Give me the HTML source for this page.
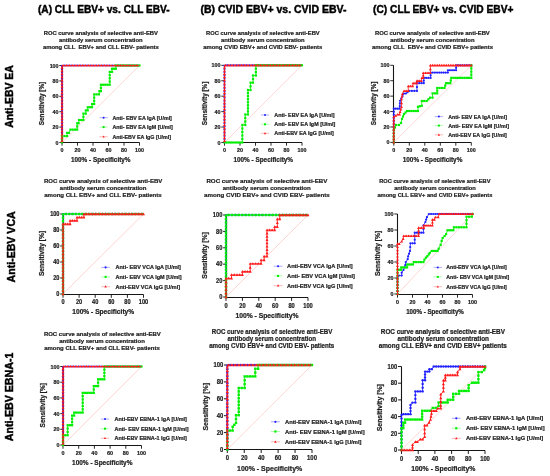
<!DOCTYPE html>
<html><head><meta charset="utf-8"><title>ROC curves</title>
<style>
html,body{margin:0;padding:0;background:#fff;}
body{width:550px;height:476px;overflow:hidden;}
svg{display:block;will-change:transform;}
text{font-family:"Liberation Sans", sans-serif;}
</style></head><body>
<svg width="550" height="476" viewBox="0 0 550 476">
<rect width="550" height="476" fill="#fff"/>
<text x="38.00" y="12.80" font-size="11.20" fill="#000" font-weight="bold" stroke="#000" stroke-width="0.45" textLength="131.60" lengthAdjust="spacingAndGlyphs" xml:space="preserve">(A) CLL EBV+ vs. CLL EBV-</text>
<text x="200.50" y="12.80" font-size="11.20" fill="#000" font-weight="bold" stroke="#000" stroke-width="0.45" textLength="145.90" lengthAdjust="spacingAndGlyphs" xml:space="preserve">(B) CVID EBV+ vs. CVID EBV-</text>
<text x="373.10" y="12.80" font-size="11.20" fill="#000" font-weight="bold" stroke="#000" stroke-width="0.45" textLength="140.40" lengthAdjust="spacingAndGlyphs" xml:space="preserve">(C) CLL EBV+ vs. CVID EBV+</text>
<text x="13.40" y="127.80" font-size="10.90" fill="#000" font-weight="bold" stroke="#000" stroke-width="0.45" textLength="62.70" lengthAdjust="spacingAndGlyphs" transform="rotate(-90 13.40 127.80)" xml:space="preserve">Anti-EBV EA</text>
<text x="15.50" y="282.40" font-size="10.90" fill="#000" font-weight="bold" stroke="#000" stroke-width="0.45" textLength="71.10" lengthAdjust="spacingAndGlyphs" transform="rotate(-90 15.50 282.40)" xml:space="preserve">Anti-EBV VCA</text>
<text x="13.40" y="441.30" font-size="10.90" fill="#000" font-weight="bold" stroke="#000" stroke-width="0.45" textLength="88.70" lengthAdjust="spacingAndGlyphs" transform="rotate(-90 13.40 441.30)" xml:space="preserve">Anti-EBV EBNA-1</text>
<text x="58.61" y="144.59" font-size="6.08" fill="#1e1e1e" font-weight="bold" stroke="#1e1e1e" stroke-width="0.22" text-anchor="end" textLength="2.99" lengthAdjust="spacingAndGlyphs" xml:space="preserve">0</text>
<text x="62.00" y="152.07" font-size="6.08" fill="#1e1e1e" font-weight="bold" stroke="#1e1e1e" stroke-width="0.22" text-anchor="middle" textLength="2.99" lengthAdjust="spacingAndGlyphs" xml:space="preserve">0</text>
<text x="58.61" y="129.19" font-size="6.08" fill="#1e1e1e" font-weight="bold" stroke="#1e1e1e" stroke-width="0.22" text-anchor="end" textLength="5.99" lengthAdjust="spacingAndGlyphs" xml:space="preserve">20</text>
<text x="77.50" y="152.07" font-size="6.08" fill="#1e1e1e" font-weight="bold" stroke="#1e1e1e" stroke-width="0.22" text-anchor="middle" textLength="5.99" lengthAdjust="spacingAndGlyphs" xml:space="preserve">20</text>
<text x="58.61" y="113.79" font-size="6.08" fill="#1e1e1e" font-weight="bold" stroke="#1e1e1e" stroke-width="0.22" text-anchor="end" textLength="5.99" lengthAdjust="spacingAndGlyphs" xml:space="preserve">40</text>
<text x="93.00" y="152.07" font-size="6.08" fill="#1e1e1e" font-weight="bold" stroke="#1e1e1e" stroke-width="0.22" text-anchor="middle" textLength="5.99" lengthAdjust="spacingAndGlyphs" xml:space="preserve">40</text>
<text x="58.61" y="98.39" font-size="6.08" fill="#1e1e1e" font-weight="bold" stroke="#1e1e1e" stroke-width="0.22" text-anchor="end" textLength="5.99" lengthAdjust="spacingAndGlyphs" xml:space="preserve">60</text>
<text x="108.50" y="152.07" font-size="6.08" fill="#1e1e1e" font-weight="bold" stroke="#1e1e1e" stroke-width="0.22" text-anchor="middle" textLength="5.99" lengthAdjust="spacingAndGlyphs" xml:space="preserve">60</text>
<text x="58.61" y="82.99" font-size="6.08" fill="#1e1e1e" font-weight="bold" stroke="#1e1e1e" stroke-width="0.22" text-anchor="end" textLength="5.99" lengthAdjust="spacingAndGlyphs" xml:space="preserve">80</text>
<text x="124.00" y="152.07" font-size="6.08" fill="#1e1e1e" font-weight="bold" stroke="#1e1e1e" stroke-width="0.22" text-anchor="middle" textLength="5.99" lengthAdjust="spacingAndGlyphs" xml:space="preserve">80</text>
<text x="58.61" y="67.59" font-size="6.08" fill="#1e1e1e" font-weight="bold" stroke="#1e1e1e" stroke-width="0.22" text-anchor="end" textLength="8.98" lengthAdjust="spacingAndGlyphs" xml:space="preserve">100</text>
<text x="139.50" y="152.07" font-size="6.08" fill="#1e1e1e" font-weight="bold" stroke="#1e1e1e" stroke-width="0.22" text-anchor="middle" textLength="8.98" lengthAdjust="spacingAndGlyphs" xml:space="preserve">100</text>
<text x="100.75" y="162.00" font-size="6.38" fill="#1e1e1e" font-weight="bold" stroke="#1e1e1e" stroke-width="0.22" text-anchor="middle" textLength="59.60" lengthAdjust="spacingAndGlyphs" xml:space="preserve">100% - Specificity%</text>
<text x="44.20" y="103.50" font-size="6.38" fill="#1e1e1e" font-weight="bold" stroke="#1e1e1e" stroke-width="0.22" text-anchor="middle" textLength="43.50" lengthAdjust="spacingAndGlyphs" transform="rotate(-90 44.20 103.50)" xml:space="preserve">Sensitivity [%]</text>
<line x1="62.00" y1="142.50" x2="139.50" y2="65.50" stroke="#ffc0c0" stroke-width="0.65"/>
<path d="M62.50,65.50 V142.50 H139.50" fill="none" stroke="#151515" stroke-width="1.1"/>
<line x1="59.31" y1="142.50" x2="62.50" y2="142.50" stroke="#151515" stroke-width="0.90"/>
<line x1="62.00" y1="142.50" x2="62.00" y2="145.69" stroke="#151515" stroke-width="0.90"/>
<line x1="59.31" y1="127.10" x2="62.50" y2="127.10" stroke="#151515" stroke-width="0.90"/>
<line x1="77.50" y1="142.50" x2="77.50" y2="145.69" stroke="#151515" stroke-width="0.90"/>
<line x1="59.31" y1="111.70" x2="62.50" y2="111.70" stroke="#151515" stroke-width="0.90"/>
<line x1="93.00" y1="142.50" x2="93.00" y2="145.69" stroke="#151515" stroke-width="0.90"/>
<line x1="59.31" y1="96.30" x2="62.50" y2="96.30" stroke="#151515" stroke-width="0.90"/>
<line x1="108.50" y1="142.50" x2="108.50" y2="145.69" stroke="#151515" stroke-width="0.90"/>
<line x1="59.31" y1="80.90" x2="62.50" y2="80.90" stroke="#151515" stroke-width="0.90"/>
<line x1="124.00" y1="142.50" x2="124.00" y2="145.69" stroke="#151515" stroke-width="0.90"/>
<line x1="59.31" y1="65.50" x2="62.50" y2="65.50" stroke="#151515" stroke-width="0.90"/>
<line x1="139.50" y1="142.50" x2="139.50" y2="145.69" stroke="#151515" stroke-width="0.90"/>
<path d="M62.00,142.50 L62.00,65.50 L139.50,65.50" fill="none" stroke="#1f1fff" stroke-width="0.80"/>
<circle cx="62.00" cy="142.50" r="1.10" fill="#1f1fff"/>
<circle cx="62.00" cy="139.31" r="1.10" fill="#1f1fff"/>
<circle cx="62.00" cy="136.12" r="1.10" fill="#1f1fff"/>
<circle cx="62.00" cy="132.93" r="1.10" fill="#1f1fff"/>
<circle cx="62.00" cy="129.74" r="1.10" fill="#1f1fff"/>
<circle cx="62.00" cy="126.55" r="1.10" fill="#1f1fff"/>
<circle cx="62.00" cy="123.36" r="1.10" fill="#1f1fff"/>
<circle cx="62.00" cy="120.17" r="1.10" fill="#1f1fff"/>
<circle cx="62.00" cy="116.98" r="1.10" fill="#1f1fff"/>
<circle cx="62.00" cy="113.79" r="1.10" fill="#1f1fff"/>
<circle cx="62.00" cy="110.60" r="1.10" fill="#1f1fff"/>
<circle cx="62.00" cy="107.41" r="1.10" fill="#1f1fff"/>
<circle cx="62.00" cy="104.22" r="1.10" fill="#1f1fff"/>
<circle cx="62.00" cy="101.03" r="1.10" fill="#1f1fff"/>
<circle cx="62.00" cy="97.84" r="1.10" fill="#1f1fff"/>
<circle cx="62.00" cy="94.65" r="1.10" fill="#1f1fff"/>
<circle cx="62.00" cy="91.47" r="1.10" fill="#1f1fff"/>
<circle cx="62.00" cy="88.28" r="1.10" fill="#1f1fff"/>
<circle cx="62.00" cy="85.09" r="1.10" fill="#1f1fff"/>
<circle cx="62.00" cy="81.90" r="1.10" fill="#1f1fff"/>
<circle cx="62.00" cy="78.71" r="1.10" fill="#1f1fff"/>
<circle cx="62.00" cy="75.52" r="1.10" fill="#1f1fff"/>
<circle cx="62.00" cy="72.33" r="1.10" fill="#1f1fff"/>
<circle cx="62.00" cy="69.14" r="1.10" fill="#1f1fff"/>
<circle cx="62.00" cy="65.95" r="1.10" fill="#1f1fff"/>
<circle cx="64.74" cy="65.50" r="1.10" fill="#1f1fff"/>
<circle cx="67.93" cy="65.50" r="1.10" fill="#1f1fff"/>
<circle cx="71.12" cy="65.50" r="1.10" fill="#1f1fff"/>
<circle cx="74.31" cy="65.50" r="1.10" fill="#1f1fff"/>
<circle cx="77.50" cy="65.50" r="1.10" fill="#1f1fff"/>
<circle cx="80.69" cy="65.50" r="1.10" fill="#1f1fff"/>
<circle cx="83.88" cy="65.50" r="1.10" fill="#1f1fff"/>
<circle cx="87.07" cy="65.50" r="1.10" fill="#1f1fff"/>
<circle cx="90.26" cy="65.50" r="1.10" fill="#1f1fff"/>
<circle cx="93.45" cy="65.50" r="1.10" fill="#1f1fff"/>
<circle cx="96.64" cy="65.50" r="1.10" fill="#1f1fff"/>
<circle cx="99.83" cy="65.50" r="1.10" fill="#1f1fff"/>
<circle cx="103.02" cy="65.50" r="1.10" fill="#1f1fff"/>
<circle cx="106.21" cy="65.50" r="1.10" fill="#1f1fff"/>
<circle cx="109.40" cy="65.50" r="1.10" fill="#1f1fff"/>
<circle cx="112.59" cy="65.50" r="1.10" fill="#1f1fff"/>
<circle cx="115.78" cy="65.50" r="1.10" fill="#1f1fff"/>
<circle cx="118.97" cy="65.50" r="1.10" fill="#1f1fff"/>
<circle cx="122.16" cy="65.50" r="1.10" fill="#1f1fff"/>
<circle cx="125.35" cy="65.50" r="1.10" fill="#1f1fff"/>
<circle cx="128.54" cy="65.50" r="1.10" fill="#1f1fff"/>
<circle cx="131.73" cy="65.50" r="1.10" fill="#1f1fff"/>
<circle cx="134.91" cy="65.50" r="1.10" fill="#1f1fff"/>
<circle cx="138.10" cy="65.50" r="1.10" fill="#1f1fff"/>
<path d="M62.00,142.50 L62.00,136.11 L67.11,136.11 L67.11,132.88 L68.97,132.88 L70.45,129.64 L77.19,129.64 L77.19,123.25 L78.59,123.25 L79.05,120.02 L83.39,120.02 L83.39,113.62 L85.79,113.62 L85.79,110.39 L87.73,110.39 L87.73,107.23 L92.07,107.23 L92.07,104.00 L94.16,104.00 L94.16,94.38 L98.97,94.38 L99.43,91.14 L100.91,91.14 L100.91,84.75 L109.74,84.75 L109.74,71.89 L111.99,71.89 L111.99,68.73 L115.86,68.73 L115.86,65.50 L139.50,65.50" fill="none" stroke="#00ee00" stroke-width="0.80"/>
<rect x="60.90" y="141.40" width="2.19" height="2.19" fill="#00ee00"/>
<rect x="60.90" y="138.21" width="2.19" height="2.19" fill="#00ee00"/>
<rect x="60.90" y="135.01" width="2.19" height="2.19" fill="#00ee00"/>
<rect x="63.46" y="135.01" width="2.19" height="2.19" fill="#00ee00"/>
<rect x="66.02" y="135.01" width="2.19" height="2.19" fill="#00ee00"/>
<rect x="66.02" y="131.78" width="2.19" height="2.19" fill="#00ee00"/>
<rect x="67.88" y="131.78" width="2.19" height="2.19" fill="#00ee00"/>
<rect x="69.35" y="128.54" width="2.19" height="2.19" fill="#00ee00"/>
<rect x="71.60" y="128.54" width="2.19" height="2.19" fill="#00ee00"/>
<rect x="73.85" y="128.54" width="2.19" height="2.19" fill="#00ee00"/>
<rect x="76.09" y="128.54" width="2.19" height="2.19" fill="#00ee00"/>
<rect x="76.09" y="125.35" width="2.19" height="2.19" fill="#00ee00"/>
<rect x="76.09" y="122.15" width="2.19" height="2.19" fill="#00ee00"/>
<rect x="77.49" y="122.15" width="2.19" height="2.19" fill="#00ee00"/>
<rect x="77.95" y="118.92" width="2.19" height="2.19" fill="#00ee00"/>
<rect x="80.12" y="118.92" width="2.19" height="2.19" fill="#00ee00"/>
<rect x="82.29" y="118.92" width="2.19" height="2.19" fill="#00ee00"/>
<rect x="82.29" y="115.72" width="2.19" height="2.19" fill="#00ee00"/>
<rect x="82.29" y="112.53" width="2.19" height="2.19" fill="#00ee00"/>
<rect x="84.70" y="112.53" width="2.19" height="2.19" fill="#00ee00"/>
<rect x="84.70" y="109.29" width="2.19" height="2.19" fill="#00ee00"/>
<rect x="86.63" y="109.29" width="2.19" height="2.19" fill="#00ee00"/>
<rect x="86.63" y="106.14" width="2.19" height="2.19" fill="#00ee00"/>
<rect x="88.80" y="106.14" width="2.19" height="2.19" fill="#00ee00"/>
<rect x="90.97" y="106.14" width="2.19" height="2.19" fill="#00ee00"/>
<rect x="90.97" y="102.90" width="2.19" height="2.19" fill="#00ee00"/>
<rect x="93.07" y="102.90" width="2.19" height="2.19" fill="#00ee00"/>
<rect x="93.07" y="99.70" width="2.19" height="2.19" fill="#00ee00"/>
<rect x="93.07" y="96.49" width="2.19" height="2.19" fill="#00ee00"/>
<rect x="93.07" y="93.28" width="2.19" height="2.19" fill="#00ee00"/>
<rect x="95.47" y="93.28" width="2.19" height="2.19" fill="#00ee00"/>
<rect x="97.87" y="93.28" width="2.19" height="2.19" fill="#00ee00"/>
<rect x="98.34" y="90.04" width="2.19" height="2.19" fill="#00ee00"/>
<rect x="99.81" y="90.04" width="2.19" height="2.19" fill="#00ee00"/>
<rect x="99.81" y="86.85" width="2.19" height="2.19" fill="#00ee00"/>
<rect x="99.81" y="83.65" width="2.19" height="2.19" fill="#00ee00"/>
<rect x="102.02" y="83.65" width="2.19" height="2.19" fill="#00ee00"/>
<rect x="104.23" y="83.65" width="2.19" height="2.19" fill="#00ee00"/>
<rect x="106.43" y="83.65" width="2.19" height="2.19" fill="#00ee00"/>
<rect x="108.64" y="83.65" width="2.19" height="2.19" fill="#00ee00"/>
<rect x="108.64" y="80.44" width="2.19" height="2.19" fill="#00ee00"/>
<rect x="108.64" y="77.22" width="2.19" height="2.19" fill="#00ee00"/>
<rect x="108.64" y="74.01" width="2.19" height="2.19" fill="#00ee00"/>
<rect x="108.64" y="70.79" width="2.19" height="2.19" fill="#00ee00"/>
<rect x="110.89" y="70.79" width="2.19" height="2.19" fill="#00ee00"/>
<rect x="110.89" y="67.64" width="2.19" height="2.19" fill="#00ee00"/>
<rect x="112.83" y="67.64" width="2.19" height="2.19" fill="#00ee00"/>
<rect x="114.77" y="67.64" width="2.19" height="2.19" fill="#00ee00"/>
<rect x="114.77" y="64.40" width="2.19" height="2.19" fill="#00ee00"/>
<rect x="117.13" y="64.40" width="2.19" height="2.19" fill="#00ee00"/>
<rect x="119.49" y="64.40" width="2.19" height="2.19" fill="#00ee00"/>
<rect x="121.86" y="64.40" width="2.19" height="2.19" fill="#00ee00"/>
<rect x="124.22" y="64.40" width="2.19" height="2.19" fill="#00ee00"/>
<rect x="126.58" y="64.40" width="2.19" height="2.19" fill="#00ee00"/>
<rect x="128.95" y="64.40" width="2.19" height="2.19" fill="#00ee00"/>
<rect x="131.31" y="64.40" width="2.19" height="2.19" fill="#00ee00"/>
<rect x="133.68" y="64.40" width="2.19" height="2.19" fill="#00ee00"/>
<rect x="136.04" y="64.40" width="2.19" height="2.19" fill="#00ee00"/>
<rect x="138.40" y="64.40" width="2.19" height="2.19" fill="#00ee00"/>
<path d="M62.00,142.50 L62.00,65.50 L139.50,65.50" fill="none" stroke="#ff1a1a" stroke-width="0.80"/>
<path d="M62.00,139.42 L63.43,142.00 L60.57,142.00Z" fill="#ff1a1a"/>
<path d="M62.00,136.24 L63.43,138.81 L60.57,138.81Z" fill="#ff1a1a"/>
<path d="M62.00,133.05 L63.43,135.62 L60.57,135.62Z" fill="#ff1a1a"/>
<path d="M62.00,129.86 L63.43,132.43 L60.57,132.43Z" fill="#ff1a1a"/>
<path d="M62.00,126.67 L63.43,129.24 L60.57,129.24Z" fill="#ff1a1a"/>
<path d="M62.00,123.48 L63.43,126.05 L60.57,126.05Z" fill="#ff1a1a"/>
<path d="M62.00,120.29 L63.43,122.86 L60.57,122.86Z" fill="#ff1a1a"/>
<path d="M62.00,117.10 L63.43,119.67 L60.57,119.67Z" fill="#ff1a1a"/>
<path d="M62.00,113.91 L63.43,116.48 L60.57,116.48Z" fill="#ff1a1a"/>
<path d="M62.00,110.72 L63.43,113.29 L60.57,113.29Z" fill="#ff1a1a"/>
<path d="M62.00,107.53 L63.43,110.10 L60.57,110.10Z" fill="#ff1a1a"/>
<path d="M62.00,104.34 L63.43,106.92 L60.57,106.92Z" fill="#ff1a1a"/>
<path d="M62.00,101.15 L63.43,103.73 L60.57,103.73Z" fill="#ff1a1a"/>
<path d="M62.00,97.96 L63.43,100.54 L60.57,100.54Z" fill="#ff1a1a"/>
<path d="M62.00,94.77 L63.43,97.35 L60.57,97.35Z" fill="#ff1a1a"/>
<path d="M62.00,91.58 L63.43,94.16 L60.57,94.16Z" fill="#ff1a1a"/>
<path d="M62.00,88.39 L63.43,90.97 L60.57,90.97Z" fill="#ff1a1a"/>
<path d="M62.00,85.20 L63.43,87.78 L60.57,87.78Z" fill="#ff1a1a"/>
<path d="M62.00,82.01 L63.43,84.59 L60.57,84.59Z" fill="#ff1a1a"/>
<path d="M62.00,78.82 L63.43,81.40 L60.57,81.40Z" fill="#ff1a1a"/>
<path d="M62.00,75.63 L63.43,78.21 L60.57,78.21Z" fill="#ff1a1a"/>
<path d="M62.00,72.44 L63.43,75.02 L60.57,75.02Z" fill="#ff1a1a"/>
<path d="M62.00,69.25 L63.43,71.83 L60.57,71.83Z" fill="#ff1a1a"/>
<path d="M62.00,66.06 L63.43,68.64 L60.57,68.64Z" fill="#ff1a1a"/>
<path d="M63.15,64.02 L64.57,66.60 L61.72,66.60Z" fill="#ff1a1a"/>
<path d="M66.34,64.02 L67.76,66.60 L64.91,66.60Z" fill="#ff1a1a"/>
<path d="M69.53,64.02 L70.95,66.60 L68.10,66.60Z" fill="#ff1a1a"/>
<path d="M72.72,64.02 L74.14,66.60 L71.29,66.60Z" fill="#ff1a1a"/>
<path d="M75.91,64.02 L77.33,66.60 L74.48,66.60Z" fill="#ff1a1a"/>
<path d="M79.10,64.02 L80.52,66.60 L77.67,66.60Z" fill="#ff1a1a"/>
<path d="M82.29,64.02 L83.71,66.60 L80.86,66.60Z" fill="#ff1a1a"/>
<path d="M85.47,64.02 L86.90,66.60 L84.05,66.60Z" fill="#ff1a1a"/>
<path d="M88.66,64.02 L90.09,66.60 L87.24,66.60Z" fill="#ff1a1a"/>
<path d="M91.85,64.02 L93.28,66.60 L90.43,66.60Z" fill="#ff1a1a"/>
<path d="M95.04,64.02 L96.47,66.60 L93.62,66.60Z" fill="#ff1a1a"/>
<path d="M98.23,64.02 L99.66,66.60 L96.81,66.60Z" fill="#ff1a1a"/>
<path d="M101.42,64.02 L102.85,66.60 L100.00,66.60Z" fill="#ff1a1a"/>
<path d="M104.61,64.02 L106.04,66.60 L103.19,66.60Z" fill="#ff1a1a"/>
<path d="M107.80,64.02 L109.23,66.60 L106.38,66.60Z" fill="#ff1a1a"/>
<path d="M110.99,64.02 L112.42,66.60 L109.57,66.60Z" fill="#ff1a1a"/>
<path d="M114.18,64.02 L115.61,66.60 L112.76,66.60Z" fill="#ff1a1a"/>
<path d="M117.37,64.02 L118.80,66.60 L115.95,66.60Z" fill="#ff1a1a"/>
<path d="M120.56,64.02 L121.99,66.60 L119.14,66.60Z" fill="#ff1a1a"/>
<path d="M123.75,64.02 L125.18,66.60 L122.33,66.60Z" fill="#ff1a1a"/>
<path d="M126.94,64.02 L128.37,66.60 L125.52,66.60Z" fill="#ff1a1a"/>
<path d="M130.13,64.02 L131.56,66.60 L128.70,66.60Z" fill="#ff1a1a"/>
<path d="M133.32,64.02 L134.75,66.60 L131.89,66.60Z" fill="#ff1a1a"/>
<path d="M136.51,64.02 L137.94,66.60 L135.08,66.60Z" fill="#ff1a1a"/>
<line x1="99.51" y1="117.70" x2="107.69" y2="117.70" stroke="#8c8cff" stroke-width="0.70"/>
<circle cx="103.60" cy="117.70" r="1.00" fill="#1f1fff"/>
<text x="112.40" y="119.59" font-size="5.48" fill="#1e1e1e" font-weight="bold" stroke="#1e1e1e" stroke-width="0.22" textLength="59.50" lengthAdjust="spacingAndGlyphs" xml:space="preserve">Anti- EBV EA IgA [U/ml]</text>
<line x1="99.51" y1="127.10" x2="107.69" y2="127.10" stroke="#8cff8c" stroke-width="0.70"/>
<rect x="102.60" y="126.10" width="1.99" height="1.99" fill="#00ee00"/>
<text x="112.40" y="128.99" font-size="5.48" fill="#1e1e1e" font-weight="bold" stroke="#1e1e1e" stroke-width="0.22" textLength="60.30" lengthAdjust="spacingAndGlyphs" xml:space="preserve">Anti- EBV EA IgM [U/ml]</text>
<line x1="99.51" y1="136.70" x2="107.69" y2="136.70" stroke="#ff9a9a" stroke-width="0.70"/>
<path d="M103.60,135.40 L104.75,137.55 L102.45,137.55Z" fill="#ff1a1a"/>
<text x="112.40" y="138.59" font-size="5.48" fill="#1e1e1e" font-weight="bold" stroke="#1e1e1e" stroke-width="0.22" textLength="58.70" lengthAdjust="spacingAndGlyphs" xml:space="preserve">Anti-EBV EA IgG [U/ml]</text>
<text x="43.70" y="35.40" font-size="5.88" fill="#1e1e1e" font-weight="bold" stroke="#1e1e1e" stroke-width="0.22" textLength="114.20" lengthAdjust="spacingAndGlyphs" xml:space="preserve">ROC curve analysis of selective anti-EBV</text>
<text x="58.90" y="42.10" font-size="5.88" fill="#1e1e1e" font-weight="bold" stroke="#1e1e1e" stroke-width="0.22" textLength="83.70" lengthAdjust="spacingAndGlyphs" xml:space="preserve">antibody serum concentration</text>
<text x="42.90" y="48.90" font-size="5.88" fill="#1e1e1e" font-weight="bold" stroke="#1e1e1e" stroke-width="0.22" textLength="115.90" lengthAdjust="spacingAndGlyphs" xml:space="preserve">among CLL  EBV+ and CLL EBV- patients</text>
<text x="220.61" y="144.60" font-size="6.09" fill="#1e1e1e" font-weight="bold" stroke="#1e1e1e" stroke-width="0.22" text-anchor="end" textLength="3.00" lengthAdjust="spacingAndGlyphs" xml:space="preserve">0</text>
<text x="224.50" y="152.08" font-size="6.09" fill="#1e1e1e" font-weight="bold" stroke="#1e1e1e" stroke-width="0.22" text-anchor="middle" textLength="3.00" lengthAdjust="spacingAndGlyphs" xml:space="preserve">0</text>
<text x="220.61" y="129.16" font-size="6.09" fill="#1e1e1e" font-weight="bold" stroke="#1e1e1e" stroke-width="0.22" text-anchor="end" textLength="5.99" lengthAdjust="spacingAndGlyphs" xml:space="preserve">20</text>
<text x="240.00" y="152.08" font-size="6.09" fill="#1e1e1e" font-weight="bold" stroke="#1e1e1e" stroke-width="0.22" text-anchor="middle" textLength="5.99" lengthAdjust="spacingAndGlyphs" xml:space="preserve">20</text>
<text x="220.61" y="113.72" font-size="6.09" fill="#1e1e1e" font-weight="bold" stroke="#1e1e1e" stroke-width="0.22" text-anchor="end" textLength="5.99" lengthAdjust="spacingAndGlyphs" xml:space="preserve">40</text>
<text x="255.50" y="152.08" font-size="6.09" fill="#1e1e1e" font-weight="bold" stroke="#1e1e1e" stroke-width="0.22" text-anchor="middle" textLength="5.99" lengthAdjust="spacingAndGlyphs" xml:space="preserve">40</text>
<text x="220.61" y="98.28" font-size="6.09" fill="#1e1e1e" font-weight="bold" stroke="#1e1e1e" stroke-width="0.22" text-anchor="end" textLength="5.99" lengthAdjust="spacingAndGlyphs" xml:space="preserve">60</text>
<text x="271.00" y="152.08" font-size="6.09" fill="#1e1e1e" font-weight="bold" stroke="#1e1e1e" stroke-width="0.22" text-anchor="middle" textLength="5.99" lengthAdjust="spacingAndGlyphs" xml:space="preserve">60</text>
<text x="220.61" y="82.84" font-size="6.09" fill="#1e1e1e" font-weight="bold" stroke="#1e1e1e" stroke-width="0.22" text-anchor="end" textLength="5.99" lengthAdjust="spacingAndGlyphs" xml:space="preserve">80</text>
<text x="286.50" y="152.08" font-size="6.09" fill="#1e1e1e" font-weight="bold" stroke="#1e1e1e" stroke-width="0.22" text-anchor="middle" textLength="5.99" lengthAdjust="spacingAndGlyphs" xml:space="preserve">80</text>
<text x="220.61" y="67.40" font-size="6.09" fill="#1e1e1e" font-weight="bold" stroke="#1e1e1e" stroke-width="0.22" text-anchor="end" textLength="8.99" lengthAdjust="spacingAndGlyphs" xml:space="preserve">100</text>
<text x="302.00" y="152.08" font-size="6.09" fill="#1e1e1e" font-weight="bold" stroke="#1e1e1e" stroke-width="0.22" text-anchor="middle" textLength="8.99" lengthAdjust="spacingAndGlyphs" xml:space="preserve">100</text>
<text x="263.25" y="162.05" font-size="6.39" fill="#1e1e1e" font-weight="bold" stroke="#1e1e1e" stroke-width="0.22" text-anchor="middle" textLength="59.60" lengthAdjust="spacingAndGlyphs" xml:space="preserve">100% - Specificity%</text>
<text x="206.70" y="103.40" font-size="6.39" fill="#1e1e1e" font-weight="bold" stroke="#1e1e1e" stroke-width="0.22" text-anchor="middle" textLength="43.61" lengthAdjust="spacingAndGlyphs" transform="rotate(-90 206.70 103.40)" xml:space="preserve">Sensitivity [%]</text>
<line x1="224.50" y1="142.50" x2="302.00" y2="65.30" stroke="#ffc0c0" stroke-width="0.65"/>
<path d="M224.50,65.30 V142.50 H302.00" fill="none" stroke="#151515" stroke-width="1.1"/>
<line x1="221.31" y1="142.50" x2="224.50" y2="142.50" stroke="#151515" stroke-width="0.90"/>
<line x1="224.50" y1="142.50" x2="224.50" y2="145.69" stroke="#151515" stroke-width="0.90"/>
<line x1="221.31" y1="127.06" x2="224.50" y2="127.06" stroke="#151515" stroke-width="0.90"/>
<line x1="240.00" y1="142.50" x2="240.00" y2="145.69" stroke="#151515" stroke-width="0.90"/>
<line x1="221.31" y1="111.62" x2="224.50" y2="111.62" stroke="#151515" stroke-width="0.90"/>
<line x1="255.50" y1="142.50" x2="255.50" y2="145.69" stroke="#151515" stroke-width="0.90"/>
<line x1="221.31" y1="96.18" x2="224.50" y2="96.18" stroke="#151515" stroke-width="0.90"/>
<line x1="271.00" y1="142.50" x2="271.00" y2="145.69" stroke="#151515" stroke-width="0.90"/>
<line x1="221.31" y1="80.74" x2="224.50" y2="80.74" stroke="#151515" stroke-width="0.90"/>
<line x1="286.50" y1="142.50" x2="286.50" y2="145.69" stroke="#151515" stroke-width="0.90"/>
<line x1="221.31" y1="65.30" x2="224.50" y2="65.30" stroke="#151515" stroke-width="0.90"/>
<line x1="302.00" y1="142.50" x2="302.00" y2="145.69" stroke="#151515" stroke-width="0.90"/>
<path d="M224.50,142.50 L224.50,65.30 L302.00,65.30" fill="none" stroke="#1f1fff" stroke-width="0.80"/>
<circle cx="224.50" cy="142.50" r="1.10" fill="#1f1fff"/>
<circle cx="224.50" cy="139.31" r="1.10" fill="#1f1fff"/>
<circle cx="224.50" cy="136.11" r="1.10" fill="#1f1fff"/>
<circle cx="224.50" cy="132.92" r="1.10" fill="#1f1fff"/>
<circle cx="224.50" cy="129.72" r="1.10" fill="#1f1fff"/>
<circle cx="224.50" cy="126.53" r="1.10" fill="#1f1fff"/>
<circle cx="224.50" cy="123.34" r="1.10" fill="#1f1fff"/>
<circle cx="224.50" cy="120.14" r="1.10" fill="#1f1fff"/>
<circle cx="224.50" cy="116.95" r="1.10" fill="#1f1fff"/>
<circle cx="224.50" cy="113.76" r="1.10" fill="#1f1fff"/>
<circle cx="224.50" cy="110.56" r="1.10" fill="#1f1fff"/>
<circle cx="224.50" cy="107.37" r="1.10" fill="#1f1fff"/>
<circle cx="224.50" cy="104.17" r="1.10" fill="#1f1fff"/>
<circle cx="224.50" cy="100.98" r="1.10" fill="#1f1fff"/>
<circle cx="224.50" cy="97.79" r="1.10" fill="#1f1fff"/>
<circle cx="224.50" cy="94.59" r="1.10" fill="#1f1fff"/>
<circle cx="224.50" cy="91.40" r="1.10" fill="#1f1fff"/>
<circle cx="224.50" cy="88.21" r="1.10" fill="#1f1fff"/>
<circle cx="224.50" cy="85.01" r="1.10" fill="#1f1fff"/>
<circle cx="224.50" cy="81.82" r="1.10" fill="#1f1fff"/>
<circle cx="224.50" cy="78.62" r="1.10" fill="#1f1fff"/>
<circle cx="224.50" cy="75.43" r="1.10" fill="#1f1fff"/>
<circle cx="224.50" cy="72.24" r="1.10" fill="#1f1fff"/>
<circle cx="224.50" cy="69.04" r="1.10" fill="#1f1fff"/>
<circle cx="224.50" cy="65.85" r="1.10" fill="#1f1fff"/>
<circle cx="227.15" cy="65.30" r="1.10" fill="#1f1fff"/>
<circle cx="230.34" cy="65.30" r="1.10" fill="#1f1fff"/>
<circle cx="233.53" cy="65.30" r="1.10" fill="#1f1fff"/>
<circle cx="236.73" cy="65.30" r="1.10" fill="#1f1fff"/>
<circle cx="239.92" cy="65.30" r="1.10" fill="#1f1fff"/>
<circle cx="243.11" cy="65.30" r="1.10" fill="#1f1fff"/>
<circle cx="246.31" cy="65.30" r="1.10" fill="#1f1fff"/>
<circle cx="249.50" cy="65.30" r="1.10" fill="#1f1fff"/>
<circle cx="252.70" cy="65.30" r="1.10" fill="#1f1fff"/>
<circle cx="255.89" cy="65.30" r="1.10" fill="#1f1fff"/>
<circle cx="259.08" cy="65.30" r="1.10" fill="#1f1fff"/>
<circle cx="262.28" cy="65.30" r="1.10" fill="#1f1fff"/>
<circle cx="265.47" cy="65.30" r="1.10" fill="#1f1fff"/>
<circle cx="268.66" cy="65.30" r="1.10" fill="#1f1fff"/>
<circle cx="271.86" cy="65.30" r="1.10" fill="#1f1fff"/>
<circle cx="275.05" cy="65.30" r="1.10" fill="#1f1fff"/>
<circle cx="278.25" cy="65.30" r="1.10" fill="#1f1fff"/>
<circle cx="281.44" cy="65.30" r="1.10" fill="#1f1fff"/>
<circle cx="284.63" cy="65.30" r="1.10" fill="#1f1fff"/>
<circle cx="287.83" cy="65.30" r="1.10" fill="#1f1fff"/>
<circle cx="291.02" cy="65.30" r="1.10" fill="#1f1fff"/>
<circle cx="294.22" cy="65.30" r="1.10" fill="#1f1fff"/>
<circle cx="297.41" cy="65.30" r="1.10" fill="#1f1fff"/>
<circle cx="300.60" cy="65.30" r="1.10" fill="#1f1fff"/>
<path d="M224.50,142.50 L242.32,142.50 L242.32,124.98 L245.27,124.98 L245.27,114.48 L247.98,114.48 L247.98,90.00 L250.54,90.00 L250.54,82.67 L253.02,82.67 L253.02,75.49 L255.89,75.49 L255.89,65.30 L302.00,65.30" fill="none" stroke="#00ee00" stroke-width="0.80"/>
<rect x="223.40" y="141.40" width="2.20" height="2.20" fill="#00ee00"/>
<rect x="225.63" y="141.40" width="2.20" height="2.20" fill="#00ee00"/>
<rect x="227.86" y="141.40" width="2.20" height="2.20" fill="#00ee00"/>
<rect x="230.09" y="141.40" width="2.20" height="2.20" fill="#00ee00"/>
<rect x="232.31" y="141.40" width="2.20" height="2.20" fill="#00ee00"/>
<rect x="234.54" y="141.40" width="2.20" height="2.20" fill="#00ee00"/>
<rect x="236.77" y="141.40" width="2.20" height="2.20" fill="#00ee00"/>
<rect x="239.00" y="141.40" width="2.20" height="2.20" fill="#00ee00"/>
<rect x="241.23" y="141.40" width="2.20" height="2.20" fill="#00ee00"/>
<rect x="241.23" y="137.90" width="2.20" height="2.20" fill="#00ee00"/>
<rect x="241.23" y="134.39" width="2.20" height="2.20" fill="#00ee00"/>
<rect x="241.23" y="130.89" width="2.20" height="2.20" fill="#00ee00"/>
<rect x="241.23" y="127.38" width="2.20" height="2.20" fill="#00ee00"/>
<rect x="241.23" y="123.88" width="2.20" height="2.20" fill="#00ee00"/>
<rect x="244.17" y="123.88" width="2.20" height="2.20" fill="#00ee00"/>
<rect x="244.17" y="120.38" width="2.20" height="2.20" fill="#00ee00"/>
<rect x="244.17" y="116.88" width="2.20" height="2.20" fill="#00ee00"/>
<rect x="244.17" y="113.38" width="2.20" height="2.20" fill="#00ee00"/>
<rect x="246.88" y="113.38" width="2.20" height="2.20" fill="#00ee00"/>
<rect x="246.88" y="110.32" width="2.20" height="2.20" fill="#00ee00"/>
<rect x="246.88" y="107.26" width="2.20" height="2.20" fill="#00ee00"/>
<rect x="246.88" y="104.20" width="2.20" height="2.20" fill="#00ee00"/>
<rect x="246.88" y="101.14" width="2.20" height="2.20" fill="#00ee00"/>
<rect x="246.88" y="98.08" width="2.20" height="2.20" fill="#00ee00"/>
<rect x="246.88" y="95.02" width="2.20" height="2.20" fill="#00ee00"/>
<rect x="246.88" y="91.97" width="2.20" height="2.20" fill="#00ee00"/>
<rect x="246.88" y="88.91" width="2.20" height="2.20" fill="#00ee00"/>
<rect x="249.44" y="88.91" width="2.20" height="2.20" fill="#00ee00"/>
<rect x="249.44" y="85.24" width="2.20" height="2.20" fill="#00ee00"/>
<rect x="249.44" y="81.57" width="2.20" height="2.20" fill="#00ee00"/>
<rect x="251.92" y="81.57" width="2.20" height="2.20" fill="#00ee00"/>
<rect x="251.92" y="77.98" width="2.20" height="2.20" fill="#00ee00"/>
<rect x="251.92" y="74.39" width="2.20" height="2.20" fill="#00ee00"/>
<rect x="254.79" y="74.39" width="2.20" height="2.20" fill="#00ee00"/>
<rect x="254.79" y="71.00" width="2.20" height="2.20" fill="#00ee00"/>
<rect x="254.79" y="67.60" width="2.20" height="2.20" fill="#00ee00"/>
<rect x="254.79" y="64.20" width="2.20" height="2.20" fill="#00ee00"/>
<rect x="257.10" y="64.20" width="2.20" height="2.20" fill="#00ee00"/>
<rect x="259.40" y="64.20" width="2.20" height="2.20" fill="#00ee00"/>
<rect x="261.71" y="64.20" width="2.20" height="2.20" fill="#00ee00"/>
<rect x="264.01" y="64.20" width="2.20" height="2.20" fill="#00ee00"/>
<rect x="266.32" y="64.20" width="2.20" height="2.20" fill="#00ee00"/>
<rect x="268.62" y="64.20" width="2.20" height="2.20" fill="#00ee00"/>
<rect x="270.93" y="64.20" width="2.20" height="2.20" fill="#00ee00"/>
<rect x="273.23" y="64.20" width="2.20" height="2.20" fill="#00ee00"/>
<rect x="275.54" y="64.20" width="2.20" height="2.20" fill="#00ee00"/>
<rect x="277.85" y="64.20" width="2.20" height="2.20" fill="#00ee00"/>
<rect x="280.15" y="64.20" width="2.20" height="2.20" fill="#00ee00"/>
<rect x="282.46" y="64.20" width="2.20" height="2.20" fill="#00ee00"/>
<rect x="284.76" y="64.20" width="2.20" height="2.20" fill="#00ee00"/>
<rect x="287.07" y="64.20" width="2.20" height="2.20" fill="#00ee00"/>
<rect x="289.37" y="64.20" width="2.20" height="2.20" fill="#00ee00"/>
<rect x="291.68" y="64.20" width="2.20" height="2.20" fill="#00ee00"/>
<rect x="293.99" y="64.20" width="2.20" height="2.20" fill="#00ee00"/>
<rect x="296.29" y="64.20" width="2.20" height="2.20" fill="#00ee00"/>
<rect x="298.60" y="64.20" width="2.20" height="2.20" fill="#00ee00"/>
<rect x="300.90" y="64.20" width="2.20" height="2.20" fill="#00ee00"/>
<path d="M224.50,142.50 L224.50,65.30 L302.00,65.30" fill="none" stroke="#ff1a1a" stroke-width="0.80"/>
<path d="M224.50,139.42 L225.93,142.00 L223.07,142.00Z" fill="#ff1a1a"/>
<path d="M224.50,136.23 L225.93,138.81 L223.07,138.81Z" fill="#ff1a1a"/>
<path d="M224.50,133.03 L225.93,135.61 L223.07,135.61Z" fill="#ff1a1a"/>
<path d="M224.50,129.84 L225.93,132.42 L223.07,132.42Z" fill="#ff1a1a"/>
<path d="M224.50,126.65 L225.93,129.23 L223.07,129.23Z" fill="#ff1a1a"/>
<path d="M224.50,123.45 L225.93,126.03 L223.07,126.03Z" fill="#ff1a1a"/>
<path d="M224.50,120.26 L225.93,122.84 L223.07,122.84Z" fill="#ff1a1a"/>
<path d="M224.50,117.06 L225.93,119.64 L223.07,119.64Z" fill="#ff1a1a"/>
<path d="M224.50,113.87 L225.93,116.45 L223.07,116.45Z" fill="#ff1a1a"/>
<path d="M224.50,110.68 L225.93,113.26 L223.07,113.26Z" fill="#ff1a1a"/>
<path d="M224.50,107.48 L225.93,110.06 L223.07,110.06Z" fill="#ff1a1a"/>
<path d="M224.50,104.29 L225.93,106.87 L223.07,106.87Z" fill="#ff1a1a"/>
<path d="M224.50,101.10 L225.93,103.68 L223.07,103.68Z" fill="#ff1a1a"/>
<path d="M224.50,97.90 L225.93,100.48 L223.07,100.48Z" fill="#ff1a1a"/>
<path d="M224.50,94.71 L225.93,97.29 L223.07,97.29Z" fill="#ff1a1a"/>
<path d="M224.50,91.51 L225.93,94.09 L223.07,94.09Z" fill="#ff1a1a"/>
<path d="M224.50,88.32 L225.93,90.90 L223.07,90.90Z" fill="#ff1a1a"/>
<path d="M224.50,85.13 L225.93,87.71 L223.07,87.71Z" fill="#ff1a1a"/>
<path d="M224.50,81.93 L225.93,84.51 L223.07,84.51Z" fill="#ff1a1a"/>
<path d="M224.50,78.74 L225.93,81.32 L223.07,81.32Z" fill="#ff1a1a"/>
<path d="M224.50,75.54 L225.93,78.12 L223.07,78.12Z" fill="#ff1a1a"/>
<path d="M224.50,72.35 L225.93,74.93 L223.07,74.93Z" fill="#ff1a1a"/>
<path d="M224.50,69.16 L225.93,71.74 L223.07,71.74Z" fill="#ff1a1a"/>
<path d="M224.50,65.96 L225.93,68.54 L223.07,68.54Z" fill="#ff1a1a"/>
<path d="M225.55,63.82 L226.98,66.40 L224.12,66.40Z" fill="#ff1a1a"/>
<path d="M228.74,63.82 L230.17,66.40 L227.31,66.40Z" fill="#ff1a1a"/>
<path d="M231.94,63.82 L233.36,66.40 L230.51,66.40Z" fill="#ff1a1a"/>
<path d="M235.13,63.82 L236.56,66.40 L233.70,66.40Z" fill="#ff1a1a"/>
<path d="M238.32,63.82 L239.75,66.40 L236.90,66.40Z" fill="#ff1a1a"/>
<path d="M241.52,63.82 L242.94,66.40 L240.09,66.40Z" fill="#ff1a1a"/>
<path d="M244.71,63.82 L246.14,66.40 L243.28,66.40Z" fill="#ff1a1a"/>
<path d="M247.90,63.82 L249.33,66.40 L246.48,66.40Z" fill="#ff1a1a"/>
<path d="M251.10,63.82 L252.53,66.40 L249.67,66.40Z" fill="#ff1a1a"/>
<path d="M254.29,63.82 L255.72,66.40 L252.87,66.40Z" fill="#ff1a1a"/>
<path d="M257.49,63.82 L258.91,66.40 L256.06,66.40Z" fill="#ff1a1a"/>
<path d="M260.68,63.82 L262.11,66.40 L259.25,66.40Z" fill="#ff1a1a"/>
<path d="M263.87,63.82 L265.30,66.40 L262.45,66.40Z" fill="#ff1a1a"/>
<path d="M267.07,63.82 L268.49,66.40 L265.64,66.40Z" fill="#ff1a1a"/>
<path d="M270.26,63.82 L271.69,66.40 L268.83,66.40Z" fill="#ff1a1a"/>
<path d="M273.46,63.82 L274.88,66.40 L272.03,66.40Z" fill="#ff1a1a"/>
<path d="M276.65,63.82 L278.08,66.40 L275.22,66.40Z" fill="#ff1a1a"/>
<path d="M279.84,63.82 L281.27,66.40 L278.42,66.40Z" fill="#ff1a1a"/>
<path d="M283.04,63.82 L284.46,66.40 L281.61,66.40Z" fill="#ff1a1a"/>
<path d="M286.23,63.82 L287.66,66.40 L284.80,66.40Z" fill="#ff1a1a"/>
<path d="M289.42,63.82 L290.85,66.40 L288.00,66.40Z" fill="#ff1a1a"/>
<path d="M292.62,63.82 L294.05,66.40 L291.19,66.40Z" fill="#ff1a1a"/>
<path d="M295.81,63.82 L297.24,66.40 L294.38,66.40Z" fill="#ff1a1a"/>
<path d="M299.01,63.82 L300.43,66.40 L297.58,66.40Z" fill="#ff1a1a"/>
<line x1="260.91" y1="115.00" x2="269.09" y2="115.00" stroke="#8c8cff" stroke-width="0.70"/>
<circle cx="265.00" cy="115.00" r="1.00" fill="#1f1fff"/>
<text x="274.30" y="116.90" font-size="5.49" fill="#1e1e1e" font-weight="bold" stroke="#1e1e1e" stroke-width="0.22" textLength="60.30" lengthAdjust="spacingAndGlyphs" xml:space="preserve">Anti- EBV EA IgA [U/ml]</text>
<line x1="260.91" y1="124.30" x2="269.09" y2="124.30" stroke="#8cff8c" stroke-width="0.70"/>
<rect x="264.00" y="123.30" width="2.00" height="2.00" fill="#00ee00"/>
<text x="274.30" y="126.20" font-size="5.49" fill="#1e1e1e" font-weight="bold" stroke="#1e1e1e" stroke-width="0.22" textLength="61.10" lengthAdjust="spacingAndGlyphs" xml:space="preserve">Anti- EBV EA IgM [U/ml]</text>
<line x1="260.91" y1="133.30" x2="269.09" y2="133.30" stroke="#ff9a9a" stroke-width="0.70"/>
<path d="M265.00,132.00 L266.15,134.15 L263.85,134.15Z" fill="#ff1a1a"/>
<text x="274.30" y="135.20" font-size="5.49" fill="#1e1e1e" font-weight="bold" stroke="#1e1e1e" stroke-width="0.22" textLength="59.50" lengthAdjust="spacingAndGlyphs" xml:space="preserve">Anti-EBV EA IgG [U/ml]</text>
<text x="206.10" y="35.40" font-size="5.89" fill="#1e1e1e" font-weight="bold" stroke="#1e1e1e" stroke-width="0.22" textLength="113.60" lengthAdjust="spacingAndGlyphs" xml:space="preserve">ROC curve analysis of selective anti-EBV</text>
<text x="221.00" y="42.10" font-size="5.89" fill="#1e1e1e" font-weight="bold" stroke="#1e1e1e" stroke-width="0.22" textLength="83.70" lengthAdjust="spacingAndGlyphs" xml:space="preserve">antibody serum concentration</text>
<text x="203.20" y="48.90" font-size="5.89" fill="#1e1e1e" font-weight="bold" stroke="#1e1e1e" stroke-width="0.22" textLength="119.10" lengthAdjust="spacingAndGlyphs" xml:space="preserve">among CVID EBV+ and CVID EBV- patients</text>
<text x="389.61" y="144.49" font-size="6.08" fill="#1e1e1e" font-weight="bold" stroke="#1e1e1e" stroke-width="0.22" text-anchor="end" textLength="3.00" lengthAdjust="spacingAndGlyphs" xml:space="preserve">0</text>
<text x="393.80" y="152.08" font-size="6.08" fill="#1e1e1e" font-weight="bold" stroke="#1e1e1e" stroke-width="0.22" text-anchor="middle" textLength="3.00" lengthAdjust="spacingAndGlyphs" xml:space="preserve">0</text>
<text x="389.61" y="129.07" font-size="6.08" fill="#1e1e1e" font-weight="bold" stroke="#1e1e1e" stroke-width="0.22" text-anchor="end" textLength="5.99" lengthAdjust="spacingAndGlyphs" xml:space="preserve">20</text>
<text x="409.30" y="152.08" font-size="6.08" fill="#1e1e1e" font-weight="bold" stroke="#1e1e1e" stroke-width="0.22" text-anchor="middle" textLength="5.99" lengthAdjust="spacingAndGlyphs" xml:space="preserve">20</text>
<text x="389.61" y="113.65" font-size="6.08" fill="#1e1e1e" font-weight="bold" stroke="#1e1e1e" stroke-width="0.22" text-anchor="end" textLength="5.99" lengthAdjust="spacingAndGlyphs" xml:space="preserve">40</text>
<text x="424.80" y="152.08" font-size="6.08" fill="#1e1e1e" font-weight="bold" stroke="#1e1e1e" stroke-width="0.22" text-anchor="middle" textLength="5.99" lengthAdjust="spacingAndGlyphs" xml:space="preserve">40</text>
<text x="389.61" y="98.23" font-size="6.08" fill="#1e1e1e" font-weight="bold" stroke="#1e1e1e" stroke-width="0.22" text-anchor="end" textLength="5.99" lengthAdjust="spacingAndGlyphs" xml:space="preserve">60</text>
<text x="440.30" y="152.08" font-size="6.08" fill="#1e1e1e" font-weight="bold" stroke="#1e1e1e" stroke-width="0.22" text-anchor="middle" textLength="5.99" lengthAdjust="spacingAndGlyphs" xml:space="preserve">60</text>
<text x="389.61" y="82.81" font-size="6.08" fill="#1e1e1e" font-weight="bold" stroke="#1e1e1e" stroke-width="0.22" text-anchor="end" textLength="5.99" lengthAdjust="spacingAndGlyphs" xml:space="preserve">80</text>
<text x="455.80" y="152.08" font-size="6.08" fill="#1e1e1e" font-weight="bold" stroke="#1e1e1e" stroke-width="0.22" text-anchor="middle" textLength="5.99" lengthAdjust="spacingAndGlyphs" xml:space="preserve">80</text>
<text x="389.61" y="67.39" font-size="6.08" fill="#1e1e1e" font-weight="bold" stroke="#1e1e1e" stroke-width="0.22" text-anchor="end" textLength="8.99" lengthAdjust="spacingAndGlyphs" xml:space="preserve">100</text>
<text x="471.30" y="152.08" font-size="6.08" fill="#1e1e1e" font-weight="bold" stroke="#1e1e1e" stroke-width="0.22" text-anchor="middle" textLength="8.99" lengthAdjust="spacingAndGlyphs" xml:space="preserve">100</text>
<text x="432.55" y="161.93" font-size="6.38" fill="#1e1e1e" font-weight="bold" stroke="#1e1e1e" stroke-width="0.22" text-anchor="middle" textLength="59.60" lengthAdjust="spacingAndGlyphs" xml:space="preserve">100% - Specificity%</text>
<text x="376.00" y="103.35" font-size="6.38" fill="#1e1e1e" font-weight="bold" stroke="#1e1e1e" stroke-width="0.22" text-anchor="middle" textLength="43.56" lengthAdjust="spacingAndGlyphs" transform="rotate(-90 376.00 103.35)" xml:space="preserve">Sensitivity [%]</text>
<line x1="393.80" y1="142.40" x2="471.30" y2="65.30" stroke="#ffc0c0" stroke-width="0.65"/>
<path d="M393.50,65.30 V142.50 H471.30" fill="none" stroke="#151515" stroke-width="1.1"/>
<line x1="390.31" y1="142.40" x2="393.50" y2="142.40" stroke="#151515" stroke-width="0.90"/>
<line x1="393.80" y1="142.50" x2="393.80" y2="145.69" stroke="#151515" stroke-width="0.90"/>
<line x1="390.31" y1="126.98" x2="393.50" y2="126.98" stroke="#151515" stroke-width="0.90"/>
<line x1="409.30" y1="142.50" x2="409.30" y2="145.69" stroke="#151515" stroke-width="0.90"/>
<line x1="390.31" y1="111.56" x2="393.50" y2="111.56" stroke="#151515" stroke-width="0.90"/>
<line x1="424.80" y1="142.50" x2="424.80" y2="145.69" stroke="#151515" stroke-width="0.90"/>
<line x1="390.31" y1="96.14" x2="393.50" y2="96.14" stroke="#151515" stroke-width="0.90"/>
<line x1="440.30" y1="142.50" x2="440.30" y2="145.69" stroke="#151515" stroke-width="0.90"/>
<line x1="390.31" y1="80.72" x2="393.50" y2="80.72" stroke="#151515" stroke-width="0.90"/>
<line x1="455.80" y1="142.50" x2="455.80" y2="145.69" stroke="#151515" stroke-width="0.90"/>
<line x1="390.31" y1="65.30" x2="393.50" y2="65.30" stroke="#151515" stroke-width="0.90"/>
<line x1="471.30" y1="142.50" x2="471.30" y2="145.69" stroke="#151515" stroke-width="0.90"/>
<path d="M393.80,142.40 L393.80,108.71 L399.61,108.71 L400.08,100.77 L402.48,96.29 L404.03,93.52 L405.89,93.52 L409.30,90.90 L416.97,90.90 L416.97,83.19 L423.79,83.19 L423.79,77.94 L430.61,77.94 L430.61,72.62 L447.89,72.62 L447.89,70.23 L456.11,70.23 L456.11,65.30 L471.30,65.30" fill="none" stroke="#1f1fff" stroke-width="0.80"/>
<circle cx="393.80" cy="142.40" r="1.10" fill="#1f1fff"/>
<circle cx="393.80" cy="139.34" r="1.10" fill="#1f1fff"/>
<circle cx="393.80" cy="136.27" r="1.10" fill="#1f1fff"/>
<circle cx="393.80" cy="133.21" r="1.10" fill="#1f1fff"/>
<circle cx="393.80" cy="130.15" r="1.10" fill="#1f1fff"/>
<circle cx="393.80" cy="127.09" r="1.10" fill="#1f1fff"/>
<circle cx="393.80" cy="124.02" r="1.10" fill="#1f1fff"/>
<circle cx="393.80" cy="120.96" r="1.10" fill="#1f1fff"/>
<circle cx="393.80" cy="117.90" r="1.10" fill="#1f1fff"/>
<circle cx="393.80" cy="114.83" r="1.10" fill="#1f1fff"/>
<circle cx="393.80" cy="111.77" r="1.10" fill="#1f1fff"/>
<circle cx="393.80" cy="108.71" r="1.10" fill="#1f1fff"/>
<circle cx="395.74" cy="108.71" r="1.10" fill="#1f1fff"/>
<circle cx="397.68" cy="108.71" r="1.10" fill="#1f1fff"/>
<circle cx="399.61" cy="108.71" r="1.10" fill="#1f1fff"/>
<circle cx="399.77" cy="106.06" r="1.10" fill="#1f1fff"/>
<circle cx="399.92" cy="103.41" r="1.10" fill="#1f1fff"/>
<circle cx="400.08" cy="100.77" r="1.10" fill="#1f1fff"/>
<circle cx="401.28" cy="98.53" r="1.10" fill="#1f1fff"/>
<circle cx="402.48" cy="96.29" r="1.10" fill="#1f1fff"/>
<circle cx="404.03" cy="93.52" r="1.10" fill="#1f1fff"/>
<circle cx="405.89" cy="93.52" r="1.10" fill="#1f1fff"/>
<circle cx="407.60" cy="92.21" r="1.10" fill="#1f1fff"/>
<circle cx="409.30" cy="90.90" r="1.10" fill="#1f1fff"/>
<circle cx="411.86" cy="90.90" r="1.10" fill="#1f1fff"/>
<circle cx="414.42" cy="90.90" r="1.10" fill="#1f1fff"/>
<circle cx="416.97" cy="90.90" r="1.10" fill="#1f1fff"/>
<circle cx="416.97" cy="87.04" r="1.10" fill="#1f1fff"/>
<circle cx="416.97" cy="83.19" r="1.10" fill="#1f1fff"/>
<circle cx="419.25" cy="83.19" r="1.10" fill="#1f1fff"/>
<circle cx="421.52" cy="83.19" r="1.10" fill="#1f1fff"/>
<circle cx="423.79" cy="83.19" r="1.10" fill="#1f1fff"/>
<circle cx="423.79" cy="80.57" r="1.10" fill="#1f1fff"/>
<circle cx="423.79" cy="77.94" r="1.10" fill="#1f1fff"/>
<circle cx="426.07" cy="77.94" r="1.10" fill="#1f1fff"/>
<circle cx="428.34" cy="77.94" r="1.10" fill="#1f1fff"/>
<circle cx="430.61" cy="77.94" r="1.10" fill="#1f1fff"/>
<circle cx="430.61" cy="75.28" r="1.10" fill="#1f1fff"/>
<circle cx="430.61" cy="72.62" r="1.10" fill="#1f1fff"/>
<circle cx="432.77" cy="72.62" r="1.10" fill="#1f1fff"/>
<circle cx="434.93" cy="72.62" r="1.10" fill="#1f1fff"/>
<circle cx="437.09" cy="72.62" r="1.10" fill="#1f1fff"/>
<circle cx="439.25" cy="72.62" r="1.10" fill="#1f1fff"/>
<circle cx="441.41" cy="72.62" r="1.10" fill="#1f1fff"/>
<circle cx="443.57" cy="72.62" r="1.10" fill="#1f1fff"/>
<circle cx="445.73" cy="72.62" r="1.10" fill="#1f1fff"/>
<circle cx="447.89" cy="72.62" r="1.10" fill="#1f1fff"/>
<circle cx="447.89" cy="70.23" r="1.10" fill="#1f1fff"/>
<circle cx="449.95" cy="70.23" r="1.10" fill="#1f1fff"/>
<circle cx="452.00" cy="70.23" r="1.10" fill="#1f1fff"/>
<circle cx="454.06" cy="70.23" r="1.10" fill="#1f1fff"/>
<circle cx="456.11" cy="70.23" r="1.10" fill="#1f1fff"/>
<circle cx="456.11" cy="67.77" r="1.10" fill="#1f1fff"/>
<circle cx="456.11" cy="65.30" r="1.10" fill="#1f1fff"/>
<circle cx="458.28" cy="65.30" r="1.10" fill="#1f1fff"/>
<circle cx="460.45" cy="65.30" r="1.10" fill="#1f1fff"/>
<circle cx="462.62" cy="65.30" r="1.10" fill="#1f1fff"/>
<circle cx="464.79" cy="65.30" r="1.10" fill="#1f1fff"/>
<circle cx="466.96" cy="65.30" r="1.10" fill="#1f1fff"/>
<circle cx="469.13" cy="65.30" r="1.10" fill="#1f1fff"/>
<circle cx="471.30" cy="65.30" r="1.10" fill="#1f1fff"/>
<path d="M393.80,142.40 L393.80,130.06 L395.97,124.98 L398.99,124.98 L401.01,122.97 L402.01,118.96 L404.03,114.03 L406.98,111.02 L417.98,111.02 L417.98,106.78 L421.78,105.78 L421.78,101.00 L426.74,101.00 L429.99,97.68 L432.55,97.68 L432.55,93.36 L437.20,93.36 L437.20,87.97 L444.49,87.97 L446.04,83.19 L450.30,83.19 L451.31,77.87 L471.30,77.87 L471.30,65.30" fill="none" stroke="#00ee00" stroke-width="0.80"/>
<rect x="392.70" y="141.30" width="2.19" height="2.19" fill="#00ee00"/>
<rect x="392.70" y="138.22" width="2.19" height="2.19" fill="#00ee00"/>
<rect x="392.70" y="135.13" width="2.19" height="2.19" fill="#00ee00"/>
<rect x="392.70" y="132.05" width="2.19" height="2.19" fill="#00ee00"/>
<rect x="392.70" y="128.97" width="2.19" height="2.19" fill="#00ee00"/>
<rect x="393.79" y="126.42" width="2.19" height="2.19" fill="#00ee00"/>
<rect x="394.87" y="123.88" width="2.19" height="2.19" fill="#00ee00"/>
<rect x="397.90" y="123.88" width="2.19" height="2.19" fill="#00ee00"/>
<rect x="399.91" y="121.87" width="2.19" height="2.19" fill="#00ee00"/>
<rect x="400.92" y="117.86" width="2.19" height="2.19" fill="#00ee00"/>
<rect x="401.93" y="115.40" width="2.19" height="2.19" fill="#00ee00"/>
<rect x="402.93" y="112.93" width="2.19" height="2.19" fill="#00ee00"/>
<rect x="404.41" y="111.43" width="2.19" height="2.19" fill="#00ee00"/>
<rect x="405.88" y="109.92" width="2.19" height="2.19" fill="#00ee00"/>
<rect x="408.08" y="109.92" width="2.19" height="2.19" fill="#00ee00"/>
<rect x="410.28" y="109.92" width="2.19" height="2.19" fill="#00ee00"/>
<rect x="412.48" y="109.92" width="2.19" height="2.19" fill="#00ee00"/>
<rect x="414.68" y="109.92" width="2.19" height="2.19" fill="#00ee00"/>
<rect x="416.88" y="109.92" width="2.19" height="2.19" fill="#00ee00"/>
<rect x="416.88" y="105.68" width="2.19" height="2.19" fill="#00ee00"/>
<rect x="418.78" y="105.18" width="2.19" height="2.19" fill="#00ee00"/>
<rect x="420.68" y="104.68" width="2.19" height="2.19" fill="#00ee00"/>
<rect x="420.68" y="99.90" width="2.19" height="2.19" fill="#00ee00"/>
<rect x="423.16" y="99.90" width="2.19" height="2.19" fill="#00ee00"/>
<rect x="425.64" y="99.90" width="2.19" height="2.19" fill="#00ee00"/>
<rect x="427.27" y="98.24" width="2.19" height="2.19" fill="#00ee00"/>
<rect x="428.90" y="96.58" width="2.19" height="2.19" fill="#00ee00"/>
<rect x="431.45" y="96.58" width="2.19" height="2.19" fill="#00ee00"/>
<rect x="431.45" y="92.27" width="2.19" height="2.19" fill="#00ee00"/>
<rect x="433.78" y="92.27" width="2.19" height="2.19" fill="#00ee00"/>
<rect x="436.10" y="92.27" width="2.19" height="2.19" fill="#00ee00"/>
<rect x="436.10" y="89.57" width="2.19" height="2.19" fill="#00ee00"/>
<rect x="436.10" y="86.87" width="2.19" height="2.19" fill="#00ee00"/>
<rect x="438.53" y="86.87" width="2.19" height="2.19" fill="#00ee00"/>
<rect x="440.96" y="86.87" width="2.19" height="2.19" fill="#00ee00"/>
<rect x="443.39" y="86.87" width="2.19" height="2.19" fill="#00ee00"/>
<rect x="444.16" y="84.48" width="2.19" height="2.19" fill="#00ee00"/>
<rect x="444.94" y="82.09" width="2.19" height="2.19" fill="#00ee00"/>
<rect x="447.07" y="82.09" width="2.19" height="2.19" fill="#00ee00"/>
<rect x="449.20" y="82.09" width="2.19" height="2.19" fill="#00ee00"/>
<rect x="449.70" y="79.43" width="2.19" height="2.19" fill="#00ee00"/>
<rect x="450.21" y="76.77" width="2.19" height="2.19" fill="#00ee00"/>
<rect x="452.43" y="76.77" width="2.19" height="2.19" fill="#00ee00"/>
<rect x="454.65" y="76.77" width="2.19" height="2.19" fill="#00ee00"/>
<rect x="456.87" y="76.77" width="2.19" height="2.19" fill="#00ee00"/>
<rect x="459.09" y="76.77" width="2.19" height="2.19" fill="#00ee00"/>
<rect x="461.32" y="76.77" width="2.19" height="2.19" fill="#00ee00"/>
<rect x="463.54" y="76.77" width="2.19" height="2.19" fill="#00ee00"/>
<rect x="465.76" y="76.77" width="2.19" height="2.19" fill="#00ee00"/>
<rect x="467.98" y="76.77" width="2.19" height="2.19" fill="#00ee00"/>
<rect x="470.20" y="76.77" width="2.19" height="2.19" fill="#00ee00"/>
<rect x="470.20" y="73.63" width="2.19" height="2.19" fill="#00ee00"/>
<rect x="470.20" y="70.49" width="2.19" height="2.19" fill="#00ee00"/>
<rect x="470.20" y="67.34" width="2.19" height="2.19" fill="#00ee00"/>
<rect x="470.20" y="64.20" width="2.19" height="2.19" fill="#00ee00"/>
<path d="M393.80,142.40 L393.80,116.96 L397.68,114.49 L399.61,114.49 L400.08,112.02 L401.55,106.93 L401.55,99.22 L402.48,93.83 L404.03,90.90 L408.29,90.90 L408.29,86.12 L412.71,86.12 L413.10,83.19 L416.97,83.19 L416.97,80.80 L421.39,80.80 L421.86,77.87 L423.25,77.87 L423.25,73.01 L430.38,73.01 L430.38,65.30 L471.30,65.30" fill="none" stroke="#ff1a1a" stroke-width="0.80"/>
<path d="M393.80,140.92 L395.23,143.50 L392.37,143.50Z" fill="#ff1a1a"/>
<path d="M393.80,137.74 L395.23,140.32 L392.37,140.32Z" fill="#ff1a1a"/>
<path d="M393.80,134.56 L395.23,137.14 L392.37,137.14Z" fill="#ff1a1a"/>
<path d="M393.80,131.38 L395.23,133.96 L392.37,133.96Z" fill="#ff1a1a"/>
<path d="M393.80,128.20 L395.23,130.78 L392.37,130.78Z" fill="#ff1a1a"/>
<path d="M393.80,125.02 L395.23,127.60 L392.37,127.60Z" fill="#ff1a1a"/>
<path d="M393.80,121.84 L395.23,124.41 L392.37,124.41Z" fill="#ff1a1a"/>
<path d="M393.80,118.66 L395.23,121.23 L392.37,121.23Z" fill="#ff1a1a"/>
<path d="M393.80,115.48 L395.23,118.05 L392.37,118.05Z" fill="#ff1a1a"/>
<path d="M395.74,114.24 L397.16,116.82 L394.31,116.82Z" fill="#ff1a1a"/>
<path d="M397.68,113.01 L399.10,115.59 L396.25,115.59Z" fill="#ff1a1a"/>
<path d="M399.61,113.01 L401.04,115.59 L398.19,115.59Z" fill="#ff1a1a"/>
<path d="M400.08,110.54 L401.50,113.12 L398.65,113.12Z" fill="#ff1a1a"/>
<path d="M400.81,108.00 L402.24,110.58 L399.39,110.58Z" fill="#ff1a1a"/>
<path d="M401.55,105.45 L402.98,108.03 L400.12,108.03Z" fill="#ff1a1a"/>
<path d="M401.55,101.60 L402.98,104.18 L400.12,104.18Z" fill="#ff1a1a"/>
<path d="M401.55,97.74 L402.98,100.32 L400.12,100.32Z" fill="#ff1a1a"/>
<path d="M402.01,95.04 L403.44,97.62 L400.59,97.62Z" fill="#ff1a1a"/>
<path d="M402.48,92.35 L403.91,94.92 L401.05,94.92Z" fill="#ff1a1a"/>
<path d="M404.03,89.42 L405.46,91.99 L402.60,91.99Z" fill="#ff1a1a"/>
<path d="M406.16,89.42 L407.59,91.99 L404.73,91.99Z" fill="#ff1a1a"/>
<path d="M408.29,89.42 L409.72,91.99 L406.87,91.99Z" fill="#ff1a1a"/>
<path d="M408.29,84.64 L409.72,87.21 L406.87,87.21Z" fill="#ff1a1a"/>
<path d="M410.50,84.64 L411.93,87.21 L409.07,87.21Z" fill="#ff1a1a"/>
<path d="M412.71,84.64 L414.14,87.21 L411.28,87.21Z" fill="#ff1a1a"/>
<path d="M413.10,81.71 L414.52,84.28 L411.67,84.28Z" fill="#ff1a1a"/>
<path d="M415.04,81.71 L416.46,84.28 L413.61,84.28Z" fill="#ff1a1a"/>
<path d="M416.97,81.71 L418.40,84.28 L415.55,84.28Z" fill="#ff1a1a"/>
<path d="M416.97,79.32 L418.40,81.89 L415.55,81.89Z" fill="#ff1a1a"/>
<path d="M419.18,79.32 L420.61,81.89 L417.75,81.89Z" fill="#ff1a1a"/>
<path d="M421.39,79.32 L422.82,81.89 L419.96,81.89Z" fill="#ff1a1a"/>
<path d="M421.86,76.39 L423.28,78.96 L420.43,78.96Z" fill="#ff1a1a"/>
<path d="M423.25,76.39 L424.68,78.96 L421.82,78.96Z" fill="#ff1a1a"/>
<path d="M423.25,73.96 L424.68,76.54 L421.82,76.54Z" fill="#ff1a1a"/>
<path d="M423.25,71.53 L424.68,74.11 L421.82,74.11Z" fill="#ff1a1a"/>
<path d="M425.63,71.53 L427.05,74.11 L424.20,74.11Z" fill="#ff1a1a"/>
<path d="M428.00,71.53 L429.43,74.11 L426.58,74.11Z" fill="#ff1a1a"/>
<path d="M430.38,71.53 L431.81,74.11 L428.95,74.11Z" fill="#ff1a1a"/>
<path d="M430.38,67.67 L431.81,70.25 L428.95,70.25Z" fill="#ff1a1a"/>
<path d="M430.38,63.82 L431.81,66.40 L428.95,66.40Z" fill="#ff1a1a"/>
<path d="M432.65,63.82 L434.08,66.40 L431.23,66.40Z" fill="#ff1a1a"/>
<path d="M434.93,63.82 L436.35,66.40 L433.50,66.40Z" fill="#ff1a1a"/>
<path d="M437.20,63.82 L438.63,66.40 L435.77,66.40Z" fill="#ff1a1a"/>
<path d="M439.47,63.82 L440.90,66.40 L438.05,66.40Z" fill="#ff1a1a"/>
<path d="M441.75,63.82 L443.17,66.40 L440.32,66.40Z" fill="#ff1a1a"/>
<path d="M444.02,63.82 L445.45,66.40 L442.59,66.40Z" fill="#ff1a1a"/>
<path d="M446.29,63.82 L447.72,66.40 L444.87,66.40Z" fill="#ff1a1a"/>
<path d="M448.57,63.82 L449.99,66.40 L447.14,66.40Z" fill="#ff1a1a"/>
<path d="M450.84,63.82 L452.27,66.40 L449.41,66.40Z" fill="#ff1a1a"/>
<path d="M453.11,63.82 L454.54,66.40 L451.69,66.40Z" fill="#ff1a1a"/>
<path d="M455.39,63.82 L456.81,66.40 L453.96,66.40Z" fill="#ff1a1a"/>
<path d="M457.66,63.82 L459.09,66.40 L456.23,66.40Z" fill="#ff1a1a"/>
<path d="M459.93,63.82 L461.36,66.40 L458.51,66.40Z" fill="#ff1a1a"/>
<path d="M462.21,63.82 L463.63,66.40 L460.78,66.40Z" fill="#ff1a1a"/>
<path d="M464.48,63.82 L465.91,66.40 L463.05,66.40Z" fill="#ff1a1a"/>
<path d="M466.75,63.82 L468.18,66.40 L465.33,66.40Z" fill="#ff1a1a"/>
<path d="M469.03,63.82 L470.45,66.40 L467.60,66.40Z" fill="#ff1a1a"/>
<path d="M471.30,63.82 L472.73,66.40 L469.87,66.40Z" fill="#ff1a1a"/>
<line x1="434.81" y1="116.60" x2="442.99" y2="116.60" stroke="#8c8cff" stroke-width="0.70"/>
<circle cx="438.90" cy="116.60" r="1.00" fill="#1f1fff"/>
<text x="448.20" y="118.50" font-size="5.49" fill="#1e1e1e" font-weight="bold" stroke="#1e1e1e" stroke-width="0.22" textLength="58.70" lengthAdjust="spacingAndGlyphs" xml:space="preserve">Anti- EBV EA IgA [U/ml]</text>
<line x1="434.81" y1="125.60" x2="442.99" y2="125.60" stroke="#8cff8c" stroke-width="0.70"/>
<rect x="437.90" y="124.60" width="1.99" height="1.99" fill="#00ee00"/>
<text x="448.20" y="127.50" font-size="5.49" fill="#1e1e1e" font-weight="bold" stroke="#1e1e1e" stroke-width="0.22" textLength="60.80" lengthAdjust="spacingAndGlyphs" xml:space="preserve">Anti- EBV EA IgM [U/ml]</text>
<line x1="434.81" y1="134.80" x2="442.99" y2="134.80" stroke="#ff9a9a" stroke-width="0.70"/>
<path d="M438.90,133.50 L440.05,135.65 L437.75,135.65Z" fill="#ff1a1a"/>
<text x="448.20" y="136.70" font-size="5.49" fill="#1e1e1e" font-weight="bold" stroke="#1e1e1e" stroke-width="0.22" textLength="58.70" lengthAdjust="spacingAndGlyphs" xml:space="preserve">Anti-EBV EA IgG [U/ml]</text>
<text x="374.90" y="35.40" font-size="5.88" fill="#1e1e1e" font-weight="bold" stroke="#1e1e1e" stroke-width="0.22" textLength="114.90" lengthAdjust="spacingAndGlyphs" xml:space="preserve">ROC curve analysis of selective anti-EBV</text>
<text x="390.20" y="42.10" font-size="5.88" fill="#1e1e1e" font-weight="bold" stroke="#1e1e1e" stroke-width="0.22" textLength="84.30" lengthAdjust="spacingAndGlyphs" xml:space="preserve">antibody serum concentration</text>
<text x="372.00" y="48.90" font-size="5.88" fill="#1e1e1e" font-weight="bold" stroke="#1e1e1e" stroke-width="0.22" textLength="121.00" lengthAdjust="spacingAndGlyphs" xml:space="preserve">among CLL  EBV+ and CVID EBV+ patients</text>
<text x="59.46" y="296.17" font-size="6.32" fill="#1e1e1e" font-weight="bold" stroke="#1e1e1e" stroke-width="0.22" text-anchor="end" textLength="3.11" lengthAdjust="spacingAndGlyphs" xml:space="preserve">0</text>
<text x="63.00" y="304.44" font-size="6.32" fill="#1e1e1e" font-weight="bold" stroke="#1e1e1e" stroke-width="0.22" text-anchor="middle" textLength="3.11" lengthAdjust="spacingAndGlyphs" xml:space="preserve">0</text>
<text x="59.46" y="280.17" font-size="6.32" fill="#1e1e1e" font-weight="bold" stroke="#1e1e1e" stroke-width="0.22" text-anchor="end" textLength="6.22" lengthAdjust="spacingAndGlyphs" xml:space="preserve">20</text>
<text x="79.10" y="304.44" font-size="6.32" fill="#1e1e1e" font-weight="bold" stroke="#1e1e1e" stroke-width="0.22" text-anchor="middle" textLength="6.22" lengthAdjust="spacingAndGlyphs" xml:space="preserve">20</text>
<text x="59.46" y="264.17" font-size="6.32" fill="#1e1e1e" font-weight="bold" stroke="#1e1e1e" stroke-width="0.22" text-anchor="end" textLength="6.22" lengthAdjust="spacingAndGlyphs" xml:space="preserve">40</text>
<text x="95.20" y="304.44" font-size="6.32" fill="#1e1e1e" font-weight="bold" stroke="#1e1e1e" stroke-width="0.22" text-anchor="middle" textLength="6.22" lengthAdjust="spacingAndGlyphs" xml:space="preserve">40</text>
<text x="59.46" y="248.17" font-size="6.32" fill="#1e1e1e" font-weight="bold" stroke="#1e1e1e" stroke-width="0.22" text-anchor="end" textLength="6.22" lengthAdjust="spacingAndGlyphs" xml:space="preserve">60</text>
<text x="111.30" y="304.44" font-size="6.32" fill="#1e1e1e" font-weight="bold" stroke="#1e1e1e" stroke-width="0.22" text-anchor="middle" textLength="6.22" lengthAdjust="spacingAndGlyphs" xml:space="preserve">60</text>
<text x="59.46" y="232.17" font-size="6.32" fill="#1e1e1e" font-weight="bold" stroke="#1e1e1e" stroke-width="0.22" text-anchor="end" textLength="6.22" lengthAdjust="spacingAndGlyphs" xml:space="preserve">80</text>
<text x="127.40" y="304.44" font-size="6.32" fill="#1e1e1e" font-weight="bold" stroke="#1e1e1e" stroke-width="0.22" text-anchor="middle" textLength="6.22" lengthAdjust="spacingAndGlyphs" xml:space="preserve">80</text>
<text x="59.46" y="216.17" font-size="6.32" fill="#1e1e1e" font-weight="bold" stroke="#1e1e1e" stroke-width="0.22" text-anchor="end" textLength="9.33" lengthAdjust="spacingAndGlyphs" xml:space="preserve">100</text>
<text x="143.50" y="304.44" font-size="6.32" fill="#1e1e1e" font-weight="bold" stroke="#1e1e1e" stroke-width="0.22" text-anchor="middle" textLength="9.33" lengthAdjust="spacingAndGlyphs" xml:space="preserve">100</text>
<text x="103.25" y="314.26" font-size="6.63" fill="#1e1e1e" font-weight="bold" stroke="#1e1e1e" stroke-width="0.22" text-anchor="middle" textLength="61.91" lengthAdjust="spacingAndGlyphs" xml:space="preserve">100% - Specificity%</text>
<text x="44.51" y="253.48" font-size="6.63" fill="#1e1e1e" font-weight="bold" stroke="#1e1e1e" stroke-width="0.22" text-anchor="middle" textLength="45.19" lengthAdjust="spacingAndGlyphs" transform="rotate(-90 44.51 253.48)" xml:space="preserve">Sensitivity [%]</text>
<line x1="63.00" y1="294.00" x2="143.50" y2="214.00" stroke="#ffc0c0" stroke-width="0.65"/>
<path d="M63.50,214.00 V294.50 H143.50" fill="none" stroke="#151515" stroke-width="1.1"/>
<line x1="60.19" y1="294.00" x2="63.50" y2="294.00" stroke="#151515" stroke-width="0.93"/>
<line x1="63.00" y1="294.50" x2="63.00" y2="297.81" stroke="#151515" stroke-width="0.93"/>
<line x1="60.19" y1="278.00" x2="63.50" y2="278.00" stroke="#151515" stroke-width="0.93"/>
<line x1="79.10" y1="294.50" x2="79.10" y2="297.81" stroke="#151515" stroke-width="0.93"/>
<line x1="60.19" y1="262.00" x2="63.50" y2="262.00" stroke="#151515" stroke-width="0.93"/>
<line x1="95.20" y1="294.50" x2="95.20" y2="297.81" stroke="#151515" stroke-width="0.93"/>
<line x1="60.19" y1="246.00" x2="63.50" y2="246.00" stroke="#151515" stroke-width="0.93"/>
<line x1="111.30" y1="294.50" x2="111.30" y2="297.81" stroke="#151515" stroke-width="0.93"/>
<line x1="60.19" y1="230.00" x2="63.50" y2="230.00" stroke="#151515" stroke-width="0.93"/>
<line x1="127.40" y1="294.50" x2="127.40" y2="297.81" stroke="#151515" stroke-width="0.93"/>
<line x1="60.19" y1="214.00" x2="63.50" y2="214.00" stroke="#151515" stroke-width="0.93"/>
<line x1="143.50" y1="294.50" x2="143.50" y2="297.81" stroke="#151515" stroke-width="0.93"/>
<path d="M63.00,294.00 L63.00,214.00 L143.50,214.00" fill="none" stroke="#1f1fff" stroke-width="0.83"/>
<circle cx="63.00" cy="294.00" r="1.14" fill="#1f1fff"/>
<circle cx="63.00" cy="290.69" r="1.14" fill="#1f1fff"/>
<circle cx="63.00" cy="287.37" r="1.14" fill="#1f1fff"/>
<circle cx="63.00" cy="284.06" r="1.14" fill="#1f1fff"/>
<circle cx="63.00" cy="280.75" r="1.14" fill="#1f1fff"/>
<circle cx="63.00" cy="277.43" r="1.14" fill="#1f1fff"/>
<circle cx="63.00" cy="274.12" r="1.14" fill="#1f1fff"/>
<circle cx="63.00" cy="270.81" r="1.14" fill="#1f1fff"/>
<circle cx="63.00" cy="267.49" r="1.14" fill="#1f1fff"/>
<circle cx="63.00" cy="264.18" r="1.14" fill="#1f1fff"/>
<circle cx="63.00" cy="260.86" r="1.14" fill="#1f1fff"/>
<circle cx="63.00" cy="257.55" r="1.14" fill="#1f1fff"/>
<circle cx="63.00" cy="254.24" r="1.14" fill="#1f1fff"/>
<circle cx="63.00" cy="250.92" r="1.14" fill="#1f1fff"/>
<circle cx="63.00" cy="247.61" r="1.14" fill="#1f1fff"/>
<circle cx="63.00" cy="244.30" r="1.14" fill="#1f1fff"/>
<circle cx="63.00" cy="240.98" r="1.14" fill="#1f1fff"/>
<circle cx="63.00" cy="237.67" r="1.14" fill="#1f1fff"/>
<circle cx="63.00" cy="234.36" r="1.14" fill="#1f1fff"/>
<circle cx="63.00" cy="231.04" r="1.14" fill="#1f1fff"/>
<circle cx="63.00" cy="227.73" r="1.14" fill="#1f1fff"/>
<circle cx="63.00" cy="224.42" r="1.14" fill="#1f1fff"/>
<circle cx="63.00" cy="221.10" r="1.14" fill="#1f1fff"/>
<circle cx="63.00" cy="217.79" r="1.14" fill="#1f1fff"/>
<circle cx="63.00" cy="214.47" r="1.14" fill="#1f1fff"/>
<circle cx="65.84" cy="214.00" r="1.14" fill="#1f1fff"/>
<circle cx="69.15" cy="214.00" r="1.14" fill="#1f1fff"/>
<circle cx="72.47" cy="214.00" r="1.14" fill="#1f1fff"/>
<circle cx="75.78" cy="214.00" r="1.14" fill="#1f1fff"/>
<circle cx="79.09" cy="214.00" r="1.14" fill="#1f1fff"/>
<circle cx="82.41" cy="214.00" r="1.14" fill="#1f1fff"/>
<circle cx="85.72" cy="214.00" r="1.14" fill="#1f1fff"/>
<circle cx="89.03" cy="214.00" r="1.14" fill="#1f1fff"/>
<circle cx="92.35" cy="214.00" r="1.14" fill="#1f1fff"/>
<circle cx="95.66" cy="214.00" r="1.14" fill="#1f1fff"/>
<circle cx="98.97" cy="214.00" r="1.14" fill="#1f1fff"/>
<circle cx="102.29" cy="214.00" r="1.14" fill="#1f1fff"/>
<circle cx="105.60" cy="214.00" r="1.14" fill="#1f1fff"/>
<circle cx="108.91" cy="214.00" r="1.14" fill="#1f1fff"/>
<circle cx="112.23" cy="214.00" r="1.14" fill="#1f1fff"/>
<circle cx="115.54" cy="214.00" r="1.14" fill="#1f1fff"/>
<circle cx="118.86" cy="214.00" r="1.14" fill="#1f1fff"/>
<circle cx="122.17" cy="214.00" r="1.14" fill="#1f1fff"/>
<circle cx="125.48" cy="214.00" r="1.14" fill="#1f1fff"/>
<circle cx="128.80" cy="214.00" r="1.14" fill="#1f1fff"/>
<circle cx="132.11" cy="214.00" r="1.14" fill="#1f1fff"/>
<circle cx="135.42" cy="214.00" r="1.14" fill="#1f1fff"/>
<circle cx="138.74" cy="214.00" r="1.14" fill="#1f1fff"/>
<circle cx="142.05" cy="214.00" r="1.14" fill="#1f1fff"/>
<path d="M63.00,294.00 L63.00,214.00 L143.50,214.00" fill="none" stroke="#00ee00" stroke-width="0.83"/>
<rect x="61.86" y="292.86" width="2.28" height="2.28" fill="#00ee00"/>
<rect x="61.86" y="289.55" width="2.28" height="2.28" fill="#00ee00"/>
<rect x="61.86" y="286.23" width="2.28" height="2.28" fill="#00ee00"/>
<rect x="61.86" y="282.92" width="2.28" height="2.28" fill="#00ee00"/>
<rect x="61.86" y="279.61" width="2.28" height="2.28" fill="#00ee00"/>
<rect x="61.86" y="276.29" width="2.28" height="2.28" fill="#00ee00"/>
<rect x="61.86" y="272.98" width="2.28" height="2.28" fill="#00ee00"/>
<rect x="61.86" y="269.67" width="2.28" height="2.28" fill="#00ee00"/>
<rect x="61.86" y="266.35" width="2.28" height="2.28" fill="#00ee00"/>
<rect x="61.86" y="263.04" width="2.28" height="2.28" fill="#00ee00"/>
<rect x="61.86" y="259.73" width="2.28" height="2.28" fill="#00ee00"/>
<rect x="61.86" y="256.41" width="2.28" height="2.28" fill="#00ee00"/>
<rect x="61.86" y="253.10" width="2.28" height="2.28" fill="#00ee00"/>
<rect x="61.86" y="249.78" width="2.28" height="2.28" fill="#00ee00"/>
<rect x="61.86" y="246.47" width="2.28" height="2.28" fill="#00ee00"/>
<rect x="61.86" y="243.16" width="2.28" height="2.28" fill="#00ee00"/>
<rect x="61.86" y="239.84" width="2.28" height="2.28" fill="#00ee00"/>
<rect x="61.86" y="236.53" width="2.28" height="2.28" fill="#00ee00"/>
<rect x="61.86" y="233.22" width="2.28" height="2.28" fill="#00ee00"/>
<rect x="61.86" y="229.90" width="2.28" height="2.28" fill="#00ee00"/>
<rect x="61.86" y="226.59" width="2.28" height="2.28" fill="#00ee00"/>
<rect x="61.86" y="223.28" width="2.28" height="2.28" fill="#00ee00"/>
<rect x="61.86" y="219.96" width="2.28" height="2.28" fill="#00ee00"/>
<rect x="61.86" y="216.65" width="2.28" height="2.28" fill="#00ee00"/>
<rect x="61.86" y="213.34" width="2.28" height="2.28" fill="#00ee00"/>
<rect x="64.70" y="212.86" width="2.28" height="2.28" fill="#00ee00"/>
<rect x="68.01" y="212.86" width="2.28" height="2.28" fill="#00ee00"/>
<rect x="71.33" y="212.86" width="2.28" height="2.28" fill="#00ee00"/>
<rect x="74.64" y="212.86" width="2.28" height="2.28" fill="#00ee00"/>
<rect x="77.95" y="212.86" width="2.28" height="2.28" fill="#00ee00"/>
<rect x="81.27" y="212.86" width="2.28" height="2.28" fill="#00ee00"/>
<rect x="84.58" y="212.86" width="2.28" height="2.28" fill="#00ee00"/>
<rect x="87.89" y="212.86" width="2.28" height="2.28" fill="#00ee00"/>
<rect x="91.21" y="212.86" width="2.28" height="2.28" fill="#00ee00"/>
<rect x="94.52" y="212.86" width="2.28" height="2.28" fill="#00ee00"/>
<rect x="97.84" y="212.86" width="2.28" height="2.28" fill="#00ee00"/>
<rect x="101.15" y="212.86" width="2.28" height="2.28" fill="#00ee00"/>
<rect x="104.46" y="212.86" width="2.28" height="2.28" fill="#00ee00"/>
<rect x="107.78" y="212.86" width="2.28" height="2.28" fill="#00ee00"/>
<rect x="111.09" y="212.86" width="2.28" height="2.28" fill="#00ee00"/>
<rect x="114.40" y="212.86" width="2.28" height="2.28" fill="#00ee00"/>
<rect x="117.72" y="212.86" width="2.28" height="2.28" fill="#00ee00"/>
<rect x="121.03" y="212.86" width="2.28" height="2.28" fill="#00ee00"/>
<rect x="124.34" y="212.86" width="2.28" height="2.28" fill="#00ee00"/>
<rect x="127.66" y="212.86" width="2.28" height="2.28" fill="#00ee00"/>
<rect x="130.97" y="212.86" width="2.28" height="2.28" fill="#00ee00"/>
<rect x="134.28" y="212.86" width="2.28" height="2.28" fill="#00ee00"/>
<rect x="137.60" y="212.86" width="2.28" height="2.28" fill="#00ee00"/>
<rect x="140.91" y="212.86" width="2.28" height="2.28" fill="#00ee00"/>
<path d="M63.00,294.00 L63.00,224.00 L70.08,224.00 L70.08,220.64 L77.01,220.64 L77.01,217.36 L83.93,217.36 L83.93,214.00 L143.50,214.00" fill="none" stroke="#ff1a1a" stroke-width="0.83"/>
<path d="M63.00,292.46 L64.48,295.14 L61.52,295.14Z" fill="#ff1a1a"/>
<path d="M63.00,289.13 L64.48,291.81 L61.52,291.81Z" fill="#ff1a1a"/>
<path d="M63.00,285.80 L64.48,288.47 L61.52,288.47Z" fill="#ff1a1a"/>
<path d="M63.00,282.46 L64.48,285.14 L61.52,285.14Z" fill="#ff1a1a"/>
<path d="M63.00,279.13 L64.48,281.81 L61.52,281.81Z" fill="#ff1a1a"/>
<path d="M63.00,275.80 L64.48,278.47 L61.52,278.47Z" fill="#ff1a1a"/>
<path d="M63.00,272.46 L64.48,275.14 L61.52,275.14Z" fill="#ff1a1a"/>
<path d="M63.00,269.13 L64.48,271.81 L61.52,271.81Z" fill="#ff1a1a"/>
<path d="M63.00,265.80 L64.48,268.47 L61.52,268.47Z" fill="#ff1a1a"/>
<path d="M63.00,262.46 L64.48,265.14 L61.52,265.14Z" fill="#ff1a1a"/>
<path d="M63.00,259.13 L64.48,261.81 L61.52,261.81Z" fill="#ff1a1a"/>
<path d="M63.00,255.80 L64.48,258.47 L61.52,258.47Z" fill="#ff1a1a"/>
<path d="M63.00,252.46 L64.48,255.14 L61.52,255.14Z" fill="#ff1a1a"/>
<path d="M63.00,249.13 L64.48,251.81 L61.52,251.81Z" fill="#ff1a1a"/>
<path d="M63.00,245.80 L64.48,248.47 L61.52,248.47Z" fill="#ff1a1a"/>
<path d="M63.00,242.46 L64.48,245.14 L61.52,245.14Z" fill="#ff1a1a"/>
<path d="M63.00,239.13 L64.48,241.81 L61.52,241.81Z" fill="#ff1a1a"/>
<path d="M63.00,235.80 L64.48,238.47 L61.52,238.47Z" fill="#ff1a1a"/>
<path d="M63.00,232.46 L64.48,235.14 L61.52,235.14Z" fill="#ff1a1a"/>
<path d="M63.00,229.13 L64.48,231.81 L61.52,231.81Z" fill="#ff1a1a"/>
<path d="M63.00,225.80 L64.48,228.47 L61.52,228.47Z" fill="#ff1a1a"/>
<path d="M63.00,222.46 L64.48,225.14 L61.52,225.14Z" fill="#ff1a1a"/>
<path d="M65.36,222.46 L66.84,225.14 L63.88,225.14Z" fill="#ff1a1a"/>
<path d="M67.72,222.46 L69.20,225.14 L66.24,225.14Z" fill="#ff1a1a"/>
<path d="M70.08,222.46 L71.56,225.14 L68.60,225.14Z" fill="#ff1a1a"/>
<path d="M70.08,219.10 L71.56,221.78 L68.60,221.78Z" fill="#ff1a1a"/>
<path d="M72.39,219.10 L73.87,221.78 L70.91,221.78Z" fill="#ff1a1a"/>
<path d="M74.70,219.10 L76.18,221.78 L73.22,221.78Z" fill="#ff1a1a"/>
<path d="M77.01,219.10 L78.49,221.78 L75.53,221.78Z" fill="#ff1a1a"/>
<path d="M77.01,215.82 L78.49,218.50 L75.53,218.50Z" fill="#ff1a1a"/>
<path d="M79.31,215.82 L80.80,218.50 L77.83,218.50Z" fill="#ff1a1a"/>
<path d="M81.62,215.82 L83.10,218.50 L80.14,218.50Z" fill="#ff1a1a"/>
<path d="M83.93,215.82 L85.41,218.50 L82.45,218.50Z" fill="#ff1a1a"/>
<path d="M83.93,212.46 L85.41,215.14 L82.45,215.14Z" fill="#ff1a1a"/>
<path d="M86.31,212.46 L87.79,215.14 L84.83,215.14Z" fill="#ff1a1a"/>
<path d="M88.70,212.46 L90.18,215.14 L87.21,215.14Z" fill="#ff1a1a"/>
<path d="M91.08,212.46 L92.56,215.14 L89.60,215.14Z" fill="#ff1a1a"/>
<path d="M93.46,212.46 L94.94,215.14 L91.98,215.14Z" fill="#ff1a1a"/>
<path d="M95.84,212.46 L97.32,215.14 L94.36,215.14Z" fill="#ff1a1a"/>
<path d="M98.23,212.46 L99.71,215.14 L96.75,215.14Z" fill="#ff1a1a"/>
<path d="M100.61,212.46 L102.09,215.14 L99.13,215.14Z" fill="#ff1a1a"/>
<path d="M102.99,212.46 L104.47,215.14 L101.51,215.14Z" fill="#ff1a1a"/>
<path d="M105.38,212.46 L106.86,215.14 L103.89,215.14Z" fill="#ff1a1a"/>
<path d="M107.76,212.46 L109.24,215.14 L106.28,215.14Z" fill="#ff1a1a"/>
<path d="M110.14,212.46 L111.62,215.14 L108.66,215.14Z" fill="#ff1a1a"/>
<path d="M112.52,212.46 L114.00,215.14 L111.04,215.14Z" fill="#ff1a1a"/>
<path d="M114.91,212.46 L116.39,215.14 L113.43,215.14Z" fill="#ff1a1a"/>
<path d="M117.29,212.46 L118.77,215.14 L115.81,215.14Z" fill="#ff1a1a"/>
<path d="M119.67,212.46 L121.15,215.14 L118.19,215.14Z" fill="#ff1a1a"/>
<path d="M122.05,212.46 L123.54,215.14 L120.57,215.14Z" fill="#ff1a1a"/>
<path d="M124.44,212.46 L125.92,215.14 L122.96,215.14Z" fill="#ff1a1a"/>
<path d="M126.82,212.46 L128.30,215.14 L125.34,215.14Z" fill="#ff1a1a"/>
<path d="M129.20,212.46 L130.68,215.14 L127.72,215.14Z" fill="#ff1a1a"/>
<path d="M131.59,212.46 L133.07,215.14 L130.11,215.14Z" fill="#ff1a1a"/>
<path d="M133.97,212.46 L135.45,215.14 L132.49,215.14Z" fill="#ff1a1a"/>
<path d="M136.35,212.46 L137.83,215.14 L134.87,215.14Z" fill="#ff1a1a"/>
<path d="M138.73,212.46 L140.22,215.14 L137.25,215.14Z" fill="#ff1a1a"/>
<path d="M141.12,212.46 L142.60,215.14 L139.64,215.14Z" fill="#ff1a1a"/>
<path d="M143.50,212.46 L144.98,215.14 L142.02,215.14Z" fill="#ff1a1a"/>
<line x1="101.35" y1="267.40" x2="109.85" y2="267.40" stroke="#8c8cff" stroke-width="0.72"/>
<circle cx="105.60" cy="267.40" r="1.04" fill="#1f1fff"/>
<text x="115.50" y="269.37" font-size="5.70" fill="#1e1e1e" font-weight="bold" stroke="#1e1e1e" stroke-width="0.22" textLength="65.40" lengthAdjust="spacingAndGlyphs" xml:space="preserve">Anti- EBV VCA IgA [U/ml]</text>
<line x1="101.35" y1="276.90" x2="109.85" y2="276.90" stroke="#8cff8c" stroke-width="0.72"/>
<rect x="104.56" y="275.86" width="2.07" height="2.07" fill="#00ee00"/>
<text x="115.50" y="278.87" font-size="5.70" fill="#1e1e1e" font-weight="bold" stroke="#1e1e1e" stroke-width="0.22" textLength="66.20" lengthAdjust="spacingAndGlyphs" xml:space="preserve">Anti- EBV VCA IgM [U/ml]</text>
<line x1="101.35" y1="286.70" x2="109.85" y2="286.70" stroke="#ff9a9a" stroke-width="0.72"/>
<path d="M105.60,285.35 L106.79,287.58 L104.41,287.58Z" fill="#ff1a1a"/>
<text x="115.50" y="288.67" font-size="5.70" fill="#1e1e1e" font-weight="bold" stroke="#1e1e1e" stroke-width="0.22" textLength="64.60" lengthAdjust="spacingAndGlyphs" xml:space="preserve">Anti-EBV VCA IgG [U/ml]</text>
<text x="43.90" y="183.40" font-size="6.11" fill="#1e1e1e" font-weight="bold" stroke="#1e1e1e" stroke-width="0.22" textLength="118.50" lengthAdjust="spacingAndGlyphs" xml:space="preserve">ROC curve analysis of selective anti-EBV</text>
<text x="59.80" y="190.30" font-size="6.11" fill="#1e1e1e" font-weight="bold" stroke="#1e1e1e" stroke-width="0.22" textLength="86.70" lengthAdjust="spacingAndGlyphs" xml:space="preserve">antibody serum concentration</text>
<text x="44.20" y="197.20" font-size="6.11" fill="#1e1e1e" font-weight="bold" stroke="#1e1e1e" stroke-width="0.22" textLength="117.50" lengthAdjust="spacingAndGlyphs" xml:space="preserve">among CLL EBV+ and CLL EBV- patients</text>
<text x="222.37" y="299.22" font-size="6.45" fill="#1e1e1e" font-weight="bold" stroke="#1e1e1e" stroke-width="0.22" text-anchor="end" textLength="3.18" lengthAdjust="spacingAndGlyphs" xml:space="preserve">0</text>
<text x="226.00" y="307.66" font-size="6.45" fill="#1e1e1e" font-weight="bold" stroke="#1e1e1e" stroke-width="0.22" text-anchor="middle" textLength="3.18" lengthAdjust="spacingAndGlyphs" xml:space="preserve">0</text>
<text x="222.37" y="282.82" font-size="6.45" fill="#1e1e1e" font-weight="bold" stroke="#1e1e1e" stroke-width="0.22" text-anchor="end" textLength="6.35" lengthAdjust="spacingAndGlyphs" xml:space="preserve">20</text>
<text x="242.40" y="307.66" font-size="6.45" fill="#1e1e1e" font-weight="bold" stroke="#1e1e1e" stroke-width="0.22" text-anchor="middle" textLength="6.35" lengthAdjust="spacingAndGlyphs" xml:space="preserve">20</text>
<text x="222.37" y="266.42" font-size="6.45" fill="#1e1e1e" font-weight="bold" stroke="#1e1e1e" stroke-width="0.22" text-anchor="end" textLength="6.35" lengthAdjust="spacingAndGlyphs" xml:space="preserve">40</text>
<text x="258.80" y="307.66" font-size="6.45" fill="#1e1e1e" font-weight="bold" stroke="#1e1e1e" stroke-width="0.22" text-anchor="middle" textLength="6.35" lengthAdjust="spacingAndGlyphs" xml:space="preserve">40</text>
<text x="222.37" y="250.02" font-size="6.45" fill="#1e1e1e" font-weight="bold" stroke="#1e1e1e" stroke-width="0.22" text-anchor="end" textLength="6.35" lengthAdjust="spacingAndGlyphs" xml:space="preserve">60</text>
<text x="275.20" y="307.66" font-size="6.45" fill="#1e1e1e" font-weight="bold" stroke="#1e1e1e" stroke-width="0.22" text-anchor="middle" textLength="6.35" lengthAdjust="spacingAndGlyphs" xml:space="preserve">60</text>
<text x="222.37" y="233.62" font-size="6.45" fill="#1e1e1e" font-weight="bold" stroke="#1e1e1e" stroke-width="0.22" text-anchor="end" textLength="6.35" lengthAdjust="spacingAndGlyphs" xml:space="preserve">80</text>
<text x="291.60" y="307.66" font-size="6.45" fill="#1e1e1e" font-weight="bold" stroke="#1e1e1e" stroke-width="0.22" text-anchor="middle" textLength="6.35" lengthAdjust="spacingAndGlyphs" xml:space="preserve">80</text>
<text x="222.37" y="217.22" font-size="6.45" fill="#1e1e1e" font-weight="bold" stroke="#1e1e1e" stroke-width="0.22" text-anchor="end" textLength="9.53" lengthAdjust="spacingAndGlyphs" xml:space="preserve">100</text>
<text x="308.00" y="307.66" font-size="6.45" fill="#1e1e1e" font-weight="bold" stroke="#1e1e1e" stroke-width="0.22" text-anchor="middle" textLength="9.53" lengthAdjust="spacingAndGlyphs" xml:space="preserve">100</text>
<text x="267.00" y="317.77" font-size="6.77" fill="#1e1e1e" font-weight="bold" stroke="#1e1e1e" stroke-width="0.22" text-anchor="middle" textLength="63.06" lengthAdjust="spacingAndGlyphs" xml:space="preserve">100% - Specificity%</text>
<text x="207.17" y="255.47" font-size="6.77" fill="#1e1e1e" font-weight="bold" stroke="#1e1e1e" stroke-width="0.22" text-anchor="middle" textLength="46.32" lengthAdjust="spacingAndGlyphs" transform="rotate(-90 207.17 255.47)" xml:space="preserve">Sensitivity [%]</text>
<line x1="226.00" y1="297.00" x2="308.00" y2="215.00" stroke="#ffc0c0" stroke-width="0.65"/>
<path d="M226.50,215.00 V297.50 H308.00" fill="none" stroke="#151515" stroke-width="1.1"/>
<line x1="223.11" y1="297.00" x2="226.50" y2="297.00" stroke="#151515" stroke-width="0.95"/>
<line x1="226.00" y1="297.50" x2="226.00" y2="300.89" stroke="#151515" stroke-width="0.95"/>
<line x1="223.11" y1="280.60" x2="226.50" y2="280.60" stroke="#151515" stroke-width="0.95"/>
<line x1="242.40" y1="297.50" x2="242.40" y2="300.89" stroke="#151515" stroke-width="0.95"/>
<line x1="223.11" y1="264.20" x2="226.50" y2="264.20" stroke="#151515" stroke-width="0.95"/>
<line x1="258.80" y1="297.50" x2="258.80" y2="300.89" stroke="#151515" stroke-width="0.95"/>
<line x1="223.11" y1="247.80" x2="226.50" y2="247.80" stroke="#151515" stroke-width="0.95"/>
<line x1="275.20" y1="297.50" x2="275.20" y2="300.89" stroke="#151515" stroke-width="0.95"/>
<line x1="223.11" y1="231.40" x2="226.50" y2="231.40" stroke="#151515" stroke-width="0.95"/>
<line x1="291.60" y1="297.50" x2="291.60" y2="300.89" stroke="#151515" stroke-width="0.95"/>
<line x1="223.11" y1="215.00" x2="226.50" y2="215.00" stroke="#151515" stroke-width="0.95"/>
<line x1="308.00" y1="297.50" x2="308.00" y2="300.89" stroke="#151515" stroke-width="0.95"/>
<path d="M226.00,297.00 L226.00,215.00 L308.00,215.00" fill="none" stroke="#1f1fff" stroke-width="0.85"/>
<circle cx="226.00" cy="297.00" r="1.16" fill="#1f1fff"/>
<circle cx="226.00" cy="293.61" r="1.16" fill="#1f1fff"/>
<circle cx="226.00" cy="290.23" r="1.16" fill="#1f1fff"/>
<circle cx="226.00" cy="286.84" r="1.16" fill="#1f1fff"/>
<circle cx="226.00" cy="283.46" r="1.16" fill="#1f1fff"/>
<circle cx="226.00" cy="280.07" r="1.16" fill="#1f1fff"/>
<circle cx="226.00" cy="276.69" r="1.16" fill="#1f1fff"/>
<circle cx="226.00" cy="273.30" r="1.16" fill="#1f1fff"/>
<circle cx="226.00" cy="269.91" r="1.16" fill="#1f1fff"/>
<circle cx="226.00" cy="266.53" r="1.16" fill="#1f1fff"/>
<circle cx="226.00" cy="263.14" r="1.16" fill="#1f1fff"/>
<circle cx="226.00" cy="259.76" r="1.16" fill="#1f1fff"/>
<circle cx="226.00" cy="256.37" r="1.16" fill="#1f1fff"/>
<circle cx="226.00" cy="252.98" r="1.16" fill="#1f1fff"/>
<circle cx="226.00" cy="249.60" r="1.16" fill="#1f1fff"/>
<circle cx="226.00" cy="246.21" r="1.16" fill="#1f1fff"/>
<circle cx="226.00" cy="242.83" r="1.16" fill="#1f1fff"/>
<circle cx="226.00" cy="239.44" r="1.16" fill="#1f1fff"/>
<circle cx="226.00" cy="236.06" r="1.16" fill="#1f1fff"/>
<circle cx="226.00" cy="232.67" r="1.16" fill="#1f1fff"/>
<circle cx="226.00" cy="229.28" r="1.16" fill="#1f1fff"/>
<circle cx="226.00" cy="225.90" r="1.16" fill="#1f1fff"/>
<circle cx="226.00" cy="222.51" r="1.16" fill="#1f1fff"/>
<circle cx="226.00" cy="219.13" r="1.16" fill="#1f1fff"/>
<circle cx="226.00" cy="215.74" r="1.16" fill="#1f1fff"/>
<circle cx="228.65" cy="215.00" r="1.16" fill="#1f1fff"/>
<circle cx="232.03" cy="215.00" r="1.16" fill="#1f1fff"/>
<circle cx="235.42" cy="215.00" r="1.16" fill="#1f1fff"/>
<circle cx="238.80" cy="215.00" r="1.16" fill="#1f1fff"/>
<circle cx="242.19" cy="215.00" r="1.16" fill="#1f1fff"/>
<circle cx="245.57" cy="215.00" r="1.16" fill="#1f1fff"/>
<circle cx="248.96" cy="215.00" r="1.16" fill="#1f1fff"/>
<circle cx="252.35" cy="215.00" r="1.16" fill="#1f1fff"/>
<circle cx="255.73" cy="215.00" r="1.16" fill="#1f1fff"/>
<circle cx="259.12" cy="215.00" r="1.16" fill="#1f1fff"/>
<circle cx="262.50" cy="215.00" r="1.16" fill="#1f1fff"/>
<circle cx="265.89" cy="215.00" r="1.16" fill="#1f1fff"/>
<circle cx="269.27" cy="215.00" r="1.16" fill="#1f1fff"/>
<circle cx="272.66" cy="215.00" r="1.16" fill="#1f1fff"/>
<circle cx="276.05" cy="215.00" r="1.16" fill="#1f1fff"/>
<circle cx="279.43" cy="215.00" r="1.16" fill="#1f1fff"/>
<circle cx="282.82" cy="215.00" r="1.16" fill="#1f1fff"/>
<circle cx="286.20" cy="215.00" r="1.16" fill="#1f1fff"/>
<circle cx="289.59" cy="215.00" r="1.16" fill="#1f1fff"/>
<circle cx="292.98" cy="215.00" r="1.16" fill="#1f1fff"/>
<circle cx="296.36" cy="215.00" r="1.16" fill="#1f1fff"/>
<circle cx="299.75" cy="215.00" r="1.16" fill="#1f1fff"/>
<circle cx="303.13" cy="215.00" r="1.16" fill="#1f1fff"/>
<circle cx="306.52" cy="215.00" r="1.16" fill="#1f1fff"/>
<path d="M226.00,297.00 L226.00,215.00 L308.00,215.00" fill="none" stroke="#00ee00" stroke-width="0.85"/>
<rect x="224.84" y="295.84" width="2.33" height="2.33" fill="#00ee00"/>
<rect x="224.84" y="292.45" width="2.33" height="2.33" fill="#00ee00"/>
<rect x="224.84" y="289.06" width="2.33" height="2.33" fill="#00ee00"/>
<rect x="224.84" y="285.68" width="2.33" height="2.33" fill="#00ee00"/>
<rect x="224.84" y="282.29" width="2.33" height="2.33" fill="#00ee00"/>
<rect x="224.84" y="278.91" width="2.33" height="2.33" fill="#00ee00"/>
<rect x="224.84" y="275.52" width="2.33" height="2.33" fill="#00ee00"/>
<rect x="224.84" y="272.14" width="2.33" height="2.33" fill="#00ee00"/>
<rect x="224.84" y="268.75" width="2.33" height="2.33" fill="#00ee00"/>
<rect x="224.84" y="265.36" width="2.33" height="2.33" fill="#00ee00"/>
<rect x="224.84" y="261.98" width="2.33" height="2.33" fill="#00ee00"/>
<rect x="224.84" y="258.59" width="2.33" height="2.33" fill="#00ee00"/>
<rect x="224.84" y="255.21" width="2.33" height="2.33" fill="#00ee00"/>
<rect x="224.84" y="251.82" width="2.33" height="2.33" fill="#00ee00"/>
<rect x="224.84" y="248.43" width="2.33" height="2.33" fill="#00ee00"/>
<rect x="224.84" y="245.05" width="2.33" height="2.33" fill="#00ee00"/>
<rect x="224.84" y="241.66" width="2.33" height="2.33" fill="#00ee00"/>
<rect x="224.84" y="238.28" width="2.33" height="2.33" fill="#00ee00"/>
<rect x="224.84" y="234.89" width="2.33" height="2.33" fill="#00ee00"/>
<rect x="224.84" y="231.51" width="2.33" height="2.33" fill="#00ee00"/>
<rect x="224.84" y="228.12" width="2.33" height="2.33" fill="#00ee00"/>
<rect x="224.84" y="224.73" width="2.33" height="2.33" fill="#00ee00"/>
<rect x="224.84" y="221.35" width="2.33" height="2.33" fill="#00ee00"/>
<rect x="224.84" y="217.96" width="2.33" height="2.33" fill="#00ee00"/>
<rect x="224.84" y="214.58" width="2.33" height="2.33" fill="#00ee00"/>
<rect x="227.48" y="213.84" width="2.33" height="2.33" fill="#00ee00"/>
<rect x="230.87" y="213.84" width="2.33" height="2.33" fill="#00ee00"/>
<rect x="234.25" y="213.84" width="2.33" height="2.33" fill="#00ee00"/>
<rect x="237.64" y="213.84" width="2.33" height="2.33" fill="#00ee00"/>
<rect x="241.02" y="213.84" width="2.33" height="2.33" fill="#00ee00"/>
<rect x="244.41" y="213.84" width="2.33" height="2.33" fill="#00ee00"/>
<rect x="247.80" y="213.84" width="2.33" height="2.33" fill="#00ee00"/>
<rect x="251.18" y="213.84" width="2.33" height="2.33" fill="#00ee00"/>
<rect x="254.57" y="213.84" width="2.33" height="2.33" fill="#00ee00"/>
<rect x="257.95" y="213.84" width="2.33" height="2.33" fill="#00ee00"/>
<rect x="261.34" y="213.84" width="2.33" height="2.33" fill="#00ee00"/>
<rect x="264.73" y="213.84" width="2.33" height="2.33" fill="#00ee00"/>
<rect x="268.11" y="213.84" width="2.33" height="2.33" fill="#00ee00"/>
<rect x="271.50" y="213.84" width="2.33" height="2.33" fill="#00ee00"/>
<rect x="274.88" y="213.84" width="2.33" height="2.33" fill="#00ee00"/>
<rect x="278.27" y="213.84" width="2.33" height="2.33" fill="#00ee00"/>
<rect x="281.65" y="213.84" width="2.33" height="2.33" fill="#00ee00"/>
<rect x="285.04" y="213.84" width="2.33" height="2.33" fill="#00ee00"/>
<rect x="288.43" y="213.84" width="2.33" height="2.33" fill="#00ee00"/>
<rect x="291.81" y="213.84" width="2.33" height="2.33" fill="#00ee00"/>
<rect x="295.20" y="213.84" width="2.33" height="2.33" fill="#00ee00"/>
<rect x="298.58" y="213.84" width="2.33" height="2.33" fill="#00ee00"/>
<rect x="301.97" y="213.84" width="2.33" height="2.33" fill="#00ee00"/>
<rect x="305.35" y="213.84" width="2.33" height="2.33" fill="#00ee00"/>
<path d="M226.00,297.00 L226.00,278.39 L231.49,278.39 L231.49,274.86 L242.40,274.86 L242.40,271.50 L250.19,271.50 L250.19,263.71 L261.10,263.71 L261.10,260.18 L264.13,260.18 L264.13,256.33 L267.00,256.33 L267.00,230.01 L274.71,230.01 L274.71,226.89 L277.33,226.89 L277.33,219.02 L279.79,219.02 L279.79,215.00 L308.00,215.00" fill="none" stroke="#ff1a1a" stroke-width="0.85"/>
<path d="M226.00,295.43 L227.51,298.16 L224.49,298.16Z" fill="#ff1a1a"/>
<path d="M226.00,291.71 L227.51,294.44 L224.49,294.44Z" fill="#ff1a1a"/>
<path d="M226.00,287.98 L227.51,290.72 L224.49,290.72Z" fill="#ff1a1a"/>
<path d="M226.00,284.26 L227.51,287.00 L224.49,287.00Z" fill="#ff1a1a"/>
<path d="M226.00,280.54 L227.51,283.27 L224.49,283.27Z" fill="#ff1a1a"/>
<path d="M226.00,276.81 L227.51,279.55 L224.49,279.55Z" fill="#ff1a1a"/>
<path d="M228.75,276.81 L230.26,279.55 L227.23,279.55Z" fill="#ff1a1a"/>
<path d="M231.49,276.81 L233.01,279.55 L229.98,279.55Z" fill="#ff1a1a"/>
<path d="M231.49,273.29 L233.01,276.02 L229.98,276.02Z" fill="#ff1a1a"/>
<path d="M234.22,273.29 L235.73,276.02 L232.71,276.02Z" fill="#ff1a1a"/>
<path d="M236.95,273.29 L238.46,276.02 L235.43,276.02Z" fill="#ff1a1a"/>
<path d="M239.67,273.29 L241.19,276.02 L238.16,276.02Z" fill="#ff1a1a"/>
<path d="M242.40,273.29 L243.91,276.02 L240.89,276.02Z" fill="#ff1a1a"/>
<path d="M242.40,269.93 L243.91,272.66 L240.89,272.66Z" fill="#ff1a1a"/>
<path d="M245.00,269.93 L246.51,272.66 L243.48,272.66Z" fill="#ff1a1a"/>
<path d="M247.59,269.93 L249.11,272.66 L246.08,272.66Z" fill="#ff1a1a"/>
<path d="M250.19,269.93 L251.70,272.66 L248.68,272.66Z" fill="#ff1a1a"/>
<path d="M250.19,266.03 L251.70,268.77 L248.68,268.77Z" fill="#ff1a1a"/>
<path d="M250.19,262.14 L251.70,264.87 L248.68,264.87Z" fill="#ff1a1a"/>
<path d="M252.92,262.14 L254.43,264.87 L251.40,264.87Z" fill="#ff1a1a"/>
<path d="M255.64,262.14 L257.16,264.87 L254.13,264.87Z" fill="#ff1a1a"/>
<path d="M258.37,262.14 L259.88,264.87 L256.86,264.87Z" fill="#ff1a1a"/>
<path d="M261.10,262.14 L262.61,264.87 L259.58,264.87Z" fill="#ff1a1a"/>
<path d="M261.10,258.61 L262.61,261.35 L259.58,261.35Z" fill="#ff1a1a"/>
<path d="M264.13,258.61 L265.64,261.35 L262.62,261.35Z" fill="#ff1a1a"/>
<path d="M264.13,254.76 L265.64,257.49 L262.62,257.49Z" fill="#ff1a1a"/>
<path d="M267.00,254.76 L268.51,257.49 L265.49,257.49Z" fill="#ff1a1a"/>
<path d="M267.00,251.47 L268.51,254.20 L265.49,254.20Z" fill="#ff1a1a"/>
<path d="M267.00,248.18 L268.51,250.91 L265.49,250.91Z" fill="#ff1a1a"/>
<path d="M267.00,244.89 L268.51,247.62 L265.49,247.62Z" fill="#ff1a1a"/>
<path d="M267.00,241.60 L268.51,244.33 L265.49,244.33Z" fill="#ff1a1a"/>
<path d="M267.00,238.31 L268.51,241.04 L265.49,241.04Z" fill="#ff1a1a"/>
<path d="M267.00,235.02 L268.51,237.75 L265.49,237.75Z" fill="#ff1a1a"/>
<path d="M267.00,231.73 L268.51,234.46 L265.49,234.46Z" fill="#ff1a1a"/>
<path d="M267.00,228.43 L268.51,231.17 L265.49,231.17Z" fill="#ff1a1a"/>
<path d="M269.57,228.43 L271.08,231.17 L268.06,231.17Z" fill="#ff1a1a"/>
<path d="M272.14,228.43 L273.65,231.17 L270.63,231.17Z" fill="#ff1a1a"/>
<path d="M274.71,228.43 L276.22,231.17 L273.19,231.17Z" fill="#ff1a1a"/>
<path d="M274.71,225.32 L276.22,228.05 L273.19,228.05Z" fill="#ff1a1a"/>
<path d="M277.33,225.32 L278.85,228.05 L275.82,228.05Z" fill="#ff1a1a"/>
<path d="M277.33,221.38 L278.85,224.12 L275.82,224.12Z" fill="#ff1a1a"/>
<path d="M277.33,217.45 L278.85,220.18 L275.82,220.18Z" fill="#ff1a1a"/>
<path d="M279.79,217.45 L281.31,220.18 L278.28,220.18Z" fill="#ff1a1a"/>
<path d="M279.79,213.43 L281.31,216.16 L278.28,216.16Z" fill="#ff1a1a"/>
<path d="M282.14,213.43 L283.66,216.16 L280.63,216.16Z" fill="#ff1a1a"/>
<path d="M284.49,213.43 L286.01,216.16 L282.98,216.16Z" fill="#ff1a1a"/>
<path d="M286.84,213.43 L288.36,216.16 L285.33,216.16Z" fill="#ff1a1a"/>
<path d="M289.19,213.43 L290.71,216.16 L287.68,216.16Z" fill="#ff1a1a"/>
<path d="M291.55,213.43 L293.06,216.16 L290.03,216.16Z" fill="#ff1a1a"/>
<path d="M293.90,213.43 L295.41,216.16 L292.38,216.16Z" fill="#ff1a1a"/>
<path d="M296.25,213.43 L297.76,216.16 L294.73,216.16Z" fill="#ff1a1a"/>
<path d="M298.60,213.43 L300.11,216.16 L297.08,216.16Z" fill="#ff1a1a"/>
<path d="M300.95,213.43 L302.46,216.16 L299.43,216.16Z" fill="#ff1a1a"/>
<path d="M303.30,213.43 L304.81,216.16 L301.79,216.16Z" fill="#ff1a1a"/>
<path d="M305.65,213.43 L307.16,216.16 L304.14,216.16Z" fill="#ff1a1a"/>
<path d="M308.00,213.43 L309.51,216.16 L306.49,216.16Z" fill="#ff1a1a"/>
<line x1="273.76" y1="266.20" x2="282.44" y2="266.20" stroke="#8c8cff" stroke-width="0.74"/>
<circle cx="278.10" cy="266.20" r="1.06" fill="#1f1fff"/>
<text x="287.10" y="268.21" font-size="5.82" fill="#1e1e1e" font-weight="bold" stroke="#1e1e1e" stroke-width="0.22" textLength="65.50" lengthAdjust="spacingAndGlyphs" xml:space="preserve">Anti-EBV VCA IgA [U/ml]</text>
<line x1="273.76" y1="275.90" x2="282.44" y2="275.90" stroke="#8cff8c" stroke-width="0.74"/>
<rect x="277.04" y="274.84" width="2.12" height="2.12" fill="#00ee00"/>
<text x="287.10" y="277.91" font-size="5.82" fill="#1e1e1e" font-weight="bold" stroke="#1e1e1e" stroke-width="0.22" textLength="67.90" lengthAdjust="spacingAndGlyphs" xml:space="preserve">Anti- EBV VCA IgM [U/ml]</text>
<line x1="273.76" y1="285.70" x2="282.44" y2="285.70" stroke="#ff9a9a" stroke-width="0.74"/>
<path d="M278.10,284.32 L279.32,286.60 L276.88,286.60Z" fill="#ff1a1a"/>
<text x="287.10" y="287.71" font-size="5.82" fill="#1e1e1e" font-weight="bold" stroke="#1e1e1e" stroke-width="0.22" textLength="65.50" lengthAdjust="spacingAndGlyphs" xml:space="preserve">Anti-EBV VCA IgG [U/ml]</text>
<text x="206.40" y="183.40" font-size="6.24" fill="#1e1e1e" font-weight="bold" stroke="#1e1e1e" stroke-width="0.22" textLength="121.00" lengthAdjust="spacingAndGlyphs" xml:space="preserve">ROC curve analysis of selective anti-EBV</text>
<text x="222.70" y="190.40" font-size="6.24" fill="#1e1e1e" font-weight="bold" stroke="#1e1e1e" stroke-width="0.22" textLength="88.10" lengthAdjust="spacingAndGlyphs" xml:space="preserve">antibody serum concentration</text>
<text x="204.10" y="197.40" font-size="6.24" fill="#1e1e1e" font-weight="bold" stroke="#1e1e1e" stroke-width="0.22" textLength="125.60" lengthAdjust="spacingAndGlyphs" xml:space="preserve">among CVID EBV+ and CVID EBV- patients</text>
<text x="393.60" y="296.10" font-size="6.10" fill="#1e1e1e" font-weight="bold" stroke="#1e1e1e" stroke-width="0.22" text-anchor="end" textLength="3.00" lengthAdjust="spacingAndGlyphs" xml:space="preserve">0</text>
<text x="397.50" y="304.10" font-size="6.10" fill="#1e1e1e" font-weight="bold" stroke="#1e1e1e" stroke-width="0.22" text-anchor="middle" textLength="3.00" lengthAdjust="spacingAndGlyphs" xml:space="preserve">0</text>
<text x="393.60" y="280.10" font-size="6.10" fill="#1e1e1e" font-weight="bold" stroke="#1e1e1e" stroke-width="0.22" text-anchor="end" textLength="6.01" lengthAdjust="spacingAndGlyphs" xml:space="preserve">20</text>
<text x="412.50" y="304.10" font-size="6.10" fill="#1e1e1e" font-weight="bold" stroke="#1e1e1e" stroke-width="0.22" text-anchor="middle" textLength="6.01" lengthAdjust="spacingAndGlyphs" xml:space="preserve">20</text>
<text x="393.60" y="264.10" font-size="6.10" fill="#1e1e1e" font-weight="bold" stroke="#1e1e1e" stroke-width="0.22" text-anchor="end" textLength="6.01" lengthAdjust="spacingAndGlyphs" xml:space="preserve">40</text>
<text x="427.50" y="304.10" font-size="6.10" fill="#1e1e1e" font-weight="bold" stroke="#1e1e1e" stroke-width="0.22" text-anchor="middle" textLength="6.01" lengthAdjust="spacingAndGlyphs" xml:space="preserve">40</text>
<text x="393.60" y="248.10" font-size="6.10" fill="#1e1e1e" font-weight="bold" stroke="#1e1e1e" stroke-width="0.22" text-anchor="end" textLength="6.01" lengthAdjust="spacingAndGlyphs" xml:space="preserve">60</text>
<text x="442.50" y="304.10" font-size="6.10" fill="#1e1e1e" font-weight="bold" stroke="#1e1e1e" stroke-width="0.22" text-anchor="middle" textLength="6.01" lengthAdjust="spacingAndGlyphs" xml:space="preserve">60</text>
<text x="393.60" y="232.10" font-size="6.10" fill="#1e1e1e" font-weight="bold" stroke="#1e1e1e" stroke-width="0.22" text-anchor="end" textLength="6.01" lengthAdjust="spacingAndGlyphs" xml:space="preserve">80</text>
<text x="457.50" y="304.10" font-size="6.10" fill="#1e1e1e" font-weight="bold" stroke="#1e1e1e" stroke-width="0.22" text-anchor="middle" textLength="6.01" lengthAdjust="spacingAndGlyphs" xml:space="preserve">80</text>
<text x="393.60" y="216.10" font-size="6.10" fill="#1e1e1e" font-weight="bold" stroke="#1e1e1e" stroke-width="0.22" text-anchor="end" textLength="9.01" lengthAdjust="spacingAndGlyphs" xml:space="preserve">100</text>
<text x="472.50" y="304.10" font-size="6.10" fill="#1e1e1e" font-weight="bold" stroke="#1e1e1e" stroke-width="0.22" text-anchor="middle" textLength="9.01" lengthAdjust="spacingAndGlyphs" xml:space="preserve">100</text>
<text x="435.00" y="314.26" font-size="6.40" fill="#1e1e1e" font-weight="bold" stroke="#1e1e1e" stroke-width="0.22" text-anchor="middle" textLength="57.68" lengthAdjust="spacingAndGlyphs" xml:space="preserve">100% - Specificity%</text>
<text x="380.27" y="253.50" font-size="6.40" fill="#1e1e1e" font-weight="bold" stroke="#1e1e1e" stroke-width="0.22" text-anchor="middle" textLength="45.19" lengthAdjust="spacingAndGlyphs" transform="rotate(-90 380.27 253.50)" xml:space="preserve">Sensitivity [%]</text>
<line x1="397.50" y1="294.00" x2="472.50" y2="214.00" stroke="#ffc0c0" stroke-width="0.65"/>
<path d="M397.50,214.00 V294.50 H472.50" fill="none" stroke="#151515" stroke-width="1.1"/>
<line x1="394.30" y1="294.00" x2="397.50" y2="294.00" stroke="#151515" stroke-width="0.90"/>
<line x1="397.50" y1="294.50" x2="397.50" y2="297.70" stroke="#151515" stroke-width="0.90"/>
<line x1="394.30" y1="278.00" x2="397.50" y2="278.00" stroke="#151515" stroke-width="0.90"/>
<line x1="412.50" y1="294.50" x2="412.50" y2="297.70" stroke="#151515" stroke-width="0.90"/>
<line x1="394.30" y1="262.00" x2="397.50" y2="262.00" stroke="#151515" stroke-width="0.90"/>
<line x1="427.50" y1="294.50" x2="427.50" y2="297.70" stroke="#151515" stroke-width="0.90"/>
<line x1="394.30" y1="246.00" x2="397.50" y2="246.00" stroke="#151515" stroke-width="0.90"/>
<line x1="442.50" y1="294.50" x2="442.50" y2="297.70" stroke="#151515" stroke-width="0.90"/>
<line x1="394.30" y1="230.00" x2="397.50" y2="230.00" stroke="#151515" stroke-width="0.90"/>
<line x1="457.50" y1="294.50" x2="457.50" y2="297.70" stroke="#151515" stroke-width="0.90"/>
<line x1="394.30" y1="214.00" x2="397.50" y2="214.00" stroke="#151515" stroke-width="0.90"/>
<line x1="472.50" y1="294.50" x2="472.50" y2="297.70" stroke="#151515" stroke-width="0.90"/>
<path d="M397.50,294.00 L397.50,278.00 L398.85,275.60 L401.70,275.60 L401.70,272.72 L403.50,270.00 L405.30,265.04 L405.75,262.08 L407.70,259.20 L408.15,256.32 L410.02,250.96 L410.40,243.28 L414.75,243.28 L414.75,232.72 L423.45,232.72 L423.45,225.44 L425.40,222.00 L426.90,217.20 L428.85,214.00 L472.50,214.00" fill="none" stroke="#1f1fff" stroke-width="0.80"/>
<circle cx="397.50" cy="294.00" r="1.10" fill="#1f1fff"/>
<circle cx="397.50" cy="290.80" r="1.10" fill="#1f1fff"/>
<circle cx="397.50" cy="287.60" r="1.10" fill="#1f1fff"/>
<circle cx="397.50" cy="284.40" r="1.10" fill="#1f1fff"/>
<circle cx="397.50" cy="281.20" r="1.10" fill="#1f1fff"/>
<circle cx="397.50" cy="278.00" r="1.10" fill="#1f1fff"/>
<circle cx="398.85" cy="275.60" r="1.10" fill="#1f1fff"/>
<circle cx="401.70" cy="275.60" r="1.10" fill="#1f1fff"/>
<circle cx="401.70" cy="272.72" r="1.10" fill="#1f1fff"/>
<circle cx="403.50" cy="270.00" r="1.10" fill="#1f1fff"/>
<circle cx="404.40" cy="267.52" r="1.10" fill="#1f1fff"/>
<circle cx="405.30" cy="265.04" r="1.10" fill="#1f1fff"/>
<circle cx="405.75" cy="262.08" r="1.10" fill="#1f1fff"/>
<circle cx="407.70" cy="259.20" r="1.10" fill="#1f1fff"/>
<circle cx="408.15" cy="256.32" r="1.10" fill="#1f1fff"/>
<circle cx="409.09" cy="253.64" r="1.10" fill="#1f1fff"/>
<circle cx="410.02" cy="250.96" r="1.10" fill="#1f1fff"/>
<circle cx="410.21" cy="247.12" r="1.10" fill="#1f1fff"/>
<circle cx="410.40" cy="243.28" r="1.10" fill="#1f1fff"/>
<circle cx="412.57" cy="243.28" r="1.10" fill="#1f1fff"/>
<circle cx="414.75" cy="243.28" r="1.10" fill="#1f1fff"/>
<circle cx="414.75" cy="239.76" r="1.10" fill="#1f1fff"/>
<circle cx="414.75" cy="236.24" r="1.10" fill="#1f1fff"/>
<circle cx="414.75" cy="232.72" r="1.10" fill="#1f1fff"/>
<circle cx="416.93" cy="232.72" r="1.10" fill="#1f1fff"/>
<circle cx="419.10" cy="232.72" r="1.10" fill="#1f1fff"/>
<circle cx="421.27" cy="232.72" r="1.10" fill="#1f1fff"/>
<circle cx="423.45" cy="232.72" r="1.10" fill="#1f1fff"/>
<circle cx="423.45" cy="229.08" r="1.10" fill="#1f1fff"/>
<circle cx="423.45" cy="225.44" r="1.10" fill="#1f1fff"/>
<circle cx="425.40" cy="222.00" r="1.10" fill="#1f1fff"/>
<circle cx="426.15" cy="219.60" r="1.10" fill="#1f1fff"/>
<circle cx="426.90" cy="217.20" r="1.10" fill="#1f1fff"/>
<circle cx="428.85" cy="214.00" r="1.10" fill="#1f1fff"/>
<circle cx="431.15" cy="214.00" r="1.10" fill="#1f1fff"/>
<circle cx="433.44" cy="214.00" r="1.10" fill="#1f1fff"/>
<circle cx="435.74" cy="214.00" r="1.10" fill="#1f1fff"/>
<circle cx="438.04" cy="214.00" r="1.10" fill="#1f1fff"/>
<circle cx="440.34" cy="214.00" r="1.10" fill="#1f1fff"/>
<circle cx="442.63" cy="214.00" r="1.10" fill="#1f1fff"/>
<circle cx="444.93" cy="214.00" r="1.10" fill="#1f1fff"/>
<circle cx="447.23" cy="214.00" r="1.10" fill="#1f1fff"/>
<circle cx="449.53" cy="214.00" r="1.10" fill="#1f1fff"/>
<circle cx="451.82" cy="214.00" r="1.10" fill="#1f1fff"/>
<circle cx="454.12" cy="214.00" r="1.10" fill="#1f1fff"/>
<circle cx="456.42" cy="214.00" r="1.10" fill="#1f1fff"/>
<circle cx="458.72" cy="214.00" r="1.10" fill="#1f1fff"/>
<circle cx="461.01" cy="214.00" r="1.10" fill="#1f1fff"/>
<circle cx="463.31" cy="214.00" r="1.10" fill="#1f1fff"/>
<circle cx="465.61" cy="214.00" r="1.10" fill="#1f1fff"/>
<circle cx="467.91" cy="214.00" r="1.10" fill="#1f1fff"/>
<circle cx="470.20" cy="214.00" r="1.10" fill="#1f1fff"/>
<circle cx="472.50" cy="214.00" r="1.10" fill="#1f1fff"/>
<path d="M397.50,294.00 L397.50,269.76 L401.18,269.76 L401.18,267.44 L407.10,267.44 L407.10,264.48 L412.88,264.48 L413.77,262.08 L423.45,262.08 L424.43,259.68 L425.85,257.68 L427.27,256.32 L428.77,254.40 L429.75,252.88 L431.70,250.96 L437.48,250.96 L438.68,248.64 L440.62,244.80 L441.68,240.88 L442.65,238.00 L444.60,236.00 L446.10,234.08 L447.52,230.24 L453.38,230.24 L453.90,227.28 L466.50,227.28 L466.50,216.72 L471.82,216.72 L472.50,214.00" fill="none" stroke="#00ee00" stroke-width="0.80"/>
<rect x="396.40" y="292.90" width="2.20" height="2.20" fill="#00ee00"/>
<rect x="396.40" y="289.87" width="2.20" height="2.20" fill="#00ee00"/>
<rect x="396.40" y="286.84" width="2.20" height="2.20" fill="#00ee00"/>
<rect x="396.40" y="283.81" width="2.20" height="2.20" fill="#00ee00"/>
<rect x="396.40" y="280.78" width="2.20" height="2.20" fill="#00ee00"/>
<rect x="396.40" y="277.75" width="2.20" height="2.20" fill="#00ee00"/>
<rect x="396.40" y="274.72" width="2.20" height="2.20" fill="#00ee00"/>
<rect x="396.40" y="271.69" width="2.20" height="2.20" fill="#00ee00"/>
<rect x="396.40" y="268.66" width="2.20" height="2.20" fill="#00ee00"/>
<rect x="398.24" y="268.66" width="2.20" height="2.20" fill="#00ee00"/>
<rect x="400.07" y="268.66" width="2.20" height="2.20" fill="#00ee00"/>
<rect x="400.07" y="266.34" width="2.20" height="2.20" fill="#00ee00"/>
<rect x="402.05" y="266.34" width="2.20" height="2.20" fill="#00ee00"/>
<rect x="404.02" y="266.34" width="2.20" height="2.20" fill="#00ee00"/>
<rect x="406.00" y="266.34" width="2.20" height="2.20" fill="#00ee00"/>
<rect x="406.00" y="263.38" width="2.20" height="2.20" fill="#00ee00"/>
<rect x="407.92" y="263.38" width="2.20" height="2.20" fill="#00ee00"/>
<rect x="409.85" y="263.38" width="2.20" height="2.20" fill="#00ee00"/>
<rect x="411.77" y="263.38" width="2.20" height="2.20" fill="#00ee00"/>
<rect x="412.67" y="260.98" width="2.20" height="2.20" fill="#00ee00"/>
<rect x="415.09" y="260.98" width="2.20" height="2.20" fill="#00ee00"/>
<rect x="417.51" y="260.98" width="2.20" height="2.20" fill="#00ee00"/>
<rect x="419.93" y="260.98" width="2.20" height="2.20" fill="#00ee00"/>
<rect x="422.35" y="260.98" width="2.20" height="2.20" fill="#00ee00"/>
<rect x="423.32" y="258.58" width="2.20" height="2.20" fill="#00ee00"/>
<rect x="424.75" y="256.58" width="2.20" height="2.20" fill="#00ee00"/>
<rect x="426.17" y="255.22" width="2.20" height="2.20" fill="#00ee00"/>
<rect x="427.67" y="253.30" width="2.20" height="2.20" fill="#00ee00"/>
<rect x="428.65" y="251.78" width="2.20" height="2.20" fill="#00ee00"/>
<rect x="430.60" y="249.86" width="2.20" height="2.20" fill="#00ee00"/>
<rect x="432.52" y="249.86" width="2.20" height="2.20" fill="#00ee00"/>
<rect x="434.45" y="249.86" width="2.20" height="2.20" fill="#00ee00"/>
<rect x="436.38" y="249.86" width="2.20" height="2.20" fill="#00ee00"/>
<rect x="437.57" y="247.54" width="2.20" height="2.20" fill="#00ee00"/>
<rect x="439.52" y="243.70" width="2.20" height="2.20" fill="#00ee00"/>
<rect x="440.57" y="239.78" width="2.20" height="2.20" fill="#00ee00"/>
<rect x="441.55" y="236.90" width="2.20" height="2.20" fill="#00ee00"/>
<rect x="443.50" y="234.90" width="2.20" height="2.20" fill="#00ee00"/>
<rect x="445.00" y="232.98" width="2.20" height="2.20" fill="#00ee00"/>
<rect x="446.42" y="229.14" width="2.20" height="2.20" fill="#00ee00"/>
<rect x="448.38" y="229.14" width="2.20" height="2.20" fill="#00ee00"/>
<rect x="450.32" y="229.14" width="2.20" height="2.20" fill="#00ee00"/>
<rect x="452.27" y="229.14" width="2.20" height="2.20" fill="#00ee00"/>
<rect x="452.80" y="226.18" width="2.20" height="2.20" fill="#00ee00"/>
<rect x="455.32" y="226.18" width="2.20" height="2.20" fill="#00ee00"/>
<rect x="457.84" y="226.18" width="2.20" height="2.20" fill="#00ee00"/>
<rect x="460.36" y="226.18" width="2.20" height="2.20" fill="#00ee00"/>
<rect x="462.88" y="226.18" width="2.20" height="2.20" fill="#00ee00"/>
<rect x="465.40" y="226.18" width="2.20" height="2.20" fill="#00ee00"/>
<rect x="465.40" y="222.66" width="2.20" height="2.20" fill="#00ee00"/>
<rect x="465.40" y="219.14" width="2.20" height="2.20" fill="#00ee00"/>
<rect x="465.40" y="215.62" width="2.20" height="2.20" fill="#00ee00"/>
<rect x="468.06" y="215.62" width="2.20" height="2.20" fill="#00ee00"/>
<rect x="470.72" y="215.62" width="2.20" height="2.20" fill="#00ee00"/>
<rect x="471.40" y="212.90" width="2.20" height="2.20" fill="#00ee00"/>
<path d="M397.50,294.00 L397.50,243.84 L399.23,243.84 L401.70,241.44 L403.12,238.96 L403.65,236.00 L418.57,236.00 L418.57,227.84 L423.82,227.84 L423.82,225.44 L432.45,225.44 L432.45,219.60 L434.40,219.60 L435.38,217.20 L438.23,217.20 L439.20,214.00 L472.50,214.00" fill="none" stroke="#ff1a1a" stroke-width="0.80"/>
<path d="M397.50,292.51 L398.93,295.10 L396.07,295.10Z" fill="#ff1a1a"/>
<path d="M397.50,289.38 L398.93,291.97 L396.07,291.97Z" fill="#ff1a1a"/>
<path d="M397.50,286.25 L398.93,288.83 L396.07,288.83Z" fill="#ff1a1a"/>
<path d="M397.50,283.11 L398.93,285.70 L396.07,285.70Z" fill="#ff1a1a"/>
<path d="M397.50,279.97 L398.93,282.56 L396.07,282.56Z" fill="#ff1a1a"/>
<path d="M397.50,276.84 L398.93,279.43 L396.07,279.43Z" fill="#ff1a1a"/>
<path d="M397.50,273.70 L398.93,276.29 L396.07,276.29Z" fill="#ff1a1a"/>
<path d="M397.50,270.57 L398.93,273.16 L396.07,273.16Z" fill="#ff1a1a"/>
<path d="M397.50,267.44 L398.93,270.02 L396.07,270.02Z" fill="#ff1a1a"/>
<path d="M397.50,264.30 L398.93,266.88 L396.07,266.88Z" fill="#ff1a1a"/>
<path d="M397.50,261.16 L398.93,263.75 L396.07,263.75Z" fill="#ff1a1a"/>
<path d="M397.50,258.03 L398.93,260.62 L396.07,260.62Z" fill="#ff1a1a"/>
<path d="M397.50,254.89 L398.93,257.48 L396.07,257.48Z" fill="#ff1a1a"/>
<path d="M397.50,251.76 L398.93,254.34 L396.07,254.34Z" fill="#ff1a1a"/>
<path d="M397.50,248.62 L398.93,251.21 L396.07,251.21Z" fill="#ff1a1a"/>
<path d="M397.50,245.49 L398.93,248.07 L396.07,248.07Z" fill="#ff1a1a"/>
<path d="M397.50,242.35 L398.93,244.94 L396.07,244.94Z" fill="#ff1a1a"/>
<path d="M399.23,242.35 L400.66,244.94 L397.80,244.94Z" fill="#ff1a1a"/>
<path d="M401.70,239.95 L403.13,242.54 L400.27,242.54Z" fill="#ff1a1a"/>
<path d="M403.12,237.47 L404.56,240.06 L401.69,240.06Z" fill="#ff1a1a"/>
<path d="M403.65,234.51 L405.08,237.10 L402.22,237.10Z" fill="#ff1a1a"/>
<path d="M406.14,234.51 L407.57,237.10 L404.71,237.10Z" fill="#ff1a1a"/>
<path d="M408.62,234.51 L410.06,237.10 L407.19,237.10Z" fill="#ff1a1a"/>
<path d="M411.11,234.51 L412.54,237.10 L409.68,237.10Z" fill="#ff1a1a"/>
<path d="M413.60,234.51 L415.03,237.10 L412.17,237.10Z" fill="#ff1a1a"/>
<path d="M416.09,234.51 L417.52,237.10 L414.66,237.10Z" fill="#ff1a1a"/>
<path d="M418.57,234.51 L420.00,237.10 L417.14,237.10Z" fill="#ff1a1a"/>
<path d="M418.57,231.79 L420.00,234.38 L417.14,234.38Z" fill="#ff1a1a"/>
<path d="M418.57,229.07 L420.00,231.66 L417.14,231.66Z" fill="#ff1a1a"/>
<path d="M418.57,226.35 L420.00,228.94 L417.14,228.94Z" fill="#ff1a1a"/>
<path d="M421.20,226.35 L422.63,228.94 L419.77,228.94Z" fill="#ff1a1a"/>
<path d="M423.82,226.35 L425.25,228.94 L422.39,228.94Z" fill="#ff1a1a"/>
<path d="M423.82,223.95 L425.25,226.54 L422.39,226.54Z" fill="#ff1a1a"/>
<path d="M425.98,223.95 L427.41,226.54 L424.55,226.54Z" fill="#ff1a1a"/>
<path d="M428.14,223.95 L429.57,226.54 L426.71,226.54Z" fill="#ff1a1a"/>
<path d="M430.29,223.95 L431.72,226.54 L428.86,226.54Z" fill="#ff1a1a"/>
<path d="M432.45,223.95 L433.88,226.54 L431.02,226.54Z" fill="#ff1a1a"/>
<path d="M432.45,221.03 L433.88,223.62 L431.02,223.62Z" fill="#ff1a1a"/>
<path d="M432.45,218.11 L433.88,220.70 L431.02,220.70Z" fill="#ff1a1a"/>
<path d="M434.40,218.11 L435.83,220.70 L432.97,220.70Z" fill="#ff1a1a"/>
<path d="M435.38,215.71 L436.81,218.30 L433.94,218.30Z" fill="#ff1a1a"/>
<path d="M438.23,215.71 L439.66,218.30 L436.80,218.30Z" fill="#ff1a1a"/>
<path d="M439.20,212.51 L440.63,215.10 L437.77,215.10Z" fill="#ff1a1a"/>
<path d="M441.58,212.51 L443.01,215.10 L440.15,215.10Z" fill="#ff1a1a"/>
<path d="M443.96,212.51 L445.39,215.10 L442.53,215.10Z" fill="#ff1a1a"/>
<path d="M446.34,212.51 L447.77,215.10 L444.91,215.10Z" fill="#ff1a1a"/>
<path d="M448.71,212.51 L450.14,215.10 L447.28,215.10Z" fill="#ff1a1a"/>
<path d="M451.09,212.51 L452.52,215.10 L449.66,215.10Z" fill="#ff1a1a"/>
<path d="M453.47,212.51 L454.90,215.10 L452.04,215.10Z" fill="#ff1a1a"/>
<path d="M455.85,212.51 L457.28,215.10 L454.42,215.10Z" fill="#ff1a1a"/>
<path d="M458.23,212.51 L459.66,215.10 L456.80,215.10Z" fill="#ff1a1a"/>
<path d="M460.61,212.51 L462.04,215.10 L459.18,215.10Z" fill="#ff1a1a"/>
<path d="M462.99,212.51 L464.42,215.10 L461.56,215.10Z" fill="#ff1a1a"/>
<path d="M465.36,212.51 L466.79,215.10 L463.93,215.10Z" fill="#ff1a1a"/>
<path d="M467.74,212.51 L469.17,215.10 L466.31,215.10Z" fill="#ff1a1a"/>
<path d="M470.12,212.51 L471.55,215.10 L468.69,215.10Z" fill="#ff1a1a"/>
<path d="M472.50,212.51 L473.93,215.10 L471.07,215.10Z" fill="#ff1a1a"/>
<line x1="433.70" y1="267.40" x2="441.90" y2="267.40" stroke="#8c8cff" stroke-width="0.70"/>
<circle cx="437.80" cy="267.40" r="1.00" fill="#1f1fff"/>
<text x="446.30" y="269.30" font-size="5.50" fill="#1e1e1e" font-weight="bold" stroke="#1e1e1e" stroke-width="0.22" textLength="60.50" lengthAdjust="spacingAndGlyphs" xml:space="preserve">Anti-EBV VCA IgA [U/ml]</text>
<line x1="433.70" y1="276.90" x2="441.90" y2="276.90" stroke="#8cff8c" stroke-width="0.70"/>
<rect x="436.80" y="275.90" width="2.00" height="2.00" fill="#00ee00"/>
<text x="446.30" y="278.80" font-size="5.50" fill="#1e1e1e" font-weight="bold" stroke="#1e1e1e" stroke-width="0.22" textLength="63.00" lengthAdjust="spacingAndGlyphs" xml:space="preserve">Anti- EBV VCA IgM [U/ml]</text>
<line x1="433.70" y1="286.70" x2="441.90" y2="286.70" stroke="#ff9a9a" stroke-width="0.70"/>
<path d="M437.80,285.40 L438.95,287.55 L436.65,287.55Z" fill="#ff1a1a"/>
<text x="446.30" y="288.60" font-size="5.50" fill="#1e1e1e" font-weight="bold" stroke="#1e1e1e" stroke-width="0.22" textLength="60.50" lengthAdjust="spacingAndGlyphs" xml:space="preserve">Anti-EBV VCA IgG [U/ml]</text>
<text x="379.20" y="183.40" font-size="5.90" fill="#1e1e1e" font-weight="bold" stroke="#1e1e1e" stroke-width="0.22" textLength="111.30" lengthAdjust="spacingAndGlyphs" xml:space="preserve">ROC curve analysis of selective anti-EBV</text>
<text x="394.20" y="190.30" font-size="5.90" fill="#1e1e1e" font-weight="bold" stroke="#1e1e1e" stroke-width="0.22" textLength="81.60" lengthAdjust="spacingAndGlyphs" xml:space="preserve">antibody serum concentration</text>
<text x="377.40" y="197.20" font-size="5.90" fill="#1e1e1e" font-weight="bold" stroke="#1e1e1e" stroke-width="0.22" textLength="115.00" lengthAdjust="spacingAndGlyphs" xml:space="preserve">among CLL EBV+ and CVID EBV+ patients</text>
<text x="59.55" y="447.13" font-size="6.18" fill="#1e1e1e" font-weight="bold" stroke="#1e1e1e" stroke-width="0.22" text-anchor="end" textLength="3.04" lengthAdjust="spacingAndGlyphs" xml:space="preserve">0</text>
<text x="63.00" y="455.22" font-size="6.18" fill="#1e1e1e" font-weight="bold" stroke="#1e1e1e" stroke-width="0.22" text-anchor="middle" textLength="3.04" lengthAdjust="spacingAndGlyphs" xml:space="preserve">0</text>
<text x="59.55" y="431.43" font-size="6.18" fill="#1e1e1e" font-weight="bold" stroke="#1e1e1e" stroke-width="0.22" text-anchor="end" textLength="6.08" lengthAdjust="spacingAndGlyphs" xml:space="preserve">20</text>
<text x="78.70" y="455.22" font-size="6.18" fill="#1e1e1e" font-weight="bold" stroke="#1e1e1e" stroke-width="0.22" text-anchor="middle" textLength="6.08" lengthAdjust="spacingAndGlyphs" xml:space="preserve">20</text>
<text x="59.55" y="415.73" font-size="6.18" fill="#1e1e1e" font-weight="bold" stroke="#1e1e1e" stroke-width="0.22" text-anchor="end" textLength="6.08" lengthAdjust="spacingAndGlyphs" xml:space="preserve">40</text>
<text x="94.40" y="455.22" font-size="6.18" fill="#1e1e1e" font-weight="bold" stroke="#1e1e1e" stroke-width="0.22" text-anchor="middle" textLength="6.08" lengthAdjust="spacingAndGlyphs" xml:space="preserve">40</text>
<text x="59.55" y="400.03" font-size="6.18" fill="#1e1e1e" font-weight="bold" stroke="#1e1e1e" stroke-width="0.22" text-anchor="end" textLength="6.08" lengthAdjust="spacingAndGlyphs" xml:space="preserve">60</text>
<text x="110.10" y="455.22" font-size="6.18" fill="#1e1e1e" font-weight="bold" stroke="#1e1e1e" stroke-width="0.22" text-anchor="middle" textLength="6.08" lengthAdjust="spacingAndGlyphs" xml:space="preserve">60</text>
<text x="59.55" y="384.33" font-size="6.18" fill="#1e1e1e" font-weight="bold" stroke="#1e1e1e" stroke-width="0.22" text-anchor="end" textLength="6.08" lengthAdjust="spacingAndGlyphs" xml:space="preserve">80</text>
<text x="125.80" y="455.22" font-size="6.18" fill="#1e1e1e" font-weight="bold" stroke="#1e1e1e" stroke-width="0.22" text-anchor="middle" textLength="6.08" lengthAdjust="spacingAndGlyphs" xml:space="preserve">80</text>
<text x="59.55" y="368.63" font-size="6.18" fill="#1e1e1e" font-weight="bold" stroke="#1e1e1e" stroke-width="0.22" text-anchor="end" textLength="9.12" lengthAdjust="spacingAndGlyphs" xml:space="preserve">100</text>
<text x="141.50" y="455.22" font-size="6.18" fill="#1e1e1e" font-weight="bold" stroke="#1e1e1e" stroke-width="0.22" text-anchor="middle" textLength="9.12" lengthAdjust="spacingAndGlyphs" xml:space="preserve">100</text>
<text x="102.25" y="464.88" font-size="6.48" fill="#1e1e1e" font-weight="bold" stroke="#1e1e1e" stroke-width="0.22" text-anchor="middle" textLength="60.37" lengthAdjust="spacingAndGlyphs" xml:space="preserve">100% - Specificity%</text>
<text x="44.97" y="405.24" font-size="6.48" fill="#1e1e1e" font-weight="bold" stroke="#1e1e1e" stroke-width="0.22" text-anchor="middle" textLength="44.35" lengthAdjust="spacingAndGlyphs" transform="rotate(-90 44.97 405.24)" xml:space="preserve">Sensitivity [%]</text>
<line x1="63.00" y1="445.00" x2="141.50" y2="366.50" stroke="#ffc0c0" stroke-width="0.65"/>
<path d="M63.50,366.50 V445.50 H141.50" fill="none" stroke="#151515" stroke-width="1.1"/>
<line x1="60.26" y1="445.00" x2="63.50" y2="445.00" stroke="#151515" stroke-width="0.91"/>
<line x1="63.00" y1="445.50" x2="63.00" y2="448.74" stroke="#151515" stroke-width="0.91"/>
<line x1="60.26" y1="429.30" x2="63.50" y2="429.30" stroke="#151515" stroke-width="0.91"/>
<line x1="78.70" y1="445.50" x2="78.70" y2="448.74" stroke="#151515" stroke-width="0.91"/>
<line x1="60.26" y1="413.60" x2="63.50" y2="413.60" stroke="#151515" stroke-width="0.91"/>
<line x1="94.40" y1="445.50" x2="94.40" y2="448.74" stroke="#151515" stroke-width="0.91"/>
<line x1="60.26" y1="397.90" x2="63.50" y2="397.90" stroke="#151515" stroke-width="0.91"/>
<line x1="110.10" y1="445.50" x2="110.10" y2="448.74" stroke="#151515" stroke-width="0.91"/>
<line x1="60.26" y1="382.20" x2="63.50" y2="382.20" stroke="#151515" stroke-width="0.91"/>
<line x1="125.80" y1="445.50" x2="125.80" y2="448.74" stroke="#151515" stroke-width="0.91"/>
<line x1="60.26" y1="366.50" x2="63.50" y2="366.50" stroke="#151515" stroke-width="0.91"/>
<line x1="141.50" y1="445.50" x2="141.50" y2="448.74" stroke="#151515" stroke-width="0.91"/>
<path d="M63.00,445.00 L63.00,366.50 L141.50,366.50" fill="none" stroke="#1f1fff" stroke-width="0.81"/>
<circle cx="63.00" cy="445.00" r="1.11" fill="#1f1fff"/>
<circle cx="63.00" cy="441.76" r="1.11" fill="#1f1fff"/>
<circle cx="63.00" cy="438.52" r="1.11" fill="#1f1fff"/>
<circle cx="63.00" cy="435.28" r="1.11" fill="#1f1fff"/>
<circle cx="63.00" cy="432.03" r="1.11" fill="#1f1fff"/>
<circle cx="63.00" cy="428.79" r="1.11" fill="#1f1fff"/>
<circle cx="63.00" cy="425.55" r="1.11" fill="#1f1fff"/>
<circle cx="63.00" cy="422.31" r="1.11" fill="#1f1fff"/>
<circle cx="63.00" cy="419.07" r="1.11" fill="#1f1fff"/>
<circle cx="63.00" cy="415.83" r="1.11" fill="#1f1fff"/>
<circle cx="63.00" cy="412.59" r="1.11" fill="#1f1fff"/>
<circle cx="63.00" cy="409.35" r="1.11" fill="#1f1fff"/>
<circle cx="63.00" cy="406.10" r="1.11" fill="#1f1fff"/>
<circle cx="63.00" cy="402.86" r="1.11" fill="#1f1fff"/>
<circle cx="63.00" cy="399.62" r="1.11" fill="#1f1fff"/>
<circle cx="63.00" cy="396.38" r="1.11" fill="#1f1fff"/>
<circle cx="63.00" cy="393.14" r="1.11" fill="#1f1fff"/>
<circle cx="63.00" cy="389.90" r="1.11" fill="#1f1fff"/>
<circle cx="63.00" cy="386.66" r="1.11" fill="#1f1fff"/>
<circle cx="63.00" cy="383.42" r="1.11" fill="#1f1fff"/>
<circle cx="63.00" cy="380.17" r="1.11" fill="#1f1fff"/>
<circle cx="63.00" cy="376.93" r="1.11" fill="#1f1fff"/>
<circle cx="63.00" cy="373.69" r="1.11" fill="#1f1fff"/>
<circle cx="63.00" cy="370.45" r="1.11" fill="#1f1fff"/>
<circle cx="63.00" cy="367.21" r="1.11" fill="#1f1fff"/>
<circle cx="65.53" cy="366.50" r="1.11" fill="#1f1fff"/>
<circle cx="68.77" cy="366.50" r="1.11" fill="#1f1fff"/>
<circle cx="72.01" cy="366.50" r="1.11" fill="#1f1fff"/>
<circle cx="75.26" cy="366.50" r="1.11" fill="#1f1fff"/>
<circle cx="78.50" cy="366.50" r="1.11" fill="#1f1fff"/>
<circle cx="81.74" cy="366.50" r="1.11" fill="#1f1fff"/>
<circle cx="84.98" cy="366.50" r="1.11" fill="#1f1fff"/>
<circle cx="88.22" cy="366.50" r="1.11" fill="#1f1fff"/>
<circle cx="91.46" cy="366.50" r="1.11" fill="#1f1fff"/>
<circle cx="94.70" cy="366.50" r="1.11" fill="#1f1fff"/>
<circle cx="97.95" cy="366.50" r="1.11" fill="#1f1fff"/>
<circle cx="101.19" cy="366.50" r="1.11" fill="#1f1fff"/>
<circle cx="104.43" cy="366.50" r="1.11" fill="#1f1fff"/>
<circle cx="107.67" cy="366.50" r="1.11" fill="#1f1fff"/>
<circle cx="110.91" cy="366.50" r="1.11" fill="#1f1fff"/>
<circle cx="114.15" cy="366.50" r="1.11" fill="#1f1fff"/>
<circle cx="117.39" cy="366.50" r="1.11" fill="#1f1fff"/>
<circle cx="120.63" cy="366.50" r="1.11" fill="#1f1fff"/>
<circle cx="123.88" cy="366.50" r="1.11" fill="#1f1fff"/>
<circle cx="127.12" cy="366.50" r="1.11" fill="#1f1fff"/>
<circle cx="130.36" cy="366.50" r="1.11" fill="#1f1fff"/>
<circle cx="133.60" cy="366.50" r="1.11" fill="#1f1fff"/>
<circle cx="136.84" cy="366.50" r="1.11" fill="#1f1fff"/>
<circle cx="140.08" cy="366.50" r="1.11" fill="#1f1fff"/>
<path d="M63.00,445.00 L63.00,435.27 L67.63,435.27 L67.63,425.22 L72.11,425.22 L72.11,415.56 L74.15,415.56 L74.15,412.58 L82.70,412.58 L82.70,392.88 L93.77,392.88 L93.77,386.12 L98.09,386.12 L98.09,379.30 L104.37,379.30 L104.37,366.50 L141.50,366.50" fill="none" stroke="#00ee00" stroke-width="0.81"/>
<rect x="61.89" y="443.89" width="2.23" height="2.23" fill="#00ee00"/>
<rect x="61.89" y="440.64" width="2.23" height="2.23" fill="#00ee00"/>
<rect x="61.89" y="437.40" width="2.23" height="2.23" fill="#00ee00"/>
<rect x="61.89" y="434.15" width="2.23" height="2.23" fill="#00ee00"/>
<rect x="64.20" y="434.15" width="2.23" height="2.23" fill="#00ee00"/>
<rect x="66.52" y="434.15" width="2.23" height="2.23" fill="#00ee00"/>
<rect x="66.52" y="430.80" width="2.23" height="2.23" fill="#00ee00"/>
<rect x="66.52" y="427.45" width="2.23" height="2.23" fill="#00ee00"/>
<rect x="66.52" y="424.10" width="2.23" height="2.23" fill="#00ee00"/>
<rect x="68.75" y="424.10" width="2.23" height="2.23" fill="#00ee00"/>
<rect x="70.99" y="424.10" width="2.23" height="2.23" fill="#00ee00"/>
<rect x="70.99" y="420.89" width="2.23" height="2.23" fill="#00ee00"/>
<rect x="70.99" y="417.67" width="2.23" height="2.23" fill="#00ee00"/>
<rect x="70.99" y="414.45" width="2.23" height="2.23" fill="#00ee00"/>
<rect x="73.03" y="414.45" width="2.23" height="2.23" fill="#00ee00"/>
<rect x="73.03" y="411.47" width="2.23" height="2.23" fill="#00ee00"/>
<rect x="75.17" y="411.47" width="2.23" height="2.23" fill="#00ee00"/>
<rect x="77.31" y="411.47" width="2.23" height="2.23" fill="#00ee00"/>
<rect x="79.45" y="411.47" width="2.23" height="2.23" fill="#00ee00"/>
<rect x="81.59" y="411.47" width="2.23" height="2.23" fill="#00ee00"/>
<rect x="81.59" y="408.18" width="2.23" height="2.23" fill="#00ee00"/>
<rect x="81.59" y="404.90" width="2.23" height="2.23" fill="#00ee00"/>
<rect x="81.59" y="401.61" width="2.23" height="2.23" fill="#00ee00"/>
<rect x="81.59" y="398.33" width="2.23" height="2.23" fill="#00ee00"/>
<rect x="81.59" y="395.05" width="2.23" height="2.23" fill="#00ee00"/>
<rect x="81.59" y="391.76" width="2.23" height="2.23" fill="#00ee00"/>
<rect x="83.80" y="391.76" width="2.23" height="2.23" fill="#00ee00"/>
<rect x="86.02" y="391.76" width="2.23" height="2.23" fill="#00ee00"/>
<rect x="88.23" y="391.76" width="2.23" height="2.23" fill="#00ee00"/>
<rect x="90.44" y="391.76" width="2.23" height="2.23" fill="#00ee00"/>
<rect x="92.66" y="391.76" width="2.23" height="2.23" fill="#00ee00"/>
<rect x="92.66" y="388.39" width="2.23" height="2.23" fill="#00ee00"/>
<rect x="92.66" y="385.01" width="2.23" height="2.23" fill="#00ee00"/>
<rect x="94.82" y="385.01" width="2.23" height="2.23" fill="#00ee00"/>
<rect x="96.98" y="385.01" width="2.23" height="2.23" fill="#00ee00"/>
<rect x="96.98" y="381.60" width="2.23" height="2.23" fill="#00ee00"/>
<rect x="96.98" y="378.18" width="2.23" height="2.23" fill="#00ee00"/>
<rect x="99.07" y="378.18" width="2.23" height="2.23" fill="#00ee00"/>
<rect x="101.16" y="378.18" width="2.23" height="2.23" fill="#00ee00"/>
<rect x="103.26" y="378.18" width="2.23" height="2.23" fill="#00ee00"/>
<rect x="103.26" y="374.98" width="2.23" height="2.23" fill="#00ee00"/>
<rect x="103.26" y="371.78" width="2.23" height="2.23" fill="#00ee00"/>
<rect x="103.26" y="368.58" width="2.23" height="2.23" fill="#00ee00"/>
<rect x="103.26" y="365.39" width="2.23" height="2.23" fill="#00ee00"/>
<rect x="105.58" y="365.39" width="2.23" height="2.23" fill="#00ee00"/>
<rect x="107.90" y="365.39" width="2.23" height="2.23" fill="#00ee00"/>
<rect x="110.22" y="365.39" width="2.23" height="2.23" fill="#00ee00"/>
<rect x="112.54" y="365.39" width="2.23" height="2.23" fill="#00ee00"/>
<rect x="114.86" y="365.39" width="2.23" height="2.23" fill="#00ee00"/>
<rect x="117.18" y="365.39" width="2.23" height="2.23" fill="#00ee00"/>
<rect x="119.50" y="365.39" width="2.23" height="2.23" fill="#00ee00"/>
<rect x="121.82" y="365.39" width="2.23" height="2.23" fill="#00ee00"/>
<rect x="124.14" y="365.39" width="2.23" height="2.23" fill="#00ee00"/>
<rect x="126.46" y="365.39" width="2.23" height="2.23" fill="#00ee00"/>
<rect x="128.78" y="365.39" width="2.23" height="2.23" fill="#00ee00"/>
<rect x="131.10" y="365.39" width="2.23" height="2.23" fill="#00ee00"/>
<rect x="133.42" y="365.39" width="2.23" height="2.23" fill="#00ee00"/>
<rect x="135.74" y="365.39" width="2.23" height="2.23" fill="#00ee00"/>
<rect x="138.07" y="365.39" width="2.23" height="2.23" fill="#00ee00"/>
<rect x="140.39" y="365.39" width="2.23" height="2.23" fill="#00ee00"/>
<path d="M63.00,445.00 L63.00,366.50 L141.50,366.50" fill="none" stroke="#ff1a1a" stroke-width="0.81"/>
<path d="M63.00,441.88 L64.45,444.49 L61.55,444.49Z" fill="#ff1a1a"/>
<path d="M63.00,438.63 L64.45,441.25 L61.55,441.25Z" fill="#ff1a1a"/>
<path d="M63.00,435.39 L64.45,438.01 L61.55,438.01Z" fill="#ff1a1a"/>
<path d="M63.00,432.15 L64.45,434.77 L61.55,434.77Z" fill="#ff1a1a"/>
<path d="M63.00,428.91 L64.45,431.53 L61.55,431.53Z" fill="#ff1a1a"/>
<path d="M63.00,425.67 L64.45,428.29 L61.55,428.29Z" fill="#ff1a1a"/>
<path d="M63.00,422.43 L64.45,425.05 L61.55,425.05Z" fill="#ff1a1a"/>
<path d="M63.00,419.19 L64.45,421.80 L61.55,421.80Z" fill="#ff1a1a"/>
<path d="M63.00,415.94 L64.45,418.56 L61.55,418.56Z" fill="#ff1a1a"/>
<path d="M63.00,412.70 L64.45,415.32 L61.55,415.32Z" fill="#ff1a1a"/>
<path d="M63.00,409.46 L64.45,412.08 L61.55,412.08Z" fill="#ff1a1a"/>
<path d="M63.00,406.22 L64.45,408.84 L61.55,408.84Z" fill="#ff1a1a"/>
<path d="M63.00,402.98 L64.45,405.60 L61.55,405.60Z" fill="#ff1a1a"/>
<path d="M63.00,399.74 L64.45,402.36 L61.55,402.36Z" fill="#ff1a1a"/>
<path d="M63.00,396.50 L64.45,399.12 L61.55,399.12Z" fill="#ff1a1a"/>
<path d="M63.00,393.26 L64.45,395.87 L61.55,395.87Z" fill="#ff1a1a"/>
<path d="M63.00,390.01 L64.45,392.63 L61.55,392.63Z" fill="#ff1a1a"/>
<path d="M63.00,386.77 L64.45,389.39 L61.55,389.39Z" fill="#ff1a1a"/>
<path d="M63.00,383.53 L64.45,386.15 L61.55,386.15Z" fill="#ff1a1a"/>
<path d="M63.00,380.29 L64.45,382.91 L61.55,382.91Z" fill="#ff1a1a"/>
<path d="M63.00,377.05 L64.45,379.67 L61.55,379.67Z" fill="#ff1a1a"/>
<path d="M63.00,373.81 L64.45,376.43 L61.55,376.43Z" fill="#ff1a1a"/>
<path d="M63.00,370.57 L64.45,373.19 L61.55,373.19Z" fill="#ff1a1a"/>
<path d="M63.00,367.33 L64.45,369.94 L61.55,369.94Z" fill="#ff1a1a"/>
<path d="M63.91,365.00 L65.36,367.61 L62.46,367.61Z" fill="#ff1a1a"/>
<path d="M67.15,365.00 L68.60,367.61 L65.70,367.61Z" fill="#ff1a1a"/>
<path d="M70.39,365.00 L71.84,367.61 L68.95,367.61Z" fill="#ff1a1a"/>
<path d="M73.64,365.00 L75.08,367.61 L72.19,367.61Z" fill="#ff1a1a"/>
<path d="M76.88,365.00 L78.33,367.61 L75.43,367.61Z" fill="#ff1a1a"/>
<path d="M80.12,365.00 L81.57,367.61 L78.67,367.61Z" fill="#ff1a1a"/>
<path d="M83.36,365.00 L84.81,367.61 L81.91,367.61Z" fill="#ff1a1a"/>
<path d="M86.60,365.00 L88.05,367.61 L85.15,367.61Z" fill="#ff1a1a"/>
<path d="M89.84,365.00 L91.29,367.61 L88.39,367.61Z" fill="#ff1a1a"/>
<path d="M93.08,365.00 L94.53,367.61 L91.63,367.61Z" fill="#ff1a1a"/>
<path d="M96.32,365.00 L97.77,367.61 L94.88,367.61Z" fill="#ff1a1a"/>
<path d="M99.57,365.00 L101.01,367.61 L98.12,367.61Z" fill="#ff1a1a"/>
<path d="M102.81,365.00 L104.26,367.61 L101.36,367.61Z" fill="#ff1a1a"/>
<path d="M106.05,365.00 L107.50,367.61 L104.60,367.61Z" fill="#ff1a1a"/>
<path d="M109.29,365.00 L110.74,367.61 L107.84,367.61Z" fill="#ff1a1a"/>
<path d="M112.53,365.00 L113.98,367.61 L111.08,367.61Z" fill="#ff1a1a"/>
<path d="M115.77,365.00 L117.22,367.61 L114.32,367.61Z" fill="#ff1a1a"/>
<path d="M119.01,365.00 L120.46,367.61 L117.57,367.61Z" fill="#ff1a1a"/>
<path d="M122.25,365.00 L123.70,367.61 L120.81,367.61Z" fill="#ff1a1a"/>
<path d="M125.50,365.00 L126.94,367.61 L124.05,367.61Z" fill="#ff1a1a"/>
<path d="M128.74,365.00 L130.19,367.61 L127.29,367.61Z" fill="#ff1a1a"/>
<path d="M131.98,365.00 L133.43,367.61 L130.53,367.61Z" fill="#ff1a1a"/>
<path d="M135.22,365.00 L136.67,367.61 L133.77,367.61Z" fill="#ff1a1a"/>
<path d="M138.46,365.00 L139.91,367.61 L137.01,367.61Z" fill="#ff1a1a"/>
<line x1="100.85" y1="419.10" x2="109.15" y2="419.10" stroke="#8c8cff" stroke-width="0.71"/>
<circle cx="105.00" cy="419.10" r="1.01" fill="#1f1fff"/>
<text x="114.60" y="421.02" font-size="5.57" fill="#1e1e1e" font-weight="bold" stroke="#1e1e1e" stroke-width="0.22" textLength="72.20" lengthAdjust="spacingAndGlyphs" xml:space="preserve">Anti-EBV EBNA-1 IgA [U/ml]</text>
<line x1="100.85" y1="428.70" x2="109.15" y2="428.70" stroke="#8cff8c" stroke-width="0.71"/>
<rect x="103.99" y="427.69" width="2.03" height="2.03" fill="#00ee00"/>
<text x="114.60" y="430.62" font-size="5.57" fill="#1e1e1e" font-weight="bold" stroke="#1e1e1e" stroke-width="0.22" textLength="74.00" lengthAdjust="spacingAndGlyphs" xml:space="preserve">Anti- EBV EBNA-1 IgM [U/ml]</text>
<line x1="100.85" y1="438.20" x2="109.15" y2="438.20" stroke="#ff9a9a" stroke-width="0.71"/>
<path d="M105.00,436.88 L106.16,439.06 L103.84,439.06Z" fill="#ff1a1a"/>
<text x="114.60" y="440.12" font-size="5.57" fill="#1e1e1e" font-weight="bold" stroke="#1e1e1e" stroke-width="0.22" textLength="72.20" lengthAdjust="spacingAndGlyphs" xml:space="preserve">Anti-EBV EBNA-1 IgG [U/ml]</text>
<text x="43.90" y="335.70" font-size="5.98" fill="#1e1e1e" font-weight="bold" stroke="#1e1e1e" stroke-width="0.22" textLength="116.90" lengthAdjust="spacingAndGlyphs" xml:space="preserve">ROC curve analysis of selective anti-EBV</text>
<text x="59.20" y="342.60" font-size="5.98" fill="#1e1e1e" font-weight="bold" stroke="#1e1e1e" stroke-width="0.22" textLength="85.60" lengthAdjust="spacingAndGlyphs" xml:space="preserve">antibody serum concentration</text>
<text x="44.20" y="349.50" font-size="5.98" fill="#1e1e1e" font-weight="bold" stroke="#1e1e1e" stroke-width="0.22" textLength="115.60" lengthAdjust="spacingAndGlyphs" xml:space="preserve">among CLL EBV+ and CLL EBV- patients</text>
<text x="223.24" y="451.79" font-size="6.66" fill="#1e1e1e" font-weight="bold" stroke="#1e1e1e" stroke-width="0.22" text-anchor="end" textLength="3.28" lengthAdjust="spacingAndGlyphs" xml:space="preserve">0</text>
<text x="227.30" y="459.98" font-size="6.66" fill="#1e1e1e" font-weight="bold" stroke="#1e1e1e" stroke-width="0.22" text-anchor="middle" textLength="3.28" lengthAdjust="spacingAndGlyphs" xml:space="preserve">0</text>
<text x="223.24" y="434.89" font-size="6.66" fill="#1e1e1e" font-weight="bold" stroke="#1e1e1e" stroke-width="0.22" text-anchor="end" textLength="6.56" lengthAdjust="spacingAndGlyphs" xml:space="preserve">20</text>
<text x="244.24" y="459.98" font-size="6.66" fill="#1e1e1e" font-weight="bold" stroke="#1e1e1e" stroke-width="0.22" text-anchor="middle" textLength="6.56" lengthAdjust="spacingAndGlyphs" xml:space="preserve">20</text>
<text x="223.24" y="417.99" font-size="6.66" fill="#1e1e1e" font-weight="bold" stroke="#1e1e1e" stroke-width="0.22" text-anchor="end" textLength="6.56" lengthAdjust="spacingAndGlyphs" xml:space="preserve">40</text>
<text x="261.18" y="459.98" font-size="6.66" fill="#1e1e1e" font-weight="bold" stroke="#1e1e1e" stroke-width="0.22" text-anchor="middle" textLength="6.56" lengthAdjust="spacingAndGlyphs" xml:space="preserve">40</text>
<text x="223.24" y="401.09" font-size="6.66" fill="#1e1e1e" font-weight="bold" stroke="#1e1e1e" stroke-width="0.22" text-anchor="end" textLength="6.56" lengthAdjust="spacingAndGlyphs" xml:space="preserve">60</text>
<text x="278.12" y="459.98" font-size="6.66" fill="#1e1e1e" font-weight="bold" stroke="#1e1e1e" stroke-width="0.22" text-anchor="middle" textLength="6.56" lengthAdjust="spacingAndGlyphs" xml:space="preserve">60</text>
<text x="223.24" y="384.19" font-size="6.66" fill="#1e1e1e" font-weight="bold" stroke="#1e1e1e" stroke-width="0.22" text-anchor="end" textLength="6.56" lengthAdjust="spacingAndGlyphs" xml:space="preserve">80</text>
<text x="295.06" y="459.98" font-size="6.66" fill="#1e1e1e" font-weight="bold" stroke="#1e1e1e" stroke-width="0.22" text-anchor="middle" textLength="6.56" lengthAdjust="spacingAndGlyphs" xml:space="preserve">80</text>
<text x="223.24" y="367.29" font-size="6.66" fill="#1e1e1e" font-weight="bold" stroke="#1e1e1e" stroke-width="0.22" text-anchor="end" textLength="9.83" lengthAdjust="spacingAndGlyphs" xml:space="preserve">100</text>
<text x="312.00" y="459.98" font-size="6.66" fill="#1e1e1e" font-weight="bold" stroke="#1e1e1e" stroke-width="0.22" text-anchor="middle" textLength="9.83" lengthAdjust="spacingAndGlyphs" xml:space="preserve">100</text>
<text x="269.65" y="470.90" font-size="6.99" fill="#1e1e1e" font-weight="bold" stroke="#1e1e1e" stroke-width="0.22" text-anchor="middle" textLength="65.14" lengthAdjust="spacingAndGlyphs" xml:space="preserve">100% - Specificity%</text>
<text x="207.85" y="406.70" font-size="6.99" fill="#1e1e1e" font-weight="bold" stroke="#1e1e1e" stroke-width="0.22" text-anchor="middle" textLength="47.74" lengthAdjust="spacingAndGlyphs" transform="rotate(-90 207.85 406.70)" xml:space="preserve">Sensitivity [%]</text>
<line x1="227.30" y1="449.50" x2="312.00" y2="365.00" stroke="#ffc0c0" stroke-width="0.65"/>
<path d="M227.50,365.00 V449.50 H312.00" fill="none" stroke="#151515" stroke-width="1.1"/>
<line x1="224.01" y1="449.50" x2="227.50" y2="449.50" stroke="#151515" stroke-width="0.98"/>
<line x1="227.30" y1="449.50" x2="227.30" y2="452.99" stroke="#151515" stroke-width="0.98"/>
<line x1="224.01" y1="432.60" x2="227.50" y2="432.60" stroke="#151515" stroke-width="0.98"/>
<line x1="244.24" y1="449.50" x2="244.24" y2="452.99" stroke="#151515" stroke-width="0.98"/>
<line x1="224.01" y1="415.70" x2="227.50" y2="415.70" stroke="#151515" stroke-width="0.98"/>
<line x1="261.18" y1="449.50" x2="261.18" y2="452.99" stroke="#151515" stroke-width="0.98"/>
<line x1="224.01" y1="398.80" x2="227.50" y2="398.80" stroke="#151515" stroke-width="0.98"/>
<line x1="278.12" y1="449.50" x2="278.12" y2="452.99" stroke="#151515" stroke-width="0.98"/>
<line x1="224.01" y1="381.90" x2="227.50" y2="381.90" stroke="#151515" stroke-width="0.98"/>
<line x1="295.06" y1="449.50" x2="295.06" y2="452.99" stroke="#151515" stroke-width="0.98"/>
<line x1="224.01" y1="365.00" x2="227.50" y2="365.00" stroke="#151515" stroke-width="0.98"/>
<line x1="312.00" y1="449.50" x2="312.00" y2="452.99" stroke="#151515" stroke-width="0.98"/>
<path d="M227.30,449.50 L227.30,365.00 L312.00,365.00" fill="none" stroke="#1f1fff" stroke-width="0.87"/>
<circle cx="227.30" cy="449.50" r="1.20" fill="#1f1fff"/>
<circle cx="227.30" cy="446.01" r="1.20" fill="#1f1fff"/>
<circle cx="227.30" cy="442.51" r="1.20" fill="#1f1fff"/>
<circle cx="227.30" cy="439.02" r="1.20" fill="#1f1fff"/>
<circle cx="227.30" cy="435.53" r="1.20" fill="#1f1fff"/>
<circle cx="227.30" cy="432.03" r="1.20" fill="#1f1fff"/>
<circle cx="227.30" cy="428.54" r="1.20" fill="#1f1fff"/>
<circle cx="227.30" cy="425.05" r="1.20" fill="#1f1fff"/>
<circle cx="227.30" cy="421.55" r="1.20" fill="#1f1fff"/>
<circle cx="227.30" cy="418.06" r="1.20" fill="#1f1fff"/>
<circle cx="227.30" cy="414.57" r="1.20" fill="#1f1fff"/>
<circle cx="227.30" cy="411.08" r="1.20" fill="#1f1fff"/>
<circle cx="227.30" cy="407.58" r="1.20" fill="#1f1fff"/>
<circle cx="227.30" cy="404.09" r="1.20" fill="#1f1fff"/>
<circle cx="227.30" cy="400.60" r="1.20" fill="#1f1fff"/>
<circle cx="227.30" cy="397.10" r="1.20" fill="#1f1fff"/>
<circle cx="227.30" cy="393.61" r="1.20" fill="#1f1fff"/>
<circle cx="227.30" cy="390.12" r="1.20" fill="#1f1fff"/>
<circle cx="227.30" cy="386.62" r="1.20" fill="#1f1fff"/>
<circle cx="227.30" cy="383.13" r="1.20" fill="#1f1fff"/>
<circle cx="227.30" cy="379.64" r="1.20" fill="#1f1fff"/>
<circle cx="227.30" cy="376.14" r="1.20" fill="#1f1fff"/>
<circle cx="227.30" cy="372.65" r="1.20" fill="#1f1fff"/>
<circle cx="227.30" cy="369.16" r="1.20" fill="#1f1fff"/>
<circle cx="227.30" cy="365.66" r="1.20" fill="#1f1fff"/>
<circle cx="230.13" cy="365.00" r="1.20" fill="#1f1fff"/>
<circle cx="233.62" cy="365.00" r="1.20" fill="#1f1fff"/>
<circle cx="237.12" cy="365.00" r="1.20" fill="#1f1fff"/>
<circle cx="240.61" cy="365.00" r="1.20" fill="#1f1fff"/>
<circle cx="244.10" cy="365.00" r="1.20" fill="#1f1fff"/>
<circle cx="247.59" cy="365.00" r="1.20" fill="#1f1fff"/>
<circle cx="251.09" cy="365.00" r="1.20" fill="#1f1fff"/>
<circle cx="254.58" cy="365.00" r="1.20" fill="#1f1fff"/>
<circle cx="258.07" cy="365.00" r="1.20" fill="#1f1fff"/>
<circle cx="261.57" cy="365.00" r="1.20" fill="#1f1fff"/>
<circle cx="265.06" cy="365.00" r="1.20" fill="#1f1fff"/>
<circle cx="268.55" cy="365.00" r="1.20" fill="#1f1fff"/>
<circle cx="272.05" cy="365.00" r="1.20" fill="#1f1fff"/>
<circle cx="275.54" cy="365.00" r="1.20" fill="#1f1fff"/>
<circle cx="279.03" cy="365.00" r="1.20" fill="#1f1fff"/>
<circle cx="282.53" cy="365.00" r="1.20" fill="#1f1fff"/>
<circle cx="286.02" cy="365.00" r="1.20" fill="#1f1fff"/>
<circle cx="289.51" cy="365.00" r="1.20" fill="#1f1fff"/>
<circle cx="293.01" cy="365.00" r="1.20" fill="#1f1fff"/>
<circle cx="296.50" cy="365.00" r="1.20" fill="#1f1fff"/>
<circle cx="299.99" cy="365.00" r="1.20" fill="#1f1fff"/>
<circle cx="303.49" cy="365.00" r="1.20" fill="#1f1fff"/>
<circle cx="306.98" cy="365.00" r="1.20" fill="#1f1fff"/>
<circle cx="310.47" cy="365.00" r="1.20" fill="#1f1fff"/>
<path d="M227.30,449.50 L227.30,430.57 L232.64,430.57 L232.64,426.77 L236.02,422.88 L236.02,415.19 L238.73,415.19 L238.73,387.98 L244.66,387.98 L244.66,376.41 L255.25,376.41 L255.25,368.72 L258.13,368.72 L258.13,365.00 L312.00,365.00" fill="none" stroke="#00ee00" stroke-width="0.87"/>
<rect x="226.10" y="448.30" width="2.40" height="2.40" fill="#00ee00"/>
<rect x="226.10" y="444.51" width="2.40" height="2.40" fill="#00ee00"/>
<rect x="226.10" y="440.73" width="2.40" height="2.40" fill="#00ee00"/>
<rect x="226.10" y="436.94" width="2.40" height="2.40" fill="#00ee00"/>
<rect x="226.10" y="433.16" width="2.40" height="2.40" fill="#00ee00"/>
<rect x="226.10" y="429.37" width="2.40" height="2.40" fill="#00ee00"/>
<rect x="228.77" y="429.37" width="2.40" height="2.40" fill="#00ee00"/>
<rect x="231.44" y="429.37" width="2.40" height="2.40" fill="#00ee00"/>
<rect x="231.44" y="425.57" width="2.40" height="2.40" fill="#00ee00"/>
<rect x="233.13" y="423.63" width="2.40" height="2.40" fill="#00ee00"/>
<rect x="234.82" y="421.68" width="2.40" height="2.40" fill="#00ee00"/>
<rect x="234.82" y="417.84" width="2.40" height="2.40" fill="#00ee00"/>
<rect x="234.82" y="413.99" width="2.40" height="2.40" fill="#00ee00"/>
<rect x="237.53" y="413.99" width="2.40" height="2.40" fill="#00ee00"/>
<rect x="237.53" y="410.59" width="2.40" height="2.40" fill="#00ee00"/>
<rect x="237.53" y="407.19" width="2.40" height="2.40" fill="#00ee00"/>
<rect x="237.53" y="403.79" width="2.40" height="2.40" fill="#00ee00"/>
<rect x="237.53" y="400.39" width="2.40" height="2.40" fill="#00ee00"/>
<rect x="237.53" y="396.99" width="2.40" height="2.40" fill="#00ee00"/>
<rect x="237.53" y="393.59" width="2.40" height="2.40" fill="#00ee00"/>
<rect x="237.53" y="390.18" width="2.40" height="2.40" fill="#00ee00"/>
<rect x="237.53" y="386.78" width="2.40" height="2.40" fill="#00ee00"/>
<rect x="240.50" y="386.78" width="2.40" height="2.40" fill="#00ee00"/>
<rect x="243.46" y="386.78" width="2.40" height="2.40" fill="#00ee00"/>
<rect x="243.46" y="382.92" width="2.40" height="2.40" fill="#00ee00"/>
<rect x="243.46" y="379.07" width="2.40" height="2.40" fill="#00ee00"/>
<rect x="243.46" y="375.21" width="2.40" height="2.40" fill="#00ee00"/>
<rect x="246.11" y="375.21" width="2.40" height="2.40" fill="#00ee00"/>
<rect x="248.76" y="375.21" width="2.40" height="2.40" fill="#00ee00"/>
<rect x="251.40" y="375.21" width="2.40" height="2.40" fill="#00ee00"/>
<rect x="254.05" y="375.21" width="2.40" height="2.40" fill="#00ee00"/>
<rect x="254.05" y="371.36" width="2.40" height="2.40" fill="#00ee00"/>
<rect x="254.05" y="367.52" width="2.40" height="2.40" fill="#00ee00"/>
<rect x="256.93" y="367.52" width="2.40" height="2.40" fill="#00ee00"/>
<rect x="256.93" y="363.80" width="2.40" height="2.40" fill="#00ee00"/>
<rect x="259.50" y="363.80" width="2.40" height="2.40" fill="#00ee00"/>
<rect x="262.06" y="363.80" width="2.40" height="2.40" fill="#00ee00"/>
<rect x="264.63" y="363.80" width="2.40" height="2.40" fill="#00ee00"/>
<rect x="267.19" y="363.80" width="2.40" height="2.40" fill="#00ee00"/>
<rect x="269.76" y="363.80" width="2.40" height="2.40" fill="#00ee00"/>
<rect x="272.32" y="363.80" width="2.40" height="2.40" fill="#00ee00"/>
<rect x="274.89" y="363.80" width="2.40" height="2.40" fill="#00ee00"/>
<rect x="277.45" y="363.80" width="2.40" height="2.40" fill="#00ee00"/>
<rect x="280.02" y="363.80" width="2.40" height="2.40" fill="#00ee00"/>
<rect x="282.58" y="363.80" width="2.40" height="2.40" fill="#00ee00"/>
<rect x="285.15" y="363.80" width="2.40" height="2.40" fill="#00ee00"/>
<rect x="287.71" y="363.80" width="2.40" height="2.40" fill="#00ee00"/>
<rect x="290.28" y="363.80" width="2.40" height="2.40" fill="#00ee00"/>
<rect x="292.84" y="363.80" width="2.40" height="2.40" fill="#00ee00"/>
<rect x="295.41" y="363.80" width="2.40" height="2.40" fill="#00ee00"/>
<rect x="297.97" y="363.80" width="2.40" height="2.40" fill="#00ee00"/>
<rect x="300.54" y="363.80" width="2.40" height="2.40" fill="#00ee00"/>
<rect x="303.10" y="363.80" width="2.40" height="2.40" fill="#00ee00"/>
<rect x="305.67" y="363.80" width="2.40" height="2.40" fill="#00ee00"/>
<rect x="308.23" y="363.80" width="2.40" height="2.40" fill="#00ee00"/>
<rect x="310.80" y="363.80" width="2.40" height="2.40" fill="#00ee00"/>
<path d="M227.30,449.50 L227.30,365.00 L312.00,365.00" fill="none" stroke="#ff1a1a" stroke-width="0.87"/>
<path d="M227.30,446.13 L228.86,448.95 L225.74,448.95Z" fill="#ff1a1a"/>
<path d="M227.30,442.64 L228.86,445.46 L225.74,445.46Z" fill="#ff1a1a"/>
<path d="M227.30,439.15 L228.86,441.97 L225.74,441.97Z" fill="#ff1a1a"/>
<path d="M227.30,435.65 L228.86,438.47 L225.74,438.47Z" fill="#ff1a1a"/>
<path d="M227.30,432.16 L228.86,434.98 L225.74,434.98Z" fill="#ff1a1a"/>
<path d="M227.30,428.67 L228.86,431.49 L225.74,431.49Z" fill="#ff1a1a"/>
<path d="M227.30,425.17 L228.86,428.00 L225.74,428.00Z" fill="#ff1a1a"/>
<path d="M227.30,421.68 L228.86,424.50 L225.74,424.50Z" fill="#ff1a1a"/>
<path d="M227.30,418.19 L228.86,421.01 L225.74,421.01Z" fill="#ff1a1a"/>
<path d="M227.30,414.69 L228.86,417.52 L225.74,417.52Z" fill="#ff1a1a"/>
<path d="M227.30,411.20 L228.86,414.02 L225.74,414.02Z" fill="#ff1a1a"/>
<path d="M227.30,407.71 L228.86,410.53 L225.74,410.53Z" fill="#ff1a1a"/>
<path d="M227.30,404.21 L228.86,407.04 L225.74,407.04Z" fill="#ff1a1a"/>
<path d="M227.30,400.72 L228.86,403.54 L225.74,403.54Z" fill="#ff1a1a"/>
<path d="M227.30,397.23 L228.86,400.05 L225.74,400.05Z" fill="#ff1a1a"/>
<path d="M227.30,393.73 L228.86,396.56 L225.74,396.56Z" fill="#ff1a1a"/>
<path d="M227.30,390.24 L228.86,393.06 L225.74,393.06Z" fill="#ff1a1a"/>
<path d="M227.30,386.75 L228.86,389.57 L225.74,389.57Z" fill="#ff1a1a"/>
<path d="M227.30,383.26 L228.86,386.08 L225.74,386.08Z" fill="#ff1a1a"/>
<path d="M227.30,379.76 L228.86,382.58 L225.74,382.58Z" fill="#ff1a1a"/>
<path d="M227.30,376.27 L228.86,379.09 L225.74,379.09Z" fill="#ff1a1a"/>
<path d="M227.30,372.78 L228.86,375.60 L225.74,375.60Z" fill="#ff1a1a"/>
<path d="M227.30,369.28 L228.86,372.10 L225.74,372.10Z" fill="#ff1a1a"/>
<path d="M227.30,365.79 L228.86,368.61 L225.74,368.61Z" fill="#ff1a1a"/>
<path d="M228.38,363.38 L229.94,366.20 L226.82,366.20Z" fill="#ff1a1a"/>
<path d="M231.88,363.38 L233.44,366.20 L230.31,366.20Z" fill="#ff1a1a"/>
<path d="M235.37,363.38 L236.93,366.20 L233.81,366.20Z" fill="#ff1a1a"/>
<path d="M238.86,363.38 L240.42,366.20 L237.30,366.20Z" fill="#ff1a1a"/>
<path d="M242.36,363.38 L243.92,366.20 L240.79,366.20Z" fill="#ff1a1a"/>
<path d="M245.85,363.38 L247.41,366.20 L244.29,366.20Z" fill="#ff1a1a"/>
<path d="M249.34,363.38 L250.90,366.20 L247.78,366.20Z" fill="#ff1a1a"/>
<path d="M252.83,363.38 L254.40,366.20 L251.27,366.20Z" fill="#ff1a1a"/>
<path d="M256.33,363.38 L257.89,366.20 L254.77,366.20Z" fill="#ff1a1a"/>
<path d="M259.82,363.38 L261.38,366.20 L258.26,366.20Z" fill="#ff1a1a"/>
<path d="M263.31,363.38 L264.88,366.20 L261.75,366.20Z" fill="#ff1a1a"/>
<path d="M266.81,363.38 L268.37,366.20 L265.25,366.20Z" fill="#ff1a1a"/>
<path d="M270.30,363.38 L271.86,366.20 L268.74,366.20Z" fill="#ff1a1a"/>
<path d="M273.79,363.38 L275.35,366.20 L272.23,366.20Z" fill="#ff1a1a"/>
<path d="M277.29,363.38 L278.85,366.20 L275.73,366.20Z" fill="#ff1a1a"/>
<path d="M280.78,363.38 L282.34,366.20 L279.22,366.20Z" fill="#ff1a1a"/>
<path d="M284.27,363.38 L285.83,366.20 L282.71,366.20Z" fill="#ff1a1a"/>
<path d="M287.77,363.38 L289.33,366.20 L286.21,366.20Z" fill="#ff1a1a"/>
<path d="M291.26,363.38 L292.82,366.20 L289.70,366.20Z" fill="#ff1a1a"/>
<path d="M294.75,363.38 L296.31,366.20 L293.19,366.20Z" fill="#ff1a1a"/>
<path d="M298.25,363.38 L299.81,366.20 L296.68,366.20Z" fill="#ff1a1a"/>
<path d="M301.74,363.38 L303.30,366.20 L300.18,366.20Z" fill="#ff1a1a"/>
<path d="M305.23,363.38 L306.79,366.20 L303.67,366.20Z" fill="#ff1a1a"/>
<path d="M308.73,363.38 L310.29,366.20 L307.16,366.20Z" fill="#ff1a1a"/>
<line x1="270.92" y1="421.80" x2="279.88" y2="421.80" stroke="#8c8cff" stroke-width="0.76"/>
<circle cx="275.40" cy="421.80" r="1.09" fill="#1f1fff"/>
<text x="285.00" y="423.87" font-size="6.00" fill="#1e1e1e" font-weight="bold" stroke="#1e1e1e" stroke-width="0.22" textLength="76.40" lengthAdjust="spacingAndGlyphs" xml:space="preserve">Anti-EBV EBNA-1 IgA [U/ml]</text>
<line x1="270.92" y1="431.50" x2="279.88" y2="431.50" stroke="#8cff8c" stroke-width="0.76"/>
<rect x="274.31" y="430.41" width="2.18" height="2.18" fill="#00ee00"/>
<text x="285.00" y="433.57" font-size="6.00" fill="#1e1e1e" font-weight="bold" stroke="#1e1e1e" stroke-width="0.22" textLength="79.60" lengthAdjust="spacingAndGlyphs" xml:space="preserve">Anti- EBV EBNA-1 IgM [U/ml]</text>
<line x1="270.92" y1="441.80" x2="279.88" y2="441.80" stroke="#ff9a9a" stroke-width="0.76"/>
<path d="M275.40,440.38 L276.66,442.73 L274.14,442.73Z" fill="#ff1a1a"/>
<text x="285.00" y="443.87" font-size="6.00" fill="#1e1e1e" font-weight="bold" stroke="#1e1e1e" stroke-width="0.22" textLength="76.40" lengthAdjust="spacingAndGlyphs" xml:space="preserve">Anti-EBV EBNA-1 IgG [U/ml]</text>
<text x="211.70" y="333.80" font-size="6.44" fill="#1e1e1e" font-weight="bold" stroke="#1e1e1e" stroke-width="0.22" textLength="120.70" lengthAdjust="spacingAndGlyphs" xml:space="preserve">ROC curve analysis of selective anti-EBV</text>
<text x="227.40" y="340.80" font-size="6.44" fill="#1e1e1e" font-weight="bold" stroke="#1e1e1e" stroke-width="0.22" textLength="88.60" lengthAdjust="spacingAndGlyphs" xml:space="preserve">antibody serum concentration</text>
<text x="209.20" y="347.80" font-size="6.44" fill="#1e1e1e" font-weight="bold" stroke="#1e1e1e" stroke-width="0.22" textLength="125.10" lengthAdjust="spacingAndGlyphs" xml:space="preserve">among CVID EBV+ and CVID EBV- patients</text>
<text x="397.30" y="452.26" font-size="6.57" fill="#1e1e1e" font-weight="bold" stroke="#1e1e1e" stroke-width="0.22" text-anchor="end" textLength="3.24" lengthAdjust="spacingAndGlyphs" xml:space="preserve">0</text>
<text x="401.50" y="460.84" font-size="6.57" fill="#1e1e1e" font-weight="bold" stroke="#1e1e1e" stroke-width="0.22" text-anchor="middle" textLength="3.24" lengthAdjust="spacingAndGlyphs" xml:space="preserve">0</text>
<text x="397.30" y="435.56" font-size="6.57" fill="#1e1e1e" font-weight="bold" stroke="#1e1e1e" stroke-width="0.22" text-anchor="end" textLength="6.47" lengthAdjust="spacingAndGlyphs" xml:space="preserve">20</text>
<text x="418.20" y="460.84" font-size="6.57" fill="#1e1e1e" font-weight="bold" stroke="#1e1e1e" stroke-width="0.22" text-anchor="middle" textLength="6.47" lengthAdjust="spacingAndGlyphs" xml:space="preserve">20</text>
<text x="397.30" y="418.86" font-size="6.57" fill="#1e1e1e" font-weight="bold" stroke="#1e1e1e" stroke-width="0.22" text-anchor="end" textLength="6.47" lengthAdjust="spacingAndGlyphs" xml:space="preserve">40</text>
<text x="434.90" y="460.84" font-size="6.57" fill="#1e1e1e" font-weight="bold" stroke="#1e1e1e" stroke-width="0.22" text-anchor="middle" textLength="6.47" lengthAdjust="spacingAndGlyphs" xml:space="preserve">40</text>
<text x="397.30" y="402.16" font-size="6.57" fill="#1e1e1e" font-weight="bold" stroke="#1e1e1e" stroke-width="0.22" text-anchor="end" textLength="6.47" lengthAdjust="spacingAndGlyphs" xml:space="preserve">60</text>
<text x="451.60" y="460.84" font-size="6.57" fill="#1e1e1e" font-weight="bold" stroke="#1e1e1e" stroke-width="0.22" text-anchor="middle" textLength="6.47" lengthAdjust="spacingAndGlyphs" xml:space="preserve">60</text>
<text x="397.30" y="385.46" font-size="6.57" fill="#1e1e1e" font-weight="bold" stroke="#1e1e1e" stroke-width="0.22" text-anchor="end" textLength="6.47" lengthAdjust="spacingAndGlyphs" xml:space="preserve">80</text>
<text x="468.30" y="460.84" font-size="6.57" fill="#1e1e1e" font-weight="bold" stroke="#1e1e1e" stroke-width="0.22" text-anchor="middle" textLength="6.47" lengthAdjust="spacingAndGlyphs" xml:space="preserve">80</text>
<text x="397.30" y="368.76" font-size="6.57" fill="#1e1e1e" font-weight="bold" stroke="#1e1e1e" stroke-width="0.22" text-anchor="end" textLength="9.71" lengthAdjust="spacingAndGlyphs" xml:space="preserve">100</text>
<text x="485.00" y="460.84" font-size="6.57" fill="#1e1e1e" font-weight="bold" stroke="#1e1e1e" stroke-width="0.22" text-anchor="middle" textLength="9.71" lengthAdjust="spacingAndGlyphs" xml:space="preserve">100</text>
<text x="443.25" y="471.15" font-size="6.90" fill="#1e1e1e" font-weight="bold" stroke="#1e1e1e" stroke-width="0.22" text-anchor="middle" textLength="64.21" lengthAdjust="spacingAndGlyphs" xml:space="preserve">100% - Specificity%</text>
<text x="382.32" y="407.71" font-size="6.90" fill="#1e1e1e" font-weight="bold" stroke="#1e1e1e" stroke-width="0.22" text-anchor="middle" textLength="47.17" lengthAdjust="spacingAndGlyphs" transform="rotate(-90 382.32 407.71)" xml:space="preserve">Sensitivity [%]</text>
<line x1="401.50" y1="450.00" x2="485.00" y2="366.50" stroke="#ffc0c0" stroke-width="0.65"/>
<path d="M401.50,366.50 V450.50 H485.00" fill="none" stroke="#151515" stroke-width="1.1"/>
<line x1="398.05" y1="450.00" x2="401.50" y2="450.00" stroke="#151515" stroke-width="0.97"/>
<line x1="401.50" y1="450.50" x2="401.50" y2="453.95" stroke="#151515" stroke-width="0.97"/>
<line x1="398.05" y1="433.30" x2="401.50" y2="433.30" stroke="#151515" stroke-width="0.97"/>
<line x1="418.20" y1="450.50" x2="418.20" y2="453.95" stroke="#151515" stroke-width="0.97"/>
<line x1="398.05" y1="416.60" x2="401.50" y2="416.60" stroke="#151515" stroke-width="0.97"/>
<line x1="434.90" y1="450.50" x2="434.90" y2="453.95" stroke="#151515" stroke-width="0.97"/>
<line x1="398.05" y1="399.90" x2="401.50" y2="399.90" stroke="#151515" stroke-width="0.97"/>
<line x1="451.60" y1="450.50" x2="451.60" y2="453.95" stroke="#151515" stroke-width="0.97"/>
<line x1="398.05" y1="383.20" x2="401.50" y2="383.20" stroke="#151515" stroke-width="0.97"/>
<line x1="468.30" y1="450.50" x2="468.30" y2="453.95" stroke="#151515" stroke-width="0.97"/>
<line x1="398.05" y1="366.50" x2="401.50" y2="366.50" stroke="#151515" stroke-width="0.97"/>
<line x1="485.00" y1="450.50" x2="485.00" y2="453.95" stroke="#151515" stroke-width="0.97"/>
<path d="M401.50,450.00 L401.50,414.93 L403.34,414.18 L410.52,414.18 L410.52,404.99 L412.52,402.57 L415.36,402.57 L415.36,391.38 L422.63,391.38 L422.63,380.28 L425.05,380.28 L425.05,371.59 L429.39,371.59 L429.39,369.17 L431.81,369.17 L433.73,366.50 L485.00,366.50" fill="none" stroke="#1f1fff" stroke-width="0.86"/>
<circle cx="401.50" cy="450.00" r="1.19" fill="#1f1fff"/>
<circle cx="401.50" cy="446.49" r="1.19" fill="#1f1fff"/>
<circle cx="401.50" cy="442.99" r="1.19" fill="#1f1fff"/>
<circle cx="401.50" cy="439.48" r="1.19" fill="#1f1fff"/>
<circle cx="401.50" cy="435.97" r="1.19" fill="#1f1fff"/>
<circle cx="401.50" cy="432.46" r="1.19" fill="#1f1fff"/>
<circle cx="401.50" cy="428.96" r="1.19" fill="#1f1fff"/>
<circle cx="401.50" cy="425.45" r="1.19" fill="#1f1fff"/>
<circle cx="401.50" cy="421.94" r="1.19" fill="#1f1fff"/>
<circle cx="401.50" cy="418.44" r="1.19" fill="#1f1fff"/>
<circle cx="401.50" cy="414.93" r="1.19" fill="#1f1fff"/>
<circle cx="403.34" cy="414.18" r="1.19" fill="#1f1fff"/>
<circle cx="405.73" cy="414.18" r="1.19" fill="#1f1fff"/>
<circle cx="408.12" cy="414.18" r="1.19" fill="#1f1fff"/>
<circle cx="410.52" cy="414.18" r="1.19" fill="#1f1fff"/>
<circle cx="410.52" cy="411.12" r="1.19" fill="#1f1fff"/>
<circle cx="410.52" cy="408.06" r="1.19" fill="#1f1fff"/>
<circle cx="410.52" cy="404.99" r="1.19" fill="#1f1fff"/>
<circle cx="412.52" cy="402.57" r="1.19" fill="#1f1fff"/>
<circle cx="415.36" cy="402.57" r="1.19" fill="#1f1fff"/>
<circle cx="415.36" cy="398.84" r="1.19" fill="#1f1fff"/>
<circle cx="415.36" cy="395.11" r="1.19" fill="#1f1fff"/>
<circle cx="415.36" cy="391.38" r="1.19" fill="#1f1fff"/>
<circle cx="417.78" cy="391.38" r="1.19" fill="#1f1fff"/>
<circle cx="420.20" cy="391.38" r="1.19" fill="#1f1fff"/>
<circle cx="422.63" cy="391.38" r="1.19" fill="#1f1fff"/>
<circle cx="422.63" cy="387.68" r="1.19" fill="#1f1fff"/>
<circle cx="422.63" cy="383.98" r="1.19" fill="#1f1fff"/>
<circle cx="422.63" cy="380.28" r="1.19" fill="#1f1fff"/>
<circle cx="425.05" cy="380.28" r="1.19" fill="#1f1fff"/>
<circle cx="425.05" cy="377.38" r="1.19" fill="#1f1fff"/>
<circle cx="425.05" cy="374.49" r="1.19" fill="#1f1fff"/>
<circle cx="425.05" cy="371.59" r="1.19" fill="#1f1fff"/>
<circle cx="427.22" cy="371.59" r="1.19" fill="#1f1fff"/>
<circle cx="429.39" cy="371.59" r="1.19" fill="#1f1fff"/>
<circle cx="429.39" cy="369.17" r="1.19" fill="#1f1fff"/>
<circle cx="431.81" cy="369.17" r="1.19" fill="#1f1fff"/>
<circle cx="433.73" cy="366.50" r="1.19" fill="#1f1fff"/>
<circle cx="436.17" cy="366.50" r="1.19" fill="#1f1fff"/>
<circle cx="438.61" cy="366.50" r="1.19" fill="#1f1fff"/>
<circle cx="441.06" cy="366.50" r="1.19" fill="#1f1fff"/>
<circle cx="443.50" cy="366.50" r="1.19" fill="#1f1fff"/>
<circle cx="445.94" cy="366.50" r="1.19" fill="#1f1fff"/>
<circle cx="448.38" cy="366.50" r="1.19" fill="#1f1fff"/>
<circle cx="450.82" cy="366.50" r="1.19" fill="#1f1fff"/>
<circle cx="453.26" cy="366.50" r="1.19" fill="#1f1fff"/>
<circle cx="455.70" cy="366.50" r="1.19" fill="#1f1fff"/>
<circle cx="458.14" cy="366.50" r="1.19" fill="#1f1fff"/>
<circle cx="460.59" cy="366.50" r="1.19" fill="#1f1fff"/>
<circle cx="463.03" cy="366.50" r="1.19" fill="#1f1fff"/>
<circle cx="465.47" cy="366.50" r="1.19" fill="#1f1fff"/>
<circle cx="467.91" cy="366.50" r="1.19" fill="#1f1fff"/>
<circle cx="470.35" cy="366.50" r="1.19" fill="#1f1fff"/>
<circle cx="472.79" cy="366.50" r="1.19" fill="#1f1fff"/>
<circle cx="475.23" cy="366.50" r="1.19" fill="#1f1fff"/>
<circle cx="477.68" cy="366.50" r="1.19" fill="#1f1fff"/>
<circle cx="480.12" cy="366.50" r="1.19" fill="#1f1fff"/>
<circle cx="482.56" cy="366.50" r="1.19" fill="#1f1fff"/>
<circle cx="485.00" cy="366.50" r="1.19" fill="#1f1fff"/>
<path d="M401.50,450.00 L401.50,428.21 L403.34,428.21 L403.34,422.70 L405.09,422.70 L405.09,419.52 L422.12,419.52 L422.12,410.75 L429.81,410.75 L432.73,407.92 L435.65,407.92 L438.57,406.00 L438.57,402.49 L447.68,402.49 L447.68,399.73 L453.19,399.73 L453.19,393.80 L459.03,393.80 L459.03,390.97 L468.63,390.97 L468.63,385.12 L472.06,382.70 L478.40,382.70 L478.40,372.09 L481.74,372.09 L484.16,370.17 L485.00,368.17 L485.00,366.50" fill="none" stroke="#00ee00" stroke-width="0.86"/>
<rect x="400.31" y="448.81" width="2.37" height="2.37" fill="#00ee00"/>
<rect x="400.31" y="445.18" width="2.37" height="2.37" fill="#00ee00"/>
<rect x="400.31" y="441.55" width="2.37" height="2.37" fill="#00ee00"/>
<rect x="400.31" y="437.92" width="2.37" height="2.37" fill="#00ee00"/>
<rect x="400.31" y="434.29" width="2.37" height="2.37" fill="#00ee00"/>
<rect x="400.31" y="430.65" width="2.37" height="2.37" fill="#00ee00"/>
<rect x="400.31" y="427.02" width="2.37" height="2.37" fill="#00ee00"/>
<rect x="402.15" y="427.02" width="2.37" height="2.37" fill="#00ee00"/>
<rect x="402.15" y="424.27" width="2.37" height="2.37" fill="#00ee00"/>
<rect x="402.15" y="421.51" width="2.37" height="2.37" fill="#00ee00"/>
<rect x="403.91" y="421.51" width="2.37" height="2.37" fill="#00ee00"/>
<rect x="403.91" y="418.34" width="2.37" height="2.37" fill="#00ee00"/>
<rect x="406.34" y="418.34" width="2.37" height="2.37" fill="#00ee00"/>
<rect x="408.77" y="418.34" width="2.37" height="2.37" fill="#00ee00"/>
<rect x="411.21" y="418.34" width="2.37" height="2.37" fill="#00ee00"/>
<rect x="413.64" y="418.34" width="2.37" height="2.37" fill="#00ee00"/>
<rect x="416.07" y="418.34" width="2.37" height="2.37" fill="#00ee00"/>
<rect x="418.51" y="418.34" width="2.37" height="2.37" fill="#00ee00"/>
<rect x="420.94" y="418.34" width="2.37" height="2.37" fill="#00ee00"/>
<rect x="420.94" y="415.41" width="2.37" height="2.37" fill="#00ee00"/>
<rect x="420.94" y="412.49" width="2.37" height="2.37" fill="#00ee00"/>
<rect x="420.94" y="409.57" width="2.37" height="2.37" fill="#00ee00"/>
<rect x="423.50" y="409.57" width="2.37" height="2.37" fill="#00ee00"/>
<rect x="426.06" y="409.57" width="2.37" height="2.37" fill="#00ee00"/>
<rect x="428.62" y="409.57" width="2.37" height="2.37" fill="#00ee00"/>
<rect x="431.54" y="406.73" width="2.37" height="2.37" fill="#00ee00"/>
<rect x="434.47" y="406.73" width="2.37" height="2.37" fill="#00ee00"/>
<rect x="437.39" y="404.81" width="2.37" height="2.37" fill="#00ee00"/>
<rect x="437.39" y="401.30" width="2.37" height="2.37" fill="#00ee00"/>
<rect x="439.66" y="401.30" width="2.37" height="2.37" fill="#00ee00"/>
<rect x="441.94" y="401.30" width="2.37" height="2.37" fill="#00ee00"/>
<rect x="444.21" y="401.30" width="2.37" height="2.37" fill="#00ee00"/>
<rect x="446.49" y="401.30" width="2.37" height="2.37" fill="#00ee00"/>
<rect x="446.49" y="398.55" width="2.37" height="2.37" fill="#00ee00"/>
<rect x="449.25" y="398.55" width="2.37" height="2.37" fill="#00ee00"/>
<rect x="452.00" y="398.55" width="2.37" height="2.37" fill="#00ee00"/>
<rect x="452.00" y="395.58" width="2.37" height="2.37" fill="#00ee00"/>
<rect x="452.00" y="392.62" width="2.37" height="2.37" fill="#00ee00"/>
<rect x="454.92" y="392.62" width="2.37" height="2.37" fill="#00ee00"/>
<rect x="457.85" y="392.62" width="2.37" height="2.37" fill="#00ee00"/>
<rect x="457.85" y="389.78" width="2.37" height="2.37" fill="#00ee00"/>
<rect x="460.25" y="389.78" width="2.37" height="2.37" fill="#00ee00"/>
<rect x="462.65" y="389.78" width="2.37" height="2.37" fill="#00ee00"/>
<rect x="465.05" y="389.78" width="2.37" height="2.37" fill="#00ee00"/>
<rect x="467.45" y="389.78" width="2.37" height="2.37" fill="#00ee00"/>
<rect x="467.45" y="386.86" width="2.37" height="2.37" fill="#00ee00"/>
<rect x="467.45" y="383.94" width="2.37" height="2.37" fill="#00ee00"/>
<rect x="470.87" y="381.51" width="2.37" height="2.37" fill="#00ee00"/>
<rect x="472.99" y="381.51" width="2.37" height="2.37" fill="#00ee00"/>
<rect x="475.10" y="381.51" width="2.37" height="2.37" fill="#00ee00"/>
<rect x="477.22" y="381.51" width="2.37" height="2.37" fill="#00ee00"/>
<rect x="477.22" y="377.98" width="2.37" height="2.37" fill="#00ee00"/>
<rect x="477.22" y="374.44" width="2.37" height="2.37" fill="#00ee00"/>
<rect x="477.22" y="370.91" width="2.37" height="2.37" fill="#00ee00"/>
<rect x="480.56" y="370.91" width="2.37" height="2.37" fill="#00ee00"/>
<rect x="482.98" y="368.99" width="2.37" height="2.37" fill="#00ee00"/>
<rect x="483.81" y="366.98" width="2.37" height="2.37" fill="#00ee00"/>
<rect x="483.81" y="365.31" width="2.37" height="2.37" fill="#00ee00"/>
<path d="M401.50,450.00 L412.52,450.00 L412.52,444.74 L415.36,441.73 L417.37,441.73 L420.29,439.31 L422.71,439.31 L424.63,436.89 L424.63,425.28 L427.05,425.28 L429.06,422.44 L430.47,419.52 L430.98,416.60 L431.48,413.68 L431.48,410.75 L436.32,410.75 L437.82,408.42 L440.75,408.42 L440.75,405.49 L440.75,394.31 L443.42,391.38 L443.42,380.28 L445.34,380.28 L445.34,375.02 L457.53,375.02 L457.53,372.09 L459.95,369.17 L459.95,366.50 L485.00,366.50" fill="none" stroke="#ff1a1a" stroke-width="0.86"/>
<path d="M401.50,448.40 L403.04,451.19 L399.96,451.19Z" fill="#ff1a1a"/>
<path d="M404.26,448.40 L405.80,451.19 L402.71,451.19Z" fill="#ff1a1a"/>
<path d="M407.01,448.40 L408.55,451.19 L405.47,451.19Z" fill="#ff1a1a"/>
<path d="M409.77,448.40 L411.31,451.19 L408.23,451.19Z" fill="#ff1a1a"/>
<path d="M412.52,448.40 L414.06,451.19 L410.98,451.19Z" fill="#ff1a1a"/>
<path d="M412.52,445.77 L414.06,448.55 L410.98,448.55Z" fill="#ff1a1a"/>
<path d="M412.52,443.14 L414.06,445.92 L410.98,445.92Z" fill="#ff1a1a"/>
<path d="M415.36,440.13 L416.90,442.92 L413.82,442.92Z" fill="#ff1a1a"/>
<path d="M417.37,440.13 L418.91,442.92 L415.82,442.92Z" fill="#ff1a1a"/>
<path d="M420.29,437.71 L421.83,440.50 L418.75,440.50Z" fill="#ff1a1a"/>
<path d="M422.71,437.71 L424.25,440.50 L421.17,440.50Z" fill="#ff1a1a"/>
<path d="M424.63,435.29 L426.17,438.08 L423.09,438.08Z" fill="#ff1a1a"/>
<path d="M424.63,431.42 L426.17,434.21 L423.09,434.21Z" fill="#ff1a1a"/>
<path d="M424.63,427.55 L426.17,430.34 L423.09,430.34Z" fill="#ff1a1a"/>
<path d="M424.63,423.68 L426.17,426.47 L423.09,426.47Z" fill="#ff1a1a"/>
<path d="M427.05,423.68 L428.59,426.47 L425.51,426.47Z" fill="#ff1a1a"/>
<path d="M429.06,420.85 L430.60,423.63 L427.51,423.63Z" fill="#ff1a1a"/>
<path d="M430.47,417.92 L432.02,420.71 L428.93,420.71Z" fill="#ff1a1a"/>
<path d="M430.98,415.00 L432.52,417.79 L429.43,417.79Z" fill="#ff1a1a"/>
<path d="M431.48,412.08 L433.02,414.86 L429.94,414.86Z" fill="#ff1a1a"/>
<path d="M431.48,409.16 L433.02,411.94 L429.94,411.94Z" fill="#ff1a1a"/>
<path d="M433.90,409.16 L435.44,411.94 L432.36,411.94Z" fill="#ff1a1a"/>
<path d="M436.32,409.16 L437.86,411.94 L434.78,411.94Z" fill="#ff1a1a"/>
<path d="M437.82,406.82 L439.36,409.60 L436.28,409.60Z" fill="#ff1a1a"/>
<path d="M440.75,406.82 L442.29,409.60 L439.20,409.60Z" fill="#ff1a1a"/>
<path d="M440.75,403.89 L442.29,406.68 L439.20,406.68Z" fill="#ff1a1a"/>
<path d="M440.75,400.16 L442.29,402.95 L439.20,402.95Z" fill="#ff1a1a"/>
<path d="M440.75,396.44 L442.29,399.22 L439.20,399.22Z" fill="#ff1a1a"/>
<path d="M440.75,392.71 L442.29,395.49 L439.20,395.49Z" fill="#ff1a1a"/>
<path d="M443.42,389.78 L444.96,392.57 L441.88,392.57Z" fill="#ff1a1a"/>
<path d="M443.42,386.08 L444.96,388.87 L441.88,388.87Z" fill="#ff1a1a"/>
<path d="M443.42,382.38 L444.96,385.16 L441.88,385.16Z" fill="#ff1a1a"/>
<path d="M443.42,378.68 L444.96,381.46 L441.88,381.46Z" fill="#ff1a1a"/>
<path d="M445.34,378.68 L446.88,381.46 L443.80,381.46Z" fill="#ff1a1a"/>
<path d="M445.34,376.05 L446.88,378.83 L443.80,378.83Z" fill="#ff1a1a"/>
<path d="M445.34,373.42 L446.88,376.20 L443.80,376.20Z" fill="#ff1a1a"/>
<path d="M447.78,373.42 L449.32,376.20 L446.23,376.20Z" fill="#ff1a1a"/>
<path d="M450.21,373.42 L451.75,376.20 L448.67,376.20Z" fill="#ff1a1a"/>
<path d="M452.65,373.42 L454.19,376.20 L451.11,376.20Z" fill="#ff1a1a"/>
<path d="M455.09,373.42 L456.63,376.20 L453.55,376.20Z" fill="#ff1a1a"/>
<path d="M457.53,373.42 L459.07,376.20 L455.99,376.20Z" fill="#ff1a1a"/>
<path d="M457.53,370.49 L459.07,373.28 L455.99,373.28Z" fill="#ff1a1a"/>
<path d="M459.95,367.57 L461.49,370.36 L458.41,370.36Z" fill="#ff1a1a"/>
<path d="M459.95,364.90 L461.49,367.69 L458.41,367.69Z" fill="#ff1a1a"/>
<path d="M462.45,364.90 L464.00,367.69 L460.91,367.69Z" fill="#ff1a1a"/>
<path d="M464.96,364.90 L466.50,367.69 L463.42,367.69Z" fill="#ff1a1a"/>
<path d="M467.47,364.90 L469.01,367.69 L465.92,367.69Z" fill="#ff1a1a"/>
<path d="M469.97,364.90 L471.51,367.69 L468.43,367.69Z" fill="#ff1a1a"/>
<path d="M472.48,364.90 L474.02,367.69 L470.93,367.69Z" fill="#ff1a1a"/>
<path d="M474.98,364.90 L476.52,367.69 L473.44,367.69Z" fill="#ff1a1a"/>
<path d="M477.49,364.90 L479.03,367.69 L475.94,367.69Z" fill="#ff1a1a"/>
<path d="M479.99,364.90 L481.53,367.69 L478.45,367.69Z" fill="#ff1a1a"/>
<path d="M482.50,364.90 L484.04,367.69 L480.95,367.69Z" fill="#ff1a1a"/>
<path d="M485.00,364.90 L486.54,367.69 L483.46,367.69Z" fill="#ff1a1a"/>
<line x1="451.88" y1="418.30" x2="460.72" y2="418.30" stroke="#8c8cff" stroke-width="0.75"/>
<circle cx="456.30" cy="418.30" r="1.08" fill="#1f1fff"/>
<text x="465.90" y="420.35" font-size="5.93" fill="#1e1e1e" font-weight="bold" stroke="#1e1e1e" stroke-width="0.22" textLength="77.30" lengthAdjust="spacingAndGlyphs" xml:space="preserve">Anti-EBV EBNA-1 IgA [U/ml]</text>
<line x1="451.88" y1="428.30" x2="460.72" y2="428.30" stroke="#8cff8c" stroke-width="0.75"/>
<rect x="455.22" y="427.22" width="2.15" height="2.15" fill="#00ee00"/>
<text x="465.90" y="430.35" font-size="5.93" fill="#1e1e1e" font-weight="bold" stroke="#1e1e1e" stroke-width="0.22" textLength="78.70" lengthAdjust="spacingAndGlyphs" xml:space="preserve">Anti- EBV EBNA-1 IgM [U/ml]</text>
<line x1="451.88" y1="438.30" x2="460.72" y2="438.30" stroke="#ff9a9a" stroke-width="0.75"/>
<path d="M456.30,436.90 L457.54,439.22 L455.06,439.22Z" fill="#ff1a1a"/>
<text x="465.90" y="440.35" font-size="5.93" fill="#1e1e1e" font-weight="bold" stroke="#1e1e1e" stroke-width="0.22" textLength="77.30" lengthAdjust="spacingAndGlyphs" xml:space="preserve">Anti-EBV EBNA-1 IgG [U/ml]</text>
<text x="380.80" y="333.80" font-size="6.36" fill="#1e1e1e" font-weight="bold" stroke="#1e1e1e" stroke-width="0.22" textLength="124.10" lengthAdjust="spacingAndGlyphs" xml:space="preserve">ROC curve analysis of selective anti-EBV</text>
<text x="397.40" y="340.80" font-size="6.36" fill="#1e1e1e" font-weight="bold" stroke="#1e1e1e" stroke-width="0.22" textLength="91.60" lengthAdjust="spacingAndGlyphs" xml:space="preserve">antibody serum concentration</text>
<text x="378.70" y="347.80" font-size="6.36" fill="#1e1e1e" font-weight="bold" stroke="#1e1e1e" stroke-width="0.22" textLength="128.10" lengthAdjust="spacingAndGlyphs" xml:space="preserve">among CLL EBV+ and CVID EBV+ patients</text>
</svg>
</body></html>
